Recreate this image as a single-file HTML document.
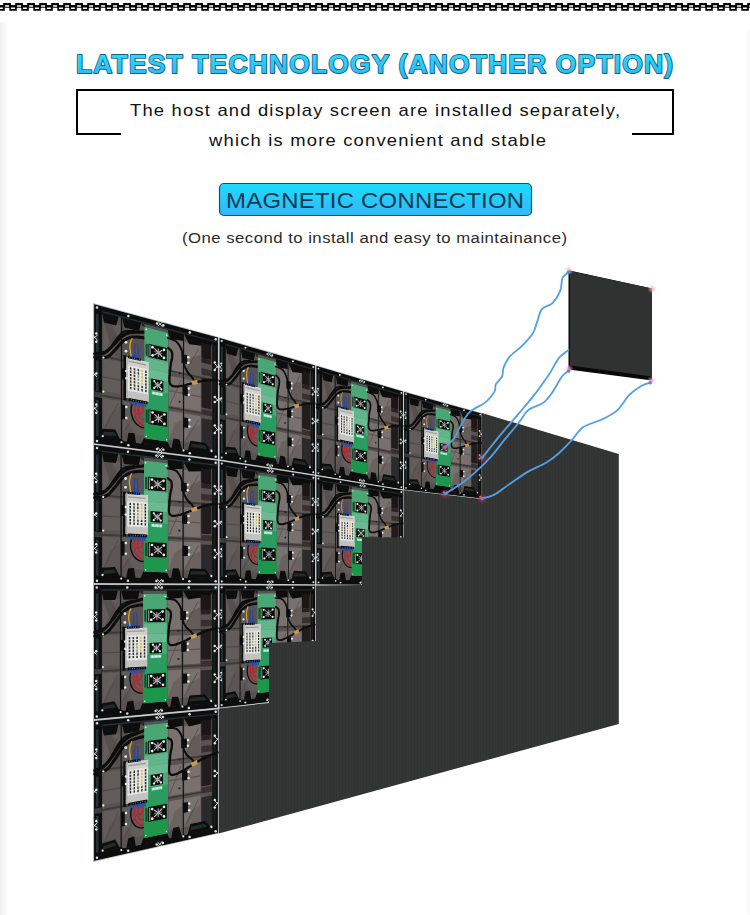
<!DOCTYPE html>
<html><head><meta charset="utf-8">
<style>
html,body{margin:0;padding:0;background:#fff;}
body{width:750px;height:915px;position:relative;overflow:hidden;font-family:"Liberation Sans",sans-serif;}
svg{position:absolute;left:0;top:0;}
text{font-family:"Liberation Sans",sans-serif;}
</style></head><body>
<svg width="750" height="915" viewBox="0 0 750 915">
<defs>
<linearGradient id="tg" x1="0" y1="0" x2="0" y2="1"><stop offset="0" stop-color="#2ce2ff"/><stop offset="1" stop-color="#2fb2f3"/></linearGradient>
<linearGradient id="bg" x1="0" y1="0" x2="0" y2="1"><stop offset="0" stop-color="#1fdcff"/><stop offset="1" stop-color="#30b8f7"/></linearGradient>
<linearGradient id="le" x1="0" y1="0" x2="1" y2="0"><stop offset="0" stop-color="#e9e9e9"/><stop offset="1" stop-color="#ffffff"/></linearGradient>
<filter id="soft" x="-2%" y="-2%" width="104%" height="104%"><feGaussianBlur stdDeviation="0.45"/></filter>
<linearGradient id="edgeL" x1="0" y1="0" x2="1" y2="0"><stop offset="0" stop-color="#f0f0f0"/><stop offset="1" stop-color="#ffffff"/></linearGradient>
<linearGradient id="edgeR" x1="0" y1="0" x2="1" y2="0"><stop offset="0" stop-color="#ffffff"/><stop offset="1" stop-color="#f8f8f8"/></linearGradient>
</defs>
<rect x="0" y="22" width="8" height="893" fill="url(#edgeL)"/>
<rect x="745" y="30" width="5" height="885" fill="url(#edgeR)"/>
<path d="M-8.8 3h7.700v4.700h-7.700zM-2.7 5h7.500v5.700h-7.500zM3.2 3h7.700v4.700h-7.700zM9.3 5h7.500v5.700h-7.500zM15.2 3h7.700v4.700h-7.700zM21.3 5h7.500v5.700h-7.500zM27.2 3h7.700v4.700h-7.700zM33.3 5h7.500v5.700h-7.500zM39.2 3h7.700v4.700h-7.700zM45.3 5h7.500v5.700h-7.500zM51.2 3h7.700v4.700h-7.700zM57.3 5h7.500v5.700h-7.500zM63.2 3h7.700v4.700h-7.700zM69.3 5h7.500v5.700h-7.500zM75.2 3h7.700v4.700h-7.700zM81.3 5h7.500v5.700h-7.500zM87.2 3h7.700v4.700h-7.700zM93.3 5h7.500v5.700h-7.500zM99.2 3h7.700v4.700h-7.700zM105.3 5h7.500v5.700h-7.500zM111.2 3h7.700v4.700h-7.700zM117.3 5h7.500v5.700h-7.500zM123.2 3h7.700v4.700h-7.700zM129.3 5h7.500v5.700h-7.500zM135.2 3h7.700v4.700h-7.700zM141.3 5h7.500v5.700h-7.500zM147.2 3h7.700v4.700h-7.700zM153.3 5h7.500v5.700h-7.500zM159.2 3h7.700v4.700h-7.700zM165.3 5h7.500v5.700h-7.500zM171.2 3h7.700v4.700h-7.700zM177.3 5h7.500v5.700h-7.500zM183.2 3h7.700v4.700h-7.700zM189.3 5h7.500v5.700h-7.500zM195.2 3h7.700v4.700h-7.700zM201.3 5h7.500v5.700h-7.500zM207.2 3h7.700v4.700h-7.700zM213.3 5h7.500v5.700h-7.500zM219.2 3h7.700v4.700h-7.700zM225.3 5h7.500v5.700h-7.500zM231.2 3h7.700v4.700h-7.700zM237.3 5h7.500v5.700h-7.500zM243.2 3h7.700v4.700h-7.700zM249.3 5h7.500v5.700h-7.500zM255.2 3h7.700v4.700h-7.700zM261.3 5h7.500v5.700h-7.500zM267.2 3h7.700v4.700h-7.700zM273.3 5h7.500v5.700h-7.500zM279.2 3h7.700v4.700h-7.700zM285.3 5h7.500v5.700h-7.500zM291.2 3h7.700v4.700h-7.700zM297.3 5h7.500v5.700h-7.500zM303.2 3h7.700v4.700h-7.700zM309.3 5h7.500v5.700h-7.500zM315.2 3h7.700v4.700h-7.700zM321.3 5h7.500v5.700h-7.500zM327.2 3h7.700v4.700h-7.700zM333.3 5h7.500v5.700h-7.500zM339.2 3h7.700v4.700h-7.700zM345.3 5h7.500v5.700h-7.500zM351.2 3h7.700v4.700h-7.700zM357.3 5h7.500v5.700h-7.500zM363.2 3h7.700v4.700h-7.700zM369.3 5h7.500v5.700h-7.500zM375.2 3h7.700v4.700h-7.700zM381.3 5h7.500v5.700h-7.500zM387.2 3h7.700v4.700h-7.700zM393.3 5h7.500v5.700h-7.500zM399.2 3h7.700v4.700h-7.700zM405.3 5h7.500v5.700h-7.500zM411.2 3h7.700v4.700h-7.700zM417.3 5h7.500v5.700h-7.500zM423.2 3h7.700v4.700h-7.700zM429.3 5h7.500v5.700h-7.500zM435.2 3h7.700v4.700h-7.700zM441.3 5h7.500v5.700h-7.500zM447.2 3h7.700v4.700h-7.700zM453.3 5h7.500v5.700h-7.500zM459.2 3h7.700v4.700h-7.700zM465.3 5h7.500v5.700h-7.500zM471.2 3h7.700v4.700h-7.700zM477.3 5h7.500v5.700h-7.500zM483.2 3h7.700v4.700h-7.700zM489.3 5h7.500v5.700h-7.500zM495.2 3h7.700v4.700h-7.700zM501.3 5h7.500v5.700h-7.500zM507.2 3h7.700v4.700h-7.700zM513.3 5h7.500v5.700h-7.500zM519.2 3h7.700v4.700h-7.700zM525.3 5h7.500v5.700h-7.500zM531.2 3h7.700v4.700h-7.700zM537.3 5h7.500v5.700h-7.500zM543.2 3h7.700v4.700h-7.700zM549.3 5h7.500v5.700h-7.500zM555.2 3h7.700v4.700h-7.700zM561.3 5h7.500v5.700h-7.500zM567.2 3h7.700v4.700h-7.700zM573.3 5h7.500v5.700h-7.500zM579.2 3h7.700v4.700h-7.700zM585.3 5h7.500v5.700h-7.500zM591.2 3h7.700v4.700h-7.700zM597.3 5h7.500v5.700h-7.500zM603.2 3h7.700v4.700h-7.700zM609.3 5h7.500v5.700h-7.500zM615.2 3h7.700v4.700h-7.700zM621.3 5h7.500v5.700h-7.500zM627.2 3h7.700v4.700h-7.700zM633.3 5h7.500v5.700h-7.500zM639.2 3h7.700v4.700h-7.700zM645.3 5h7.500v5.700h-7.500zM651.2 3h7.700v4.700h-7.700zM657.3 5h7.500v5.700h-7.500zM663.2 3h7.700v4.700h-7.700zM669.3 5h7.500v5.700h-7.500zM675.2 3h7.700v4.700h-7.700zM681.3 5h7.500v5.700h-7.500zM687.2 3h7.700v4.700h-7.700zM693.3 5h7.500v5.700h-7.500zM699.2 3h7.700v4.700h-7.700zM705.3 5h7.500v5.700h-7.500zM711.2 3h7.700v4.700h-7.700zM717.3 5h7.500v5.700h-7.500zM723.2 3h7.700v4.700h-7.700zM729.3 5h7.500v5.700h-7.500zM735.2 3h7.700v4.700h-7.700zM741.3 5h7.500v5.700h-7.500zM747.2 3h7.700v4.700h-7.700zM753.3 5h7.500v5.700h-7.500zM759.2 3h7.700v4.700h-7.700zM765.3 5h7.500v5.700h-7.500z" fill="#000"/>
<path d="M-6.9 5.200h3.900v1.500h-3.900zM-1 7.400h3.900v1.500h-3.900zM5.1 5.200h3.900v1.500h-3.900zM11 7.400h3.900v1.500h-3.900zM17.1 5.200h3.900v1.500h-3.900zM23 7.400h3.900v1.500h-3.900zM29.1 5.200h3.900v1.500h-3.900zM35 7.400h3.900v1.500h-3.900zM41.1 5.200h3.900v1.500h-3.900zM47 7.400h3.900v1.500h-3.900zM53.1 5.200h3.900v1.500h-3.900zM59 7.400h3.900v1.500h-3.900zM65.1 5.200h3.900v1.500h-3.900zM71 7.400h3.900v1.500h-3.900zM77.1 5.200h3.900v1.500h-3.900zM83 7.400h3.900v1.500h-3.900zM89.1 5.200h3.900v1.500h-3.900zM95 7.400h3.900v1.500h-3.900zM101.1 5.200h3.900v1.500h-3.900zM107 7.400h3.900v1.500h-3.900zM113.1 5.200h3.900v1.500h-3.900zM119 7.400h3.900v1.500h-3.900zM125.1 5.200h3.900v1.500h-3.900zM131 7.400h3.900v1.500h-3.900zM137.1 5.200h3.900v1.500h-3.900zM143 7.400h3.900v1.500h-3.900zM149.1 5.200h3.900v1.500h-3.900zM155 7.400h3.900v1.500h-3.900zM161.1 5.200h3.900v1.500h-3.900zM167 7.400h3.900v1.500h-3.900zM173.1 5.200h3.900v1.500h-3.900zM179 7.400h3.900v1.500h-3.900zM185.1 5.200h3.900v1.500h-3.900zM191 7.400h3.900v1.500h-3.900zM197.1 5.200h3.900v1.500h-3.900zM203 7.400h3.900v1.500h-3.900zM209.1 5.200h3.900v1.500h-3.900zM215 7.400h3.900v1.500h-3.900zM221.1 5.200h3.900v1.500h-3.900zM227 7.400h3.900v1.500h-3.900zM233.1 5.200h3.900v1.500h-3.900zM239 7.400h3.900v1.500h-3.900zM245.1 5.200h3.900v1.500h-3.900zM251 7.400h3.900v1.500h-3.900zM257.1 5.200h3.900v1.500h-3.900zM263 7.400h3.900v1.500h-3.900zM269.1 5.200h3.900v1.500h-3.900zM275 7.400h3.900v1.500h-3.900zM281.1 5.200h3.900v1.500h-3.900zM287 7.400h3.900v1.500h-3.900zM293.1 5.200h3.900v1.500h-3.900zM299 7.400h3.900v1.500h-3.900zM305.1 5.200h3.900v1.500h-3.900zM311 7.400h3.900v1.500h-3.900zM317.1 5.200h3.900v1.500h-3.900zM323 7.400h3.900v1.500h-3.900zM329.1 5.200h3.900v1.500h-3.900zM335 7.400h3.900v1.500h-3.900zM341.1 5.200h3.900v1.500h-3.900zM347 7.400h3.900v1.500h-3.900zM353.1 5.200h3.900v1.500h-3.900zM359 7.400h3.900v1.500h-3.900zM365.1 5.200h3.900v1.500h-3.900zM371 7.400h3.900v1.500h-3.900zM377.1 5.200h3.900v1.500h-3.900zM383 7.400h3.900v1.500h-3.900zM389.1 5.200h3.900v1.500h-3.900zM395 7.400h3.900v1.500h-3.900zM401.1 5.200h3.900v1.500h-3.900zM407 7.400h3.900v1.500h-3.900zM413.1 5.200h3.900v1.500h-3.900zM419 7.400h3.900v1.500h-3.900zM425.1 5.200h3.900v1.500h-3.900zM431 7.400h3.900v1.500h-3.900zM437.1 5.200h3.900v1.500h-3.900zM443 7.400h3.900v1.500h-3.900zM449.1 5.200h3.900v1.500h-3.900zM455 7.400h3.900v1.500h-3.900zM461.1 5.200h3.900v1.500h-3.900zM467 7.400h3.900v1.500h-3.900zM473.1 5.200h3.900v1.500h-3.900zM479 7.400h3.900v1.500h-3.900zM485.1 5.200h3.900v1.500h-3.900zM491 7.400h3.900v1.500h-3.900zM497.1 5.200h3.900v1.500h-3.900zM503 7.400h3.900v1.500h-3.900zM509.1 5.200h3.900v1.500h-3.900zM515 7.400h3.900v1.500h-3.900zM521.1 5.200h3.900v1.500h-3.900zM527 7.400h3.900v1.500h-3.900zM533.1 5.200h3.900v1.500h-3.900zM539 7.400h3.900v1.500h-3.900zM545.1 5.200h3.900v1.500h-3.900zM551 7.400h3.900v1.500h-3.900zM557.1 5.200h3.900v1.500h-3.900zM563 7.400h3.900v1.500h-3.900zM569.1 5.200h3.900v1.500h-3.900zM575 7.400h3.900v1.500h-3.900zM581.1 5.200h3.900v1.500h-3.900zM587 7.400h3.900v1.500h-3.900zM593.1 5.200h3.900v1.500h-3.900zM599 7.400h3.900v1.500h-3.900zM605.1 5.200h3.900v1.500h-3.900zM611 7.400h3.900v1.500h-3.900zM617.1 5.200h3.900v1.500h-3.900zM623 7.400h3.900v1.500h-3.900zM629.1 5.200h3.900v1.500h-3.900zM635 7.400h3.900v1.500h-3.900zM641.1 5.200h3.900v1.500h-3.900zM647 7.400h3.900v1.500h-3.900zM653.1 5.200h3.900v1.500h-3.900zM659 7.400h3.900v1.500h-3.900zM665.1 5.200h3.900v1.500h-3.900zM671 7.400h3.900v1.500h-3.900zM677.1 5.200h3.900v1.500h-3.900zM683 7.400h3.900v1.500h-3.900zM689.1 5.200h3.900v1.500h-3.900zM695 7.400h3.900v1.500h-3.900zM701.1 5.200h3.900v1.500h-3.900zM707 7.400h3.900v1.500h-3.900zM713.1 5.200h3.900v1.500h-3.900zM719 7.400h3.900v1.500h-3.900zM725.1 5.200h3.900v1.500h-3.900zM731 7.400h3.900v1.500h-3.900zM737.1 5.200h3.900v1.500h-3.900zM743 7.400h3.900v1.500h-3.900zM749.1 5.200h3.900v1.500h-3.900zM755 7.400h3.900v1.500h-3.900zM761.1 5.200h3.900v1.500h-3.900zM767 7.400h3.900v1.500h-3.900z" fill="#fff"/>
<text x="374.5" y="72.5" text-anchor="middle" font-size="26.5" font-weight="bold" fill="url(#tg)" stroke="#15617f" stroke-width="1.800" paint-order="stroke" stroke-linejoin="round" textLength="597" lengthAdjust="spacing">LATEST TECHNOLOGY (ANOTHER OPTION)</text>
<path d="M121 134H77V90H673V134H632" fill="none" stroke="#000" stroke-width="2"/>
<text transform="translate(375 115.8) scale(1.15 1)" x="0" y="0" text-anchor="middle" font-size="16" fill="#111" textLength="426.1" lengthAdjust="spacing">The host and display screen are installed separately,</text>
<text transform="translate(377.5 145.7) scale(1.15 1)" x="0" y="0" text-anchor="middle" font-size="16" fill="#111" textLength="293.0" lengthAdjust="spacing">which is more convenient and stable</text>
<rect x="219.500" y="183.500" width="312" height="32" rx="4.500" fill="url(#bg)" stroke="#17506e" stroke-width="1.200"/>
<text transform="translate(375 207.6) scale(1.1 1)" x="0" y="0" text-anchor="middle" font-size="21.7" fill="#123a52" textLength="270.9" lengthAdjust="spacing">MAGNETIC CONNECTION</text>
<text transform="translate(374.5 243.2) scale(1.08 1)" x="0" y="0" text-anchor="middle" font-size="15.5" fill="#2a2a2a" textLength="356.5" lengthAdjust="spacing">(One second to install and easy to maintainance)</text>

<g id="wall" filter="url(#soft)">
<polygon points="93.0,303.0 218.7,337.0 218.7,460.0 93.0,444.0" fill="#b9bcbc"/>
<polygon points="94.2,304.3 217.8,337.6 217.8,459.0 94.2,443.2" fill="#0b0d0d"/>
<polygon points="102.0,312.4 212.6,341.6 212.6,453.7 102.0,438.9" fill="#595352"/>
<polygon points="103.3,321.1 120.5,325.5 120.5,357.7 103.3,353.9" fill="#625c5a"/>
<polygon points="103.3,358.8 120.5,362.5 120.5,394.0 103.3,390.9" fill="#625c5a"/>
<polygon points="103.3,397.9 120.5,400.9 120.5,432.4 103.3,430.0" fill="#625c5a"/>
<polygon points="122.8,326.1 144.2,331.6 144.2,361.0 122.8,356.2" fill="#595352"/>
<polygon points="122.8,401.3 144.2,405.1 144.2,435.8 122.8,432.7" fill="#625c5a"/>
<polygon points="168.8,337.8 182.7,341.4 182.7,374.7 168.8,371.7" fill="#78716e"/>
<polygon points="168.8,375.6 182.7,378.5 182.7,408.0 168.8,405.5" fill="#78716e"/>
<polygon points="168.8,410.7 182.7,413.1 182.7,441.3 168.8,439.3" fill="#78716e"/>
<polygon points="184.5,341.8 200.8,346.0 200.8,377.4 184.5,373.8" fill="#78716e"/>
<polygon points="184.5,378.9 200.8,382.4 200.8,411.3 184.5,408.3" fill="#78716e"/>
<polygon points="184.5,413.4 200.8,416.3 200.8,443.9 184.5,441.6" fill="#78716e"/>
<polygon points="103.3,321.1 111.4,323.2 120.5,343.3 120.5,357.7 114.1,356.3" fill="#57504e"/>
<polygon points="103.3,430.0 110.0,412.9 120.5,406.4 120.5,432.4" fill="#5b5452"/>
<polygon points="184.5,373.8 191.6,357.6 200.8,354.8 200.8,377.4" fill="#645c59"/>
<polygon points="168.8,439.3 174.9,423.4 182.7,419.5 182.7,441.3" fill="#6a625f"/>
<polygon points="184.5,441.6 190.4,428.4 200.8,425.1 200.8,443.9" fill="#6a625f"/>
<polygon points="122.8,432.7 127.8,421.2 134.4,434.4" fill="#5b5452"/>
<polyline points="104.4,428.7 118.3,403.3" fill="none" stroke="#4c4644" stroke-width="0.67" stroke-linecap="round" stroke-linejoin="round"/>
<polyline points="123.7,431.5 139.7,409.6" fill="none" stroke="#4c4644" stroke-width="0.67" stroke-linecap="round" stroke-linejoin="round"/>
<polyline points="170.0,404.4 180.9,380.7" fill="none" stroke="#4c4644" stroke-width="0.67" stroke-linecap="round" stroke-linejoin="round"/>
<polyline points="185.7,440.5 198.5,419.7" fill="none" stroke="#4c4644" stroke-width="0.67" stroke-linecap="round" stroke-linejoin="round"/>
<polyline points="185.7,371.5 198.5,349.2" fill="none" stroke="#4c4644" stroke-width="0.67" stroke-linecap="round" stroke-linejoin="round"/>
<polyline points="104.4,352.1 118.3,329.1" fill="none" stroke="#4c4644" stroke-width="0.67" stroke-linecap="round" stroke-linejoin="round"/>
<polygon points="102.0,355.0 212.6,379.3 212.6,381.1 102.0,357.0" fill="#3f3938"/>
<polygon points="102.0,394.6 212.6,414.4 212.6,416.1 102.0,396.5" fill="#3f3938"/>
<polygon points="102.0,376.0 121.0,379.8 121.0,381.1 102.0,377.4" fill="#514a48"/>
<polygon points="168.8,389.9 200.8,396.2 200.8,397.4 168.8,391.2" fill="#5d5553"/>
<polygon points="95.2,309.1 217.1,341.4 217.1,342.8 95.2,310.8" fill="#203234"/>
<polygon points="102.0,312.4 118.7,316.8 116.2,325.5 104.0,322.4" fill="#0b0d0d"/>
<polygon points="122.1,317.7 141.2,322.8 139.1,330.9 124.5,327.6" fill="#0b0d0d"/>
<polygon points="141.2,322.8 144.6,323.6 144.6,327.6 142.0,325.6" fill="#2a2626"/>
<polygon points="168.2,329.9 183.1,333.8 183.1,340.8 171.3,339.1 168.2,335.1" fill="#0b0d0d"/>
<polygon points="184.0,334.0 212.6,341.6 211.0,346.7 189.2,344.3" fill="#0b0d0d"/>
<polygon points="120.9,317.4 122.1,317.7 122.1,441.5 120.9,441.4" fill="#0b0d0d"/>
<polygon points="183.1,333.8 184.0,334.0 184.0,449.8 183.1,449.7" fill="#0b0d0d"/>
<polygon points="94.7,309.1 102.0,311.0 102.0,439.6 94.7,438.6" fill="#0b0d0d"/>
<polygon points="96.0,313.7 98.6,314.3 98.6,352.2 96.0,351.6" fill="#203234"/>
<polygon points="96.0,360.0 98.6,360.6 98.6,391.4 96.0,391.0" fill="#203234"/>
<polygon points="96.0,399.4 98.6,399.8 98.6,436.3 96.0,435.9" fill="#203234"/>
<polygon points="94.7,352.7 102.0,354.3 102.0,359.9 94.7,358.4" fill="#2f3030"/>
<polygon points="94.7,391.4 102.0,392.8 102.0,398.3 94.7,397.1" fill="#3c3a3a"/>
<polygon points="201.5,342.8 211.2,345.3 211.2,360.3 201.5,357.9" fill="#1a1817"/>
<polygon points="201.5,357.9 211.2,360.3 211.2,364.7 201.5,362.5" fill="#2b2423"/>
<polygon points="201.5,368.1 213.7,370.9 213.7,377.1 201.5,374.4" fill="#3b2f2d"/>
<polygon points="201.5,377.5 211.5,379.7 211.5,409.5 201.5,407.6" fill="#201e1e"/>
<polygon points="201.5,408.9 214.0,411.2 214.0,416.7 201.5,414.5" fill="#3b2f2d"/>
<polygon points="201.5,418.3 212.4,420.2 212.4,449.3 201.5,447.8" fill="#2b2929"/>
<polygon points="212.4,341.5 217.5,342.8 217.5,454.9 212.4,454.2" fill="#0d1010"/>
<polygon points="213.7,345.6 215.4,346.0 215.4,452.2 213.7,451.9" fill="#1c2424"/>
<polygon points="94.7,437.6 217.5,454.1 217.5,458.6 94.7,442.8" fill="#0b0d0d"/>
<polygon points="98.2,439.0 102.3,428.8 115.3,429.6 119.6,438.5 126.0,442.2" fill="#0b0d0d"/>
<polygon points="126.7,442.2 128.4,433.0 134.4,433.1 136.1,443.4" fill="#0b0d0d"/>
<polygon points="141.2,444.1 144.0,437.8 167.5,441.7 170.2,448.0" fill="#0b0d0d"/>
<polygon points="171.6,448.2 173.5,438.4 179.4,439.4 182.0,449.6" fill="#0b0d0d"/>
<polygon points="187.8,450.3 190.6,440.7 205.6,443.1 212.6,453.7" fill="#0b0d0d"/>
<polygon points="103.7,431.8 114.4,432.1 116.9,436.0 102.3,435.4" fill="#222a2a"/>
<polygon points="191.6,443.3 204.4,445.3 207.6,449.2 190.4,446.9" fill="#222a2a"/>
<polyline points="94.7,353.7 95.7,353.7 97.1,353.8 98.8,353.9 100.5,353.9 102.3,353.6 104.0,353.1 105.5,352.2 107.1,351.0 108.7,349.6 110.3,348.1 111.8,346.5 113.3,345.1 114.8,343.7 116.2,342.1 117.6,340.6 118.9,339.1 120.3,337.8 121.7,336.6 123.0,335.7 124.3,334.9 125.5,334.2 126.9,333.6 128.4,333.1 130.2,332.7 132.4,332.4 135.1,332.2 138.0,332.1 140.7,332.1 143.0,332.1 144.6,332.1" fill="none" stroke="#0b0d0d" stroke-width="3.07" stroke-linecap="round" stroke-linejoin="round"/>
<polyline points="94.7,357.2 96.1,357.3 98.0,357.5 100.3,357.6 102.6,357.7 104.8,357.5 106.8,357.1 108.4,356.2 109.9,355.2 111.3,353.9 112.6,352.5 113.9,351.0 115.3,349.7 116.5,348.3 117.8,346.9 119.0,345.4 120.2,344.0 121.4,342.6 122.6,341.5 123.9,340.6 125.1,339.7 126.3,339.0 127.6,338.4 128.9,337.9 130.2,337.5 131.5,337.2 133.0,337.0 134.4,337.0 135.9,337.0 137.2,337.0 138.5,337.1 139.7,337.2 140.9,337.4 142.1,337.6 143.1,337.8 144.0,337.9 144.6,338.1" fill="none" stroke="#0b0d0d" stroke-width="3.07" stroke-linecap="round" stroke-linejoin="round"/>
<polyline points="101.6,352.1 102.3,352.0 103.4,352.0 104.7,351.8 106.0,351.6 107.4,351.1 108.6,350.2 109.7,349.0 110.9,347.4 112.0,345.6 113.1,343.6 114.3,341.8 115.5,340.1 116.8,338.5 118.1,336.9 119.4,335.4 120.7,333.9 122.2,332.7 123.7,331.8 125.5,331.2 127.5,331.0 129.6,330.9 131.6,331.0 133.2,331.1 134.4,331.1" fill="none" stroke="#0b0d0d" stroke-width="2.00" stroke-linecap="round" stroke-linejoin="round"/>
<polygon points="144.6,327.1 168.2,333.2 168.2,441.6 144.6,438.3" fill="#2d9c5f"/>
<polygon points="144.6,327.1 168.2,333.2 168.2,348.1 144.6,342.3" fill="#4ba675"/>
<polygon points="144.6,342.3 168.2,348.1 168.2,362.4 144.6,357.0" fill="#47a672"/>
<polygon points="144.6,357.0 168.2,362.4 168.2,372.8 144.6,367.7" fill="#62b48a"/>
<polygon points="144.6,367.7 168.2,372.8 168.2,381.9 144.6,377.1" fill="#6ab990"/>
<polygon points="144.6,377.1 168.2,381.9 168.2,393.7 144.6,389.1" fill="#48a876"/>
<polygon points="144.6,389.1 168.2,393.7 168.2,411.9 144.6,407.8" fill="#2a9c60"/>
<polygon points="144.6,407.8 168.2,411.9 168.2,427.5 144.6,423.8" fill="#239a52"/>
<polygon points="144.6,423.8 168.2,427.5 168.2,441.6 144.6,438.3" fill="#1a964c"/>
<polygon points="148.5,343.7 166.7,348.1 166.7,361.0 148.5,356.9" fill="#0a0a0a"/>
<circle cx="152.6" cy="347.2" r="1.33" fill="#f4f4f4"/>
<circle cx="164.0" cy="349.9" r="1.33" fill="#f4f4f4"/>
<circle cx="152.6" cy="355.3" r="1.33" fill="#f4f4f4"/>
<circle cx="164.0" cy="357.9" r="1.33" fill="#f4f4f4"/>
<polyline points="154.7,348.7 161.9,356.5" fill="none" stroke="#c4c4c4" stroke-width="1.20" stroke-linecap="round" stroke-linejoin="round"/>
<polyline points="161.9,350.4 154.7,354.8" fill="none" stroke="#c4c4c4" stroke-width="1.20" stroke-linecap="round" stroke-linejoin="round"/>
<polyline points="158.3,348.8 158.3,356.4" fill="none" stroke="#b0b0b0" stroke-width="1.07" stroke-linecap="round" stroke-linejoin="round"/>
<polyline points="154.7,351.7 161.9,353.4" fill="none" stroke="#9a9a9a" stroke-width="0.80" stroke-linecap="round" stroke-linejoin="round"/>
<polygon points="151.0,378.4 163.3,380.9 163.3,391.7 151.0,389.3" fill="#0a0a0a"/>
<circle cx="154.3" cy="381.1" r="1.13" fill="#f4f4f4"/>
<circle cx="161.3" cy="382.5" r="1.13" fill="#f4f4f4"/>
<circle cx="154.3" cy="387.9" r="1.13" fill="#f4f4f4"/>
<circle cx="161.3" cy="389.3" r="1.13" fill="#f4f4f4"/>
<polyline points="155.0,382.3 160.6,388.1" fill="none" stroke="#c4c4c4" stroke-width="1.20" stroke-linecap="round" stroke-linejoin="round"/>
<polyline points="160.6,383.4 155.0,387.0" fill="none" stroke="#c4c4c4" stroke-width="1.20" stroke-linecap="round" stroke-linejoin="round"/>
<polyline points="157.8,382.3 157.8,388.1" fill="none" stroke="#b0b0b0" stroke-width="1.07" stroke-linecap="round" stroke-linejoin="round"/>
<polyline points="155.0,384.6 160.6,385.8" fill="none" stroke="#9a9a9a" stroke-width="0.80" stroke-linecap="round" stroke-linejoin="round"/>
<polygon points="148.5,409.3 167.1,412.5 167.1,426.8 148.5,423.9" fill="#0a0a0a"/>
<circle cx="152.6" cy="412.5" r="1.33" fill="#f4f4f4"/>
<circle cx="164.4" cy="414.5" r="1.33" fill="#f4f4f4"/>
<circle cx="152.6" cy="422.0" r="1.33" fill="#f4f4f4"/>
<circle cx="164.4" cy="423.9" r="1.33" fill="#f4f4f4"/>
<polyline points="154.9,414.6 162.1,421.9" fill="none" stroke="#c4c4c4" stroke-width="1.20" stroke-linecap="round" stroke-linejoin="round"/>
<polyline points="162.1,415.8 154.9,420.7" fill="none" stroke="#c4c4c4" stroke-width="1.20" stroke-linecap="round" stroke-linejoin="round"/>
<polyline points="158.5,414.4 158.5,422.1" fill="none" stroke="#b0b0b0" stroke-width="1.07" stroke-linecap="round" stroke-linejoin="round"/>
<polyline points="154.9,417.6 162.1,418.8" fill="none" stroke="#9a9a9a" stroke-width="0.80" stroke-linecap="round" stroke-linejoin="round"/>
<polygon points="145.6,343.7 147.7,344.2 147.7,356.0 145.6,355.5" fill="#174c30"/>
<polygon points="145.6,409.3 147.7,409.7 147.7,423.0 145.6,422.7" fill="#174c30"/>
<polygon points="149.4,344.8 150.7,345.1 150.7,356.4 149.4,356.1" fill="#8a8f8c"/>
<polygon points="149.4,410.4 150.7,410.6 150.7,423.5 149.4,423.3" fill="#8a8f8c"/>
<polygon points="151.9,391.2 162.6,393.2 162.6,396.3 151.9,394.2" fill="#a8dcc0"/>
<circle cx="153.8" cy="393.0" r="0.93" fill="#eef"/>
<circle cx="157.6" cy="393.7" r="0.93" fill="#eef"/>
<circle cx="161.4" cy="394.4" r="0.93" fill="#eef"/>
<polygon points="123.4,355.0 126.4,355.6 126.4,400.6 123.4,400.1" fill="#0d0d0d"/>
<polygon points="126.1,357.3 148.5,362.3 148.5,401.8 126.1,397.8" fill="#e6e6e3"/>
<polygon points="126.1,357.3 148.5,362.3 148.5,369.6 126.1,364.8" fill="#cfcfcc"/>
<polygon points="128.4,360.4 146.2,364.3 146.2,365.7 128.4,361.8" fill="#9a9a98"/>
<polygon points="126.1,390.3 148.5,394.5 148.5,401.8 126.1,397.8" fill="#c2c2c0"/>
<polygon points="126.1,357.3 127.6,357.7 127.6,398.1 126.1,397.8" fill="#a9a9a7"/>
<polygon points="129.9,367.2 131.5,367.5 131.5,369.8 129.9,369.5" fill="#333333"/>
<polygon points="129.9,370.5 131.5,370.8 131.5,373.1 129.9,372.8" fill="#333333"/>
<polygon points="129.9,373.7 131.5,374.0 131.5,376.3 129.9,376.0" fill="#333333"/>
<polygon points="129.9,377.0 131.5,377.3 131.5,379.6 129.9,379.3" fill="#333333"/>
<polygon points="129.9,380.2 131.5,380.5 131.5,382.8 129.9,382.5" fill="#333333"/>
<polygon points="129.9,383.5 131.5,383.8 131.5,386.1 129.9,385.8" fill="#333333"/>
<polygon points="129.9,386.7 131.5,387.0 131.5,389.4 129.9,389.0" fill="#333333"/>
<polygon points="133.7,368.0 135.3,368.4 135.3,370.7 133.7,370.3" fill="#333333"/>
<polygon points="133.7,371.3 135.3,371.6 135.3,373.9 133.7,373.6" fill="#333333"/>
<polygon points="133.7,374.5 135.3,374.8 135.3,377.1 133.7,376.8" fill="#333333"/>
<polygon points="133.7,377.8 135.3,378.1 135.3,380.4 133.7,380.1" fill="#333333"/>
<polygon points="133.7,381.0 135.3,381.3 135.3,383.6 133.7,383.3" fill="#333333"/>
<polygon points="133.7,384.2 135.3,384.6 135.3,386.8 133.7,386.5" fill="#333333"/>
<polygon points="133.7,387.5 135.3,387.8 135.3,390.1 133.7,389.8" fill="#333333"/>
<polygon points="137.6,368.8 139.1,369.2 139.1,371.5 137.6,371.1" fill="#333333"/>
<polygon points="137.6,372.1 139.1,372.4 139.1,374.7 137.6,374.4" fill="#333333"/>
<polygon points="137.6,375.3 139.1,375.6 139.1,377.9 137.6,377.6" fill="#8a8f60"/>
<polygon points="137.6,378.5 139.1,378.8 139.1,381.1 137.6,380.8" fill="#8a8f60"/>
<polygon points="137.6,381.8 139.1,382.1 139.1,384.4 137.6,384.0" fill="#8a8f60"/>
<polygon points="137.6,385.0 139.1,385.3 139.1,387.6 137.6,387.3" fill="#333333"/>
<polygon points="137.6,388.2 139.1,388.5 139.1,390.8 137.6,390.5" fill="#333333"/>
<polygon points="141.4,369.6 142.9,370.0 142.9,372.3 141.4,371.9" fill="#cdb85e"/>
<polygon points="141.4,372.9 142.9,373.2 142.9,375.5 141.4,375.1" fill="#cdb85e"/>
<polygon points="141.4,376.1 142.9,376.4 142.9,378.7 141.4,378.4" fill="#cdb85e"/>
<polygon points="141.4,379.3 142.9,379.6 142.9,381.9 141.4,381.6" fill="#cdb85e"/>
<polygon points="141.4,382.5 142.9,382.8 142.9,385.1 141.4,384.8" fill="#cdb85e"/>
<polygon points="141.4,385.7 142.9,386.0 142.9,388.3 141.4,388.0" fill="#333333"/>
<polygon points="141.4,389.0 142.9,389.3 142.9,391.5 141.4,391.2" fill="#333333"/>
<polygon points="145.1,370.4 146.7,370.8 146.7,373.0 145.1,372.7" fill="#333333"/>
<polygon points="145.1,373.7 146.7,374.0 146.7,376.2 145.1,375.9" fill="#333333"/>
<polygon points="145.1,376.9 146.7,377.2 146.7,379.4 145.1,379.1" fill="#333333"/>
<polygon points="145.1,380.1 146.7,380.4 146.7,382.6 145.1,382.3" fill="#333333"/>
<polygon points="145.1,383.3 146.7,383.6 146.7,385.8 145.1,385.5" fill="#333333"/>
<polygon points="145.1,386.5 146.7,386.8 146.7,389.0 145.1,388.7" fill="#333333"/>
<polygon points="145.1,389.7 146.7,390.0 146.7,392.2 145.1,391.9" fill="#333333"/>
<polygon points="128.0,355.6 140.7,358.4 140.7,361.0 128.0,358.2" fill="#0c0c0c"/>
<polygon points="129.0,353.2 130.6,353.6 130.6,356.8 129.0,356.5" fill="#1b4fb4"/>
<circle cx="129.8" cy="357.6" r="0.47" fill="#cfcfcf"/>
<polygon points="131.4,353.8 133.0,354.1 133.0,357.4 131.4,357.0" fill="#1b4fb4"/>
<circle cx="132.2" cy="358.1" r="0.47" fill="#cfcfcf"/>
<polygon points="133.7,354.3 135.3,354.7 135.3,357.9 133.7,357.5" fill="#1b4fb4"/>
<circle cx="134.5" cy="358.7" r="0.47" fill="#cfcfcf"/>
<polygon points="136.1,354.8 137.7,355.2 137.7,358.4 136.1,358.1" fill="#1b4fb4"/>
<circle cx="136.9" cy="359.2" r="0.47" fill="#cfcfcf"/>
<polygon points="138.5,355.4 140.1,355.7 140.1,359.0 138.5,358.6" fill="#1b4fb4"/>
<circle cx="139.3" cy="359.7" r="0.47" fill="#cfcfcf"/>
<polygon points="128.7,398.0 147.5,401.4 147.5,404.3 128.7,401.0" fill="#0c0c0c"/>
<polygon points="130.4,400.7 132.0,401.0 132.0,405.1 130.4,404.8" fill="#1b4fb4"/>
<circle cx="131.2" cy="399.8" r="0.47" fill="#cfcfcf"/>
<polygon points="132.8,401.2 134.4,401.5 134.4,405.5 132.8,405.2" fill="#1b4fb4"/>
<circle cx="133.6" cy="400.2" r="0.47" fill="#cfcfcf"/>
<polygon points="135.2,401.6 136.8,401.9 136.8,405.9 135.2,405.6" fill="#1b4fb4"/>
<circle cx="136.0" cy="400.7" r="0.47" fill="#cfcfcf"/>
<polygon points="137.6,402.0 139.1,402.3 139.1,406.3 137.6,406.1" fill="#1b4fb4"/>
<circle cx="138.4" cy="401.1" r="0.47" fill="#cfcfcf"/>
<polygon points="139.9,402.4 141.5,402.7 141.5,406.7 139.9,406.5" fill="#1b4fb4"/>
<circle cx="140.7" cy="401.5" r="0.47" fill="#cfcfcf"/>
<polygon points="142.3,402.9 143.8,403.1 143.8,407.1 142.3,406.9" fill="#1b4fb4"/>
<circle cx="143.1" cy="401.9" r="0.47" fill="#cfcfcf"/>
<polygon points="144.6,403.3 146.2,403.5 146.2,407.5 144.6,407.3" fill="#1b4fb4"/>
<circle cx="145.4" cy="402.3" r="0.47" fill="#cfcfcf"/>
<polyline points="131.1,356.0 130.9,355.0 130.7,353.5 130.4,351.8 130.2,350.0 130.0,348.3 129.9,346.9 129.9,345.8 130.0,344.8 130.1,343.9 130.3,343.1 130.5,342.4 130.7,341.7 130.9,341.0 131.1,340.4 131.4,339.8 131.7,339.3 131.9,338.9 132.0,338.6" fill="none" stroke="#dba21c" stroke-width="1.33" stroke-linecap="round" stroke-linejoin="round"/>
<polyline points="135.1,356.9 135.0,356.1 134.9,354.9 134.8,353.5 134.7,352.0 134.7,350.6 134.7,349.4 134.7,348.2 134.9,347.1 135.0,346.0 135.2,345.0 135.4,344.1 135.5,343.5" fill="none" stroke="#2c3f9e" stroke-width="1.20" stroke-linecap="round" stroke-linejoin="round"/>
<polyline points="138.1,357.6 138.1,356.8 138.2,355.6 138.3,354.3 138.3,352.8 138.4,351.4 138.4,350.2 138.3,349.1 138.2,348.1 138.0,347.0 137.9,346.1 137.8,345.3 137.7,344.7" fill="none" stroke="#2c3f9e" stroke-width="1.20" stroke-linecap="round" stroke-linejoin="round"/>
<polyline points="135.7,405.6 135.2,407.1 134.9,408.7 134.8,410.4 134.7,412.1 134.9,413.7 135.2,415.4 135.6,417.0 136.3,418.5 137.0,419.9 137.9,421.3 139.0,422.4 140.1,423.5 141.5,424.3 142.9,424.9" fill="none" stroke="#c81e2b" stroke-width="1.60" stroke-linecap="round" stroke-linejoin="round"/>
<polyline points="139.0,406.2 138.5,407.4 138.2,408.7 138.0,410.0 138.0,411.3 138.1,412.6 138.3,413.8 138.6,415.0 139.0,416.1 139.6,417.1 140.2,418.0 141.0,418.7 141.8,419.2 142.6,419.5 143.6,419.7" fill="none" stroke="#c81e2b" stroke-width="1.60" stroke-linecap="round" stroke-linejoin="round"/>
<polyline points="142.3,406.7 142.6,407.8 142.8,408.8 142.9,409.8 142.8,410.7 142.6,411.5 142.3,412.1 142.0,412.7 141.5,413.1 141.0,413.4 140.4,413.5 139.8,413.5 139.1,413.2 138.4,412.7 137.7,412.0" fill="none" stroke="#c81e2b" stroke-width="1.47" stroke-linecap="round" stroke-linejoin="round"/>
<polyline points="131.8,404.9 131.3,407.0 131.1,409.2 131.1,411.3 131.3,413.4 131.8,415.5 132.4,417.5 133.3,419.5 134.3,421.2 135.4,422.9 136.8,424.3 138.3,425.5 139.9,426.5 141.7,427.3 143.6,427.7" fill="none" stroke="#0b0d0d" stroke-width="1.47" stroke-linecap="round" stroke-linejoin="round"/>
<polyline points="168.0,338.0 168.6,338.2 169.5,338.5 170.6,338.8 171.7,339.2 172.8,339.7 173.7,340.1 174.5,340.5 175.3,340.9 176.0,341.4 176.7,341.9 177.4,342.6 178.0,343.4 178.8,344.4 179.5,345.6 180.2,346.9 180.9,348.2 181.5,349.7 182.0,351.1 182.3,352.5 182.6,354.0 182.7,355.6 182.8,357.2 183.0,358.7 183.2,360.1 183.4,361.3 183.7,362.6 184.0,363.7 184.3,364.9 184.6,365.9 185.0,367.0 185.4,368.0 185.9,369.0 186.4,370.0 186.9,370.9 187.5,371.8 188.0,372.7 188.7,373.5 189.4,374.4 190.1,375.2 190.8,375.9 191.5,376.7 192.0,377.3 192.5,378.0 192.9,378.6 193.2,379.1 193.5,379.6 193.7,380.0 193.9,380.3" fill="none" stroke="#0b0d0d" stroke-width="2.00" stroke-linecap="round" stroke-linejoin="round"/>
<polyline points="168.2,348.0 168.6,348.3 169.2,348.8 169.9,349.4 170.6,350.1 171.2,350.8 171.6,351.5 171.9,352.3 172.1,353.1 172.2,353.9 172.3,354.8 172.3,355.8 172.2,356.8 172.1,357.9 171.9,359.1 171.6,360.3 171.3,361.6 171.0,362.9 170.8,364.3 170.6,365.7 170.4,367.2 170.3,368.7 170.1,370.3 170.0,371.8 169.9,373.2 169.8,374.6 169.6,376.0 169.5,377.3 169.4,378.6 169.4,379.8 169.4,380.9 169.6,381.8 169.8,382.7 170.0,383.4 170.3,384.1 170.8,384.7 171.3,385.2 171.9,385.6 172.5,385.9 173.3,386.1 174.1,386.3 175.1,386.4 176.1,386.4 177.3,386.4 178.7,386.3 180.1,386.1 181.6,385.8 183.1,385.6 184.5,385.3 185.9,385.0 187.3,384.6 188.8,384.2 190.1,383.9 191.2,383.5 192.0,383.3" fill="none" stroke="#0b0d0d" stroke-width="2.27" stroke-linecap="round" stroke-linejoin="round"/>
<polyline points="197.3,382.0 198.1,381.9 199.2,381.6 200.4,381.4 201.8,381.1 203.0,380.8 204.2,380.6 205.2,380.5 206.1,380.3 207.0,380.2 207.9,380.1 208.9,380.0 209.9,380.0 211.2,380.0 212.7,380.0 214.1,380.0 215.6,380.0 216.8,380.0 217.6,380.1" fill="none" stroke="#0b0d0d" stroke-width="2.40" stroke-linecap="round" stroke-linejoin="round"/>
<polygon points="191.0,381.0 197.0,380.1 198.0,384.1 192.5,385.0" fill="#c9994f"/>
<polygon points="181.5,353.9 187.2,355.3 187.2,364.2 181.5,362.9" fill="#0b0d0d"/>
<circle cx="188.3" cy="357.2" r="1.27" fill="#e8e8e8"/>
<circle cx="188.3" cy="362.8" r="1.27" fill="#e8e8e8"/>
<polygon points="182.5,385.5 187.8,386.6 187.8,396.2 182.5,395.1" fill="#0b0d0d"/>
<circle cx="188.9" cy="388.5" r="1.27" fill="#e8e8e8"/>
<circle cx="188.9" cy="394.7" r="1.27" fill="#e8e8e8"/>
<polygon points="183.1,417.3 188.4,418.2 188.4,428.1 183.1,427.3" fill="#0b0d0d"/>
<circle cx="189.4" cy="420.0" r="1.27" fill="#e8e8e8"/>
<circle cx="189.4" cy="426.6" r="1.27" fill="#e8e8e8"/>
<polygon points="121.3,368.2 125.1,369.0 125.1,379.9 121.3,379.1" fill="#0b0d0d"/>
<circle cx="126.3" cy="371.0" r="1.27" fill="#e8e8e8"/>
<circle cx="126.3" cy="378.3" r="1.27" fill="#e8e8e8"/>
<polygon points="121.5,404.5 125.1,405.1 125.1,419.4 121.5,418.9" fill="#0b0d0d"/>
<circle cx="126.3" cy="407.1" r="1.27" fill="#e8e8e8"/>
<circle cx="126.3" cy="417.9" r="1.27" fill="#e8e8e8"/>
<circle cx="126.0" cy="342.3" r="1.40" fill="#e8e8e8"/>
<circle cx="126.0" cy="351.2" r="1.40" fill="#e8e8e8"/>
<circle cx="179.7" cy="401.7" r="1.07" fill="#222"/>
<circle cx="179.7" cy="373.4" r="1.07" fill="#222"/>
<circle cx="97.0" cy="307.6" r="1.27" fill="#e0e0e0"/>
<circle cx="128.4" cy="316.0" r="1.27" fill="#e0e0e0"/>
<circle cx="157.0" cy="323.6" r="1.27" fill="#e0e0e0"/>
<circle cx="163.3" cy="325.3" r="1.27" fill="#e0e0e0"/>
<circle cx="189.8" cy="332.4" r="1.27" fill="#e0e0e0"/>
<circle cx="215.7" cy="339.3" r="1.27" fill="#e0e0e0"/>
<circle cx="97.0" cy="441.1" r="1.27" fill="#e0e0e0"/>
<circle cx="128.4" cy="445.2" r="1.27" fill="#e0e0e0"/>
<circle cx="157.0" cy="449.0" r="1.27" fill="#e0e0e0"/>
<circle cx="163.3" cy="449.8" r="1.27" fill="#e0e0e0"/>
<circle cx="189.8" cy="453.3" r="1.27" fill="#e0e0e0"/>
<circle cx="215.7" cy="456.7" r="1.27" fill="#e0e0e0"/>
<circle cx="96.3" cy="333.4" r="1.27" fill="#e0e0e0"/>
<circle cx="96.3" cy="341.8" r="1.27" fill="#e0e0e0"/>
<circle cx="96.3" cy="373.5" r="1.27" fill="#e0e0e0"/>
<circle cx="96.3" cy="404.4" r="1.27" fill="#e0e0e0"/>
<circle cx="96.3" cy="412.8" r="1.27" fill="#e0e0e0"/>
<circle cx="214.8" cy="362.5" r="1.27" fill="#e0e0e0"/>
<circle cx="214.8" cy="369.9" r="1.27" fill="#e0e0e0"/>
<circle cx="214.8" cy="397.1" r="1.27" fill="#e0e0e0"/>
<circle cx="214.8" cy="402.1" r="1.27" fill="#e0e0e0"/>
<circle cx="214.8" cy="425.5" r="1.27" fill="#e0e0e0"/>
<circle cx="214.8" cy="432.9" r="1.27" fill="#e0e0e0"/>
<circle cx="103.4" cy="357.7" r="1.13" fill="#e8e8e8"/>
<circle cx="103.4" cy="391.6" r="1.13" fill="#e8e8e8"/>
<circle cx="102.7" cy="436.2" r="1.13" fill="#e8e8e8"/>
<circle cx="211.5" cy="451.0" r="1.13" fill="#e8e8e8"/>
<circle cx="121.5" cy="442.2" r="1.07" fill="#e8e8e8"/>
<circle cx="183.5" cy="450.4" r="1.07" fill="#e8e8e8"/>
<polyline points="158.0,321.2 162.3,326.8" fill="none" stroke="#dedede" stroke-width="0.93" stroke-linecap="round" stroke-linejoin="round"/>
<polyline points="162.3,322.4 158.0,325.7" fill="none" stroke="#dedede" stroke-width="0.93" stroke-linecap="round" stroke-linejoin="round"/>
<polyline points="158.0,447.4 162.3,452.4" fill="none" stroke="#dedede" stroke-width="0.93" stroke-linecap="round" stroke-linejoin="round"/>
<polyline points="162.3,448.0 158.0,451.9" fill="none" stroke="#dedede" stroke-width="0.93" stroke-linecap="round" stroke-linejoin="round"/>
<polyline points="92.3,334.3 97.2,340.2" fill="none" stroke="#dedede" stroke-width="0.93" stroke-linecap="round" stroke-linejoin="round"/>
<polyline points="97.2,335.4 92.3,339.1" fill="none" stroke="#dedede" stroke-width="0.93" stroke-linecap="round" stroke-linejoin="round"/>
<polyline points="92.9,372.3 96.6,376.7" fill="none" stroke="#dedede" stroke-width="0.93" stroke-linecap="round" stroke-linejoin="round"/>
<polyline points="96.6,373.1 92.9,376.0" fill="none" stroke="#dedede" stroke-width="0.93" stroke-linecap="round" stroke-linejoin="round"/>
<polyline points="92.3,405.5 97.2,411.1" fill="none" stroke="#dedede" stroke-width="0.93" stroke-linecap="round" stroke-linejoin="round"/>
<polyline points="97.2,406.3 92.3,410.3" fill="none" stroke="#dedede" stroke-width="0.93" stroke-linecap="round" stroke-linejoin="round"/>
<polyline points="215.5,364.3 219.2,369.4" fill="none" stroke="#dedede" stroke-width="0.93" stroke-linecap="round" stroke-linejoin="round"/>
<polyline points="219.2,365.2 215.5,368.5" fill="none" stroke="#dedede" stroke-width="0.93" stroke-linecap="round" stroke-linejoin="round"/>
<polyline points="215.9,398.2 218.8,402.0" fill="none" stroke="#dedede" stroke-width="0.93" stroke-linecap="round" stroke-linejoin="round"/>
<polyline points="218.8,398.8 215.9,401.4" fill="none" stroke="#dedede" stroke-width="0.93" stroke-linecap="round" stroke-linejoin="round"/>
<polyline points="215.5,427.2 219.2,432.0" fill="none" stroke="#dedede" stroke-width="0.93" stroke-linecap="round" stroke-linejoin="round"/>
<polyline points="219.2,427.9 215.5,431.4" fill="none" stroke="#dedede" stroke-width="0.93" stroke-linecap="round" stroke-linejoin="round"/>
<circle cx="146.2" cy="329.4" r="0.80" fill="#e6f5ec"/>
<circle cx="166.7" cy="335.3" r="0.80" fill="#e6f5ec"/>
<circle cx="146.2" cy="436.5" r="0.80" fill="#e6f5ec"/>
<circle cx="166.7" cy="439.7" r="0.80" fill="#e6f5ec"/>
<polygon points="93.0,444.0 218.7,460.0 218.7,584.3 93.0,584.0" fill="#b9bcbc"/>
<polygon points="94.1,445.1 217.8,460.8 217.8,583.4 94.1,583.0" fill="#0b0d0d"/>
<polygon points="101.8,452.1 212.5,465.5 212.5,578.7 101.8,577.8" fill="#595352"/>
<polygon points="103.1,460.5 120.1,462.5 120.1,494.6 103.1,493.2" fill="#625c5a"/>
<polygon points="103.1,498.0 120.1,499.4 120.1,530.8 103.1,529.9" fill="#625c5a"/>
<polygon points="103.1,536.9 120.1,537.6 120.1,569.0 103.1,568.8" fill="#625c5a"/>
<polygon points="122.4,462.7 143.7,465.2 143.7,494.6 122.4,492.7" fill="#595352"/>
<polygon points="122.4,537.7 143.7,538.7 143.7,569.4 122.4,569.1" fill="#625c5a"/>
<polygon points="168.3,467.9 182.3,469.5 182.3,503.0 168.3,501.9" fill="#78716e"/>
<polygon points="168.3,505.8 182.3,506.9 182.3,536.5 168.3,535.9" fill="#78716e"/>
<polygon points="168.3,541.1 182.3,541.7 182.3,570.0 168.3,569.8" fill="#78716e"/>
<polygon points="184.1,469.7 200.5,471.6 200.5,503.3 184.1,501.9" fill="#78716e"/>
<polygon points="184.1,507.0 200.5,508.3 200.5,537.4 184.1,536.6" fill="#78716e"/>
<polygon points="184.1,541.8 200.5,542.5 200.5,570.3 184.1,570.1" fill="#78716e"/>
<polygon points="103.1,460.5 111.1,461.5 120.1,480.2 120.1,494.6 113.8,494.1" fill="#57504e"/>
<polygon points="103.1,568.8 109.7,550.9 120.1,543.1 120.1,569.0" fill="#5b5452"/>
<polygon points="184.1,501.9 191.2,484.6 200.5,480.5 200.5,503.3" fill="#645c59"/>
<polygon points="168.3,569.8 174.4,553.0 182.3,548.1 182.3,570.0" fill="#6a625f"/>
<polygon points="184.1,570.1 190.0,556.1 200.5,551.3 200.5,570.3" fill="#6a625f"/>
<polygon points="122.4,569.1 127.3,556.9 133.9,569.3" fill="#5b5452"/>
<polyline points="104.2,567.4 117.9,540.3" fill="none" stroke="#4c4644" stroke-width="0.66" stroke-linecap="round" stroke-linejoin="round"/>
<polyline points="123.3,567.7 139.2,543.8" fill="none" stroke="#4c4644" stroke-width="0.66" stroke-linecap="round" stroke-linejoin="round"/>
<polyline points="169.5,534.6 180.5,509.3" fill="none" stroke="#4c4644" stroke-width="0.66" stroke-linecap="round" stroke-linejoin="round"/>
<polyline points="185.2,568.8 198.2,546.2" fill="none" stroke="#4c4644" stroke-width="0.66" stroke-linecap="round" stroke-linejoin="round"/>
<polyline points="185.2,499.4 198.2,475.2" fill="none" stroke="#4c4644" stroke-width="0.66" stroke-linecap="round" stroke-linejoin="round"/>
<polyline points="104.2,491.2 117.9,466.3" fill="none" stroke="#4c4644" stroke-width="0.66" stroke-linecap="round" stroke-linejoin="round"/>
<polygon points="101.8,494.4 212.5,503.6 212.5,505.4 101.8,496.4" fill="#3f3938"/>
<polygon points="101.8,533.7 212.5,539.0 212.5,540.8 101.8,535.7" fill="#3f3938"/>
<polygon points="101.8,515.3 120.6,516.5 120.6,517.8 101.8,516.7" fill="#514a48"/>
<polygon points="168.3,520.2 200.5,522.2 200.5,523.5 168.3,521.5" fill="#5d5553"/>
<polygon points="95.1,449.7 217.0,464.6 217.0,466.1 95.1,451.4" fill="#203234"/>
<polygon points="101.8,452.1 118.3,454.1 115.9,463.1 103.8,461.7" fill="#0b0d0d"/>
<polygon points="121.7,454.5 140.7,456.8 138.6,465.3 124.1,464.0" fill="#0b0d0d"/>
<polygon points="140.7,456.8 144.1,457.2 144.1,461.2 141.5,459.5" fill="#2a2626"/>
<polygon points="167.7,460.0 182.6,461.8 182.6,468.9 170.7,468.9 167.7,465.3" fill="#0b0d0d"/>
<polygon points="183.6,462.0 212.5,465.5 210.8,470.9 188.8,471.6" fill="#0b0d0d"/>
<polygon points="120.5,454.3 121.7,454.5 121.7,577.9 120.5,577.9" fill="#0b0d0d"/>
<polygon points="182.6,461.8 183.6,462.0 183.6,578.4 182.6,578.4" fill="#0b0d0d"/>
<polygon points="94.7,449.8 101.8,450.7 101.8,578.5 94.7,578.4" fill="#0b0d0d"/>
<polygon points="96.0,454.2 98.5,454.5 98.5,492.1 96.0,491.9" fill="#203234"/>
<polygon points="96.0,500.2 98.5,500.4 98.5,531.1 96.0,530.9" fill="#203234"/>
<polygon points="96.0,539.3 98.5,539.4 98.5,575.7 96.0,575.6" fill="#203234"/>
<polygon points="94.7,493.1 101.8,493.7 101.8,499.3 94.7,498.7" fill="#2f3030"/>
<polygon points="94.7,531.6 101.8,531.9 101.8,537.5 94.7,537.2" fill="#3c3a3a"/>
<polygon points="201.2,468.3 211.1,469.4 211.1,484.6 201.2,483.6" fill="#1a1817"/>
<polygon points="201.2,483.6 211.1,484.6 211.1,489.1 201.2,488.1" fill="#2b2423"/>
<polygon points="201.2,493.8 213.7,495.0 213.7,501.2 201.2,500.1" fill="#3b2f2d"/>
<polygon points="201.2,503.3 211.4,504.1 211.4,534.2 201.2,533.7" fill="#201e1e"/>
<polygon points="201.2,534.9 213.9,535.6 213.9,541.2 201.2,540.6" fill="#3b2f2d"/>
<polygon points="201.2,544.4 212.3,544.9 212.3,574.3 201.2,574.1" fill="#2b2929"/>
<polygon points="212.3,465.4 217.5,466.1 217.5,579.3 212.3,579.3" fill="#0d1010"/>
<polygon points="213.7,469.4 215.3,469.5 215.3,576.8 213.7,576.8" fill="#1c2424"/>
<polygon points="94.7,577.4 217.5,578.4 217.5,583.1 94.7,582.6" fill="#0b0d0d"/>
<polygon points="98.1,578.4 102.1,567.8 114.9,566.9 119.3,575.2 125.6,578.1" fill="#0b0d0d"/>
<polygon points="126.2,578.0 128.0,568.6 133.9,567.9 135.6,578.0" fill="#0b0d0d"/>
<polygon points="140.7,578.1 143.4,571.4 166.9,572.4 169.6,578.3" fill="#0b0d0d"/>
<polygon points="171.1,578.3 172.9,568.3 178.9,568.6 181.5,578.4" fill="#0b0d0d"/>
<polygon points="187.4,578.5 190.2,568.4 205.4,568.9 212.5,578.7" fill="#0b0d0d"/>
<polygon points="103.5,570.6 114.1,569.5 116.6,573.1 102.1,574.3" fill="#222a2a"/>
<polygon points="191.2,570.9 204.2,571.3 207.4,574.8 190.0,574.6" fill="#222a2a"/>
<polyline points="94.7,494.1 95.7,494.0 97.1,493.9 98.7,493.8 100.4,493.5 102.2,493.0 103.8,492.2 105.3,491.1 106.9,489.7 108.5,488.1 110.0,486.4 111.5,484.6 113.0,483.0 114.5,481.4 115.8,479.6 117.2,477.9 118.6,476.3 119.9,474.7 121.3,473.4 122.6,472.3 123.9,471.3 125.1,470.4 126.4,469.7 127.9,469.0 129.7,468.3 131.9,467.7 134.6,467.1 137.5,466.6 140.2,466.2 142.5,465.9 144.1,465.6" fill="none" stroke="#0b0d0d" stroke-width="3.06" stroke-linecap="round" stroke-linejoin="round"/>
<polyline points="94.7,497.6 96.0,497.5 97.9,497.4 100.1,497.2 102.4,497.0 104.7,496.5 106.6,495.8 108.2,494.8 109.6,493.5 111.0,492.0 112.3,490.4 113.6,488.8 114.9,487.3 116.2,485.7 117.4,484.1 118.6,482.5 119.8,480.9 121.0,479.4 122.2,478.1 123.5,477.0 124.7,476.0 125.9,475.1 127.1,474.3 128.4,473.6 129.7,473.0 131.1,472.6 132.5,472.2 133.9,471.9 135.4,471.8 136.7,471.6 138.0,471.5 139.2,471.4 140.4,471.4 141.5,471.5 142.6,471.5 143.4,471.6 144.1,471.6" fill="none" stroke="#0b0d0d" stroke-width="3.06" stroke-linecap="round" stroke-linejoin="round"/>
<polyline points="101.4,491.6 102.2,491.4 103.2,491.2 104.5,490.9 105.8,490.4 107.1,489.7 108.4,488.8 109.5,487.4 110.6,485.6 111.7,483.6 112.8,481.6 114.0,479.5 115.2,477.7 116.5,476.0 117.7,474.2 119.0,472.4 120.4,470.8 121.8,469.4 123.3,468.3 125.1,467.5 127.1,466.9 129.1,466.6 131.1,466.4 132.7,466.2 133.9,466.1" fill="none" stroke="#0b0d0d" stroke-width="1.99" stroke-linecap="round" stroke-linejoin="round"/>
<polygon points="144.1,460.7 167.7,463.4 167.7,572.2 144.1,571.8" fill="#2d9c5f"/>
<polygon points="144.1,460.7 167.7,463.4 167.7,478.3 144.1,475.9" fill="#4ba675"/>
<polygon points="144.1,475.9 167.7,478.3 167.7,492.7 144.1,490.6" fill="#47a672"/>
<polygon points="144.1,490.6 167.7,492.7 167.7,503.2 144.1,501.3" fill="#62b48a"/>
<polygon points="144.1,501.3 167.7,503.2 167.7,512.3 144.1,510.6" fill="#6ab990"/>
<polygon points="144.1,510.6 167.7,512.3 167.7,524.1 144.1,522.7" fill="#48a876"/>
<polygon points="144.1,522.7 167.7,524.1 167.7,542.4 144.1,541.4" fill="#2a9c60"/>
<polygon points="144.1,541.4 167.7,542.4 167.7,558.0 144.1,557.4" fill="#239a52"/>
<polygon points="144.1,557.4 167.7,558.0 167.7,572.2 144.1,571.8" fill="#1a964c"/>
<polygon points="147.9,476.7 166.2,478.6 166.2,491.5 147.9,489.9" fill="#0a0a0a"/>
<circle cx="152.0" cy="479.6" r="1.33" fill="#f4f4f4"/>
<circle cx="163.5" cy="480.8" r="1.33" fill="#f4f4f4"/>
<circle cx="152.0" cy="487.7" r="1.33" fill="#f4f4f4"/>
<circle cx="163.5" cy="488.8" r="1.33" fill="#f4f4f4"/>
<polyline points="154.1,480.8 161.4,487.6" fill="none" stroke="#c4c4c4" stroke-width="1.20" stroke-linecap="round" stroke-linejoin="round"/>
<polyline points="161.4,481.5 154.1,486.9" fill="none" stroke="#c4c4c4" stroke-width="1.20" stroke-linecap="round" stroke-linejoin="round"/>
<polyline points="157.8,480.4 157.8,488.1" fill="none" stroke="#b0b0b0" stroke-width="1.06" stroke-linecap="round" stroke-linejoin="round"/>
<polyline points="154.1,483.9 161.4,484.6" fill="none" stroke="#9a9a9a" stroke-width="0.80" stroke-linecap="round" stroke-linejoin="round"/>
<polygon points="150.5,511.1 162.7,512.0 162.7,522.7 150.5,522.0" fill="#0a0a0a"/>
<circle cx="153.8" cy="513.3" r="1.13" fill="#f4f4f4"/>
<circle cx="160.7" cy="513.8" r="1.13" fill="#f4f4f4"/>
<circle cx="153.8" cy="520.2" r="1.13" fill="#f4f4f4"/>
<circle cx="160.7" cy="520.6" r="1.13" fill="#f4f4f4"/>
<polyline points="154.5,514.5 160.0,519.5" fill="none" stroke="#c4c4c4" stroke-width="1.20" stroke-linecap="round" stroke-linejoin="round"/>
<polyline points="160.0,514.8 154.5,519.1" fill="none" stroke="#c4c4c4" stroke-width="1.20" stroke-linecap="round" stroke-linejoin="round"/>
<polyline points="157.3,514.1 157.3,519.9" fill="none" stroke="#b0b0b0" stroke-width="1.06" stroke-linecap="round" stroke-linejoin="round"/>
<polyline points="154.5,516.8 160.0,517.2" fill="none" stroke="#9a9a9a" stroke-width="0.80" stroke-linecap="round" stroke-linejoin="round"/>
<polygon points="147.9,542.3 166.6,543.1 166.6,557.5 147.9,557.0" fill="#0a0a0a"/>
<circle cx="152.0" cy="545.0" r="1.33" fill="#f4f4f4"/>
<circle cx="163.8" cy="545.5" r="1.33" fill="#f4f4f4"/>
<circle cx="152.0" cy="554.6" r="1.33" fill="#f4f4f4"/>
<circle cx="163.8" cy="554.9" r="1.33" fill="#f4f4f4"/>
<polyline points="154.3,546.8 161.6,553.2" fill="none" stroke="#c4c4c4" stroke-width="1.20" stroke-linecap="round" stroke-linejoin="round"/>
<polyline points="161.6,547.1 154.3,552.9" fill="none" stroke="#c4c4c4" stroke-width="1.20" stroke-linecap="round" stroke-linejoin="round"/>
<polyline points="158.0,546.2 158.0,553.8" fill="none" stroke="#b0b0b0" stroke-width="1.06" stroke-linecap="round" stroke-linejoin="round"/>
<polyline points="154.3,549.9 161.6,550.1" fill="none" stroke="#9a9a9a" stroke-width="0.80" stroke-linecap="round" stroke-linejoin="round"/>
<polygon points="145.1,477.1 147.2,477.3 147.2,489.1 145.1,488.9" fill="#174c30"/>
<polygon points="145.1,542.7 147.2,542.8 147.2,556.1 145.1,556.1" fill="#174c30"/>
<polygon points="148.8,477.7 150.1,477.8 150.1,489.1 148.8,489.0" fill="#8a8f8c"/>
<polygon points="148.8,543.3 150.1,543.3 150.1,556.2 148.8,556.2" fill="#8a8f8c"/>
<polygon points="151.4,523.8 162.1,524.4 162.1,527.4 151.4,526.8" fill="#a8dcc0"/>
<circle cx="153.3" cy="525.3" r="0.93" fill="#eef"/>
<circle cx="157.1" cy="525.5" r="0.93" fill="#eef"/>
<circle cx="160.8" cy="525.8" r="0.93" fill="#eef"/>
<polygon points="123.0,491.4 126.0,491.7 126.0,536.5 123.0,536.4" fill="#0d0d0d"/>
<polygon points="125.7,493.4 147.9,495.3 147.9,534.9 125.7,533.8" fill="#e6e6e3"/>
<polygon points="125.7,493.4 147.9,495.3 147.9,502.7 125.7,500.9" fill="#cfcfcc"/>
<polygon points="128.0,496.2 145.6,497.7 145.6,499.0 128.0,497.6" fill="#9a9a98"/>
<polygon points="125.7,526.3 147.9,527.5 147.9,534.9 125.7,533.8" fill="#c2c2c0"/>
<polygon points="125.7,493.4 127.2,493.5 127.2,533.9 125.7,533.8" fill="#a9a9a7"/>
<polygon points="129.4,502.7 131.0,502.9 131.0,505.2 129.4,505.1" fill="#333333"/>
<polygon points="129.4,506.0 131.0,506.1 131.0,508.4 129.4,508.3" fill="#333333"/>
<polygon points="129.4,509.3 131.0,509.4 131.0,511.7 129.4,511.6" fill="#333333"/>
<polygon points="129.4,512.5 131.0,512.6 131.0,514.9 129.4,514.8" fill="#333333"/>
<polygon points="129.4,515.8 131.0,515.9 131.0,518.2 129.4,518.1" fill="#333333"/>
<polygon points="129.4,519.0 131.0,519.1 131.0,521.4 129.4,521.3" fill="#333333"/>
<polygon points="129.4,522.3 131.0,522.3 131.0,524.6 129.4,524.6" fill="#333333"/>
<polygon points="133.3,503.0 134.8,503.2 134.8,505.5 133.3,505.3" fill="#333333"/>
<polygon points="133.3,506.3 134.8,506.4 134.8,508.7 133.3,508.6" fill="#333333"/>
<polygon points="133.3,509.5 134.8,509.6 134.8,511.9 133.3,511.8" fill="#333333"/>
<polygon points="133.3,512.8 134.8,512.9 134.8,515.2 133.3,515.1" fill="#333333"/>
<polygon points="133.3,516.0 134.8,516.1 134.8,518.4 133.3,518.3" fill="#333333"/>
<polygon points="133.3,519.2 134.8,519.3 134.8,521.6 133.3,521.5" fill="#333333"/>
<polygon points="133.3,522.5 134.8,522.6 134.8,524.9 133.3,524.8" fill="#333333"/>
<polygon points="137.1,503.3 138.6,503.5 138.6,505.7 137.1,505.6" fill="#333333"/>
<polygon points="137.1,506.6 138.6,506.7 138.6,509.0 137.1,508.9" fill="#333333"/>
<polygon points="137.1,509.8 138.6,509.9 138.6,512.2 137.1,512.1" fill="#8a8f60"/>
<polygon points="137.1,513.0 138.6,513.1 138.6,515.4 137.1,515.3" fill="#8a8f60"/>
<polygon points="137.1,516.3 138.6,516.4 138.6,518.6 137.1,518.5" fill="#8a8f60"/>
<polygon points="137.1,519.5 138.6,519.6 138.6,521.9 137.1,521.8" fill="#333333"/>
<polygon points="137.1,522.7 138.6,522.8 138.6,525.1 137.1,525.0" fill="#333333"/>
<polygon points="140.8,503.6 142.4,503.8 142.4,506.0 140.8,505.9" fill="#cdb85e"/>
<polygon points="140.8,506.8 142.4,507.0 142.4,509.2 140.8,509.1" fill="#cdb85e"/>
<polygon points="140.8,510.1 142.4,510.2 142.4,512.5 140.8,512.3" fill="#cdb85e"/>
<polygon points="140.8,513.3 142.4,513.4 142.4,515.7 140.8,515.6" fill="#cdb85e"/>
<polygon points="140.8,516.5 142.4,516.6 142.4,518.9 140.8,518.8" fill="#cdb85e"/>
<polygon points="140.8,519.7 142.4,519.8 142.4,522.1 140.8,522.0" fill="#333333"/>
<polygon points="140.8,522.9 142.4,523.0 142.4,525.3 140.8,525.2" fill="#333333"/>
<polygon points="144.6,503.9 146.1,504.0 146.1,506.3 144.6,506.2" fill="#333333"/>
<polygon points="144.6,507.1 146.1,507.2 146.1,509.5 144.6,509.4" fill="#333333"/>
<polygon points="144.6,510.3 146.1,510.4 146.1,512.7 144.6,512.6" fill="#333333"/>
<polygon points="144.6,513.5 146.1,513.6 146.1,515.9 144.6,515.8" fill="#333333"/>
<polygon points="144.6,516.7 146.1,516.8 146.1,519.1 144.6,519.0" fill="#333333"/>
<polygon points="144.6,519.9 146.1,520.0 146.1,522.3 144.6,522.2" fill="#333333"/>
<polygon points="144.6,523.2 146.1,523.2 146.1,525.5 144.6,525.4" fill="#333333"/>
<polygon points="127.6,491.4 140.2,492.5 140.2,495.1 127.6,494.0" fill="#0c0c0c"/>
<polygon points="128.5,488.9 130.1,489.1 130.1,492.3 128.5,492.2" fill="#1b4fb4"/>
<circle cx="129.3" cy="493.2" r="0.46" fill="#cfcfcf"/>
<polygon points="130.9,489.1 132.5,489.3 132.5,492.5 130.9,492.4" fill="#1b4fb4"/>
<circle cx="131.7" cy="493.4" r="0.46" fill="#cfcfcf"/>
<polygon points="133.3,489.3 134.8,489.5 134.8,492.7 133.3,492.6" fill="#1b4fb4"/>
<circle cx="134.1" cy="493.6" r="0.46" fill="#cfcfcf"/>
<polygon points="135.6,489.6 137.2,489.7 137.2,492.9 135.6,492.8" fill="#1b4fb4"/>
<circle cx="136.4" cy="493.8" r="0.46" fill="#cfcfcf"/>
<polygon points="138.0,489.8 139.5,489.9 139.5,493.1 138.0,493.0" fill="#1b4fb4"/>
<circle cx="138.8" cy="494.0" r="0.46" fill="#cfcfcf"/>
<polygon points="128.2,533.6 146.9,534.6 146.9,537.5 128.2,536.6" fill="#0c0c0c"/>
<polygon points="130.0,536.2 131.6,536.2 131.6,540.3 130.0,540.2" fill="#1b4fb4"/>
<circle cx="130.8" cy="535.1" r="0.46" fill="#cfcfcf"/>
<polygon points="132.3,536.3 133.9,536.3 133.9,540.4 132.3,540.3" fill="#1b4fb4"/>
<circle cx="133.1" cy="535.2" r="0.46" fill="#cfcfcf"/>
<polygon points="134.7,536.4 136.3,536.5 136.3,540.5 134.7,540.4" fill="#1b4fb4"/>
<circle cx="135.5" cy="535.3" r="0.46" fill="#cfcfcf"/>
<polygon points="137.1,536.5 138.6,536.6 138.6,540.6 137.1,540.5" fill="#1b4fb4"/>
<circle cx="137.9" cy="535.5" r="0.46" fill="#cfcfcf"/>
<polygon points="139.4,536.6 141.0,536.7 141.0,540.7 139.4,540.6" fill="#1b4fb4"/>
<circle cx="140.2" cy="535.6" r="0.46" fill="#cfcfcf"/>
<polygon points="141.8,536.7 143.3,536.8 143.3,540.8 141.8,540.7" fill="#1b4fb4"/>
<circle cx="142.5" cy="535.7" r="0.46" fill="#cfcfcf"/>
<polygon points="144.1,536.8 145.6,536.9 145.6,540.9 144.1,540.8" fill="#1b4fb4"/>
<circle cx="144.9" cy="535.8" r="0.46" fill="#cfcfcf"/>
<polyline points="130.6,491.4 130.5,490.4 130.2,489.0 130.0,487.3 129.7,485.5 129.5,483.9 129.4,482.5 129.4,481.4 129.5,480.4 129.7,479.5 129.9,478.7 130.0,477.9 130.2,477.2 130.4,476.5 130.7,475.8 130.9,475.2 131.2,474.7 131.4,474.2 131.6,473.9" fill="none" stroke="#dba21c" stroke-width="1.33" stroke-linecap="round" stroke-linejoin="round"/>
<polyline points="134.6,491.8 134.5,490.9 134.4,489.8 134.3,488.4 134.2,487.0 134.2,485.5 134.2,484.3 134.3,483.2 134.4,482.0 134.6,480.8 134.7,479.8 134.9,478.9 135.0,478.3" fill="none" stroke="#2c3f9e" stroke-width="1.20" stroke-linecap="round" stroke-linejoin="round"/>
<polyline points="137.6,492.0 137.6,491.2 137.7,490.0 137.8,488.7 137.8,487.2 137.9,485.9 137.9,484.7 137.8,483.6 137.7,482.5 137.5,481.5 137.4,480.6 137.3,479.8 137.2,479.2" fill="none" stroke="#2c3f9e" stroke-width="1.20" stroke-linecap="round" stroke-linejoin="round"/>
<polyline points="135.2,540.3 134.8,541.9 134.4,543.6 134.3,545.2 134.3,546.9 134.4,548.5 134.7,550.1 135.2,551.7 135.8,553.1 136.5,554.5 137.4,555.7 138.4,556.7 139.6,557.6 140.9,558.2 142.4,558.7" fill="none" stroke="#c81e2b" stroke-width="1.59" stroke-linecap="round" stroke-linejoin="round"/>
<polyline points="138.5,540.5 138.0,541.7 137.7,543.1 137.5,544.4 137.5,545.7 137.6,547.0 137.8,548.2 138.1,549.3 138.5,550.4 139.1,551.3 139.7,552.1 140.4,552.7 141.2,553.1 142.1,553.4 143.0,553.4" fill="none" stroke="#c81e2b" stroke-width="1.59" stroke-linecap="round" stroke-linejoin="round"/>
<polyline points="141.8,540.6 142.1,541.6 142.3,542.6 142.3,543.6 142.3,544.4 142.1,545.3 141.8,546.0 141.4,546.6 141.0,547.1 140.4,547.5 139.9,547.6 139.2,547.7 138.6,547.5 137.9,547.1 137.2,546.5" fill="none" stroke="#c81e2b" stroke-width="1.46" stroke-linecap="round" stroke-linejoin="round"/>
<polyline points="131.3,540.1 130.8,542.3 130.6,544.5 130.6,546.6 130.9,548.7 131.3,550.7 131.9,552.7 132.8,554.5 133.8,556.1 135.0,557.6 136.3,558.9 137.8,559.9 139.4,560.7 141.2,561.2 143.0,561.4" fill="none" stroke="#0b0d0d" stroke-width="1.46" stroke-linecap="round" stroke-linejoin="round"/>
<polyline points="167.4,468.2 168.1,468.4 169.0,468.5 170.0,468.7 171.2,469.0 172.2,469.2 173.2,469.5 174.0,469.9 174.8,470.2 175.5,470.5 176.2,471.0 176.9,471.5 177.6,472.2 178.3,473.2 179.0,474.2 179.7,475.4 180.4,476.7 181.0,478.0 181.5,479.4 181.9,480.8 182.1,482.3 182.3,483.8 182.4,485.4 182.5,486.9 182.7,488.3 183.0,489.5 183.2,490.7 183.5,491.9 183.8,492.9 184.1,494.0 184.5,495.0 185.0,496.0 185.4,496.9 185.9,497.8 186.5,498.6 187.0,499.5 187.6,500.3 188.3,501.0 189.0,501.8 189.7,502.5 190.4,503.2 191.1,503.8 191.6,504.4 192.1,505.0 192.5,505.5 192.8,506.0 193.1,506.5 193.3,506.9 193.5,507.1" fill="none" stroke="#0b0d0d" stroke-width="1.99" stroke-linecap="round" stroke-linejoin="round"/>
<polyline points="167.7,478.2 168.1,478.5 168.7,478.9 169.3,479.4 170.0,480.0 170.7,480.6 171.1,481.3 171.4,482.0 171.6,482.8 171.7,483.6 171.8,484.5 171.8,485.5 171.7,486.6 171.6,487.7 171.4,488.9 171.1,490.2 170.8,491.5 170.5,492.9 170.2,494.2 170.1,495.7 169.9,497.2 169.8,498.8 169.6,500.3 169.5,501.8 169.4,503.3 169.3,504.7 169.1,506.1 169.0,507.5 168.9,508.8 168.8,510.0 168.9,511.1 169.0,512.0 169.2,512.8 169.5,513.6 169.8,514.2 170.2,514.7 170.7,515.1 171.3,515.5 172.0,515.7 172.8,515.8 173.6,515.9 174.6,515.8 175.6,515.7 176.8,515.5 178.2,515.2 179.7,514.8 181.2,514.4 182.7,513.9 184.1,513.5 185.5,513.0 186.9,512.4 188.4,511.8 189.7,511.2 190.8,510.8 191.6,510.4" fill="none" stroke="#0b0d0d" stroke-width="2.26" stroke-linecap="round" stroke-linejoin="round"/>
<polyline points="197.0,508.4 197.8,508.2 198.9,507.8 200.1,507.3 201.5,506.9 202.8,506.4 204.0,506.1 205.0,505.8 205.9,505.5 206.8,505.3 207.8,505.0 208.7,504.8 209.8,504.6 211.1,504.4 212.5,504.2 214.1,504.1 215.5,503.9 216.7,503.8 217.6,503.7" fill="none" stroke="#0b0d0d" stroke-width="2.39" stroke-linecap="round" stroke-linejoin="round"/>
<polygon points="190.6,508.3 196.7,506.5 197.7,510.4 192.1,512.1" fill="#c9994f"/>
<polygon points="181.1,482.3 186.8,482.9 186.8,491.9 181.1,491.3" fill="#0b0d0d"/>
<circle cx="187.9" cy="484.7" r="1.26" fill="#e8e8e8"/>
<circle cx="187.9" cy="490.3" r="1.26" fill="#e8e8e8"/>
<polygon points="182.0,514.0 187.4,514.4 187.4,524.0 182.0,523.6" fill="#0b0d0d"/>
<circle cx="188.5" cy="516.1" r="1.26" fill="#e8e8e8"/>
<circle cx="188.5" cy="522.4" r="1.26" fill="#e8e8e8"/>
<polygon points="182.6,545.8 188.0,546.0 188.0,556.0 182.6,555.9" fill="#0b0d0d"/>
<circle cx="189.0" cy="547.7" r="1.26" fill="#e8e8e8"/>
<circle cx="189.0" cy="554.4" r="1.26" fill="#e8e8e8"/>
<polygon points="120.9,504.9 124.6,505.2 124.6,516.1 120.9,515.8" fill="#0b0d0d"/>
<circle cx="125.8" cy="507.0" r="1.26" fill="#e8e8e8"/>
<circle cx="125.8" cy="514.4" r="1.26" fill="#e8e8e8"/>
<polygon points="121.2,541.1 124.6,541.2 124.6,555.5 121.2,555.4" fill="#0b0d0d"/>
<circle cx="125.8" cy="543.0" r="1.26" fill="#e8e8e8"/>
<circle cx="125.8" cy="553.8" r="1.26" fill="#e8e8e8"/>
<circle cx="125.6" cy="478.5" r="1.39" fill="#e8e8e8"/>
<circle cx="125.6" cy="487.3" r="1.39" fill="#e8e8e8"/>
<circle cx="179.3" cy="530.6" r="1.06" fill="#222"/>
<circle cx="179.3" cy="502.1" r="1.06" fill="#222"/>
<circle cx="97.0" cy="448.0" r="1.26" fill="#e0e0e0"/>
<circle cx="128.0" cy="451.8" r="1.26" fill="#e0e0e0"/>
<circle cx="156.4" cy="455.4" r="1.26" fill="#e0e0e0"/>
<circle cx="162.7" cy="456.2" r="1.26" fill="#e0e0e0"/>
<circle cx="189.4" cy="459.5" r="1.26" fill="#e0e0e0"/>
<circle cx="215.7" cy="462.7" r="1.26" fill="#e0e0e0"/>
<circle cx="97.0" cy="580.7" r="1.26" fill="#e0e0e0"/>
<circle cx="128.0" cy="580.8" r="1.26" fill="#e0e0e0"/>
<circle cx="156.4" cy="581.0" r="1.26" fill="#e0e0e0"/>
<circle cx="162.7" cy="581.0" r="1.26" fill="#e0e0e0"/>
<circle cx="189.4" cy="581.2" r="1.26" fill="#e0e0e0"/>
<circle cx="215.7" cy="581.3" r="1.26" fill="#e0e0e0"/>
<circle cx="96.2" cy="473.7" r="1.26" fill="#e0e0e0"/>
<circle cx="96.2" cy="482.1" r="1.26" fill="#e0e0e0"/>
<circle cx="96.2" cy="513.5" r="1.26" fill="#e0e0e0"/>
<circle cx="96.2" cy="544.2" r="1.26" fill="#e0e0e0"/>
<circle cx="96.2" cy="552.6" r="1.26" fill="#e0e0e0"/>
<circle cx="214.8" cy="486.3" r="1.26" fill="#e0e0e0"/>
<circle cx="214.8" cy="493.8" r="1.26" fill="#e0e0e0"/>
<circle cx="214.8" cy="521.3" r="1.26" fill="#e0e0e0"/>
<circle cx="214.8" cy="526.3" r="1.26" fill="#e0e0e0"/>
<circle cx="214.8" cy="550.0" r="1.26" fill="#e0e0e0"/>
<circle cx="214.8" cy="557.5" r="1.26" fill="#e0e0e0"/>
<circle cx="103.2" cy="496.9" r="1.13" fill="#e8e8e8"/>
<circle cx="103.2" cy="530.6" r="1.13" fill="#e8e8e8"/>
<circle cx="102.5" cy="575.0" r="1.13" fill="#e8e8e8"/>
<circle cx="211.4" cy="576.1" r="1.13" fill="#e8e8e8"/>
<circle cx="121.2" cy="578.6" r="1.06" fill="#e8e8e8"/>
<circle cx="183.1" cy="579.1" r="1.06" fill="#e8e8e8"/>
<polyline points="157.4,452.9 161.7,457.9" fill="none" stroke="#dedede" stroke-width="0.93" stroke-linecap="round" stroke-linejoin="round"/>
<polyline points="161.7,453.4 157.4,457.3" fill="none" stroke="#dedede" stroke-width="0.93" stroke-linecap="round" stroke-linejoin="round"/>
<polyline points="157.4,579.3 161.7,583.8" fill="none" stroke="#dedede" stroke-width="0.93" stroke-linecap="round" stroke-linejoin="round"/>
<polyline points="161.7,579.3 157.4,583.8" fill="none" stroke="#dedede" stroke-width="0.93" stroke-linecap="round" stroke-linejoin="round"/>
<polyline points="92.3,475.1 97.1,480.4" fill="none" stroke="#dedede" stroke-width="0.93" stroke-linecap="round" stroke-linejoin="round"/>
<polyline points="97.1,475.6 92.3,479.9" fill="none" stroke="#dedede" stroke-width="0.93" stroke-linecap="round" stroke-linejoin="round"/>
<polyline points="92.9,512.9 96.5,516.7" fill="none" stroke="#dedede" stroke-width="0.93" stroke-linecap="round" stroke-linejoin="round"/>
<polyline points="96.5,513.1 92.9,516.5" fill="none" stroke="#dedede" stroke-width="0.93" stroke-linecap="round" stroke-linejoin="round"/>
<polyline points="92.3,545.9 97.1,550.8" fill="none" stroke="#dedede" stroke-width="0.93" stroke-linecap="round" stroke-linejoin="round"/>
<polyline points="97.1,546.1 92.3,550.7" fill="none" stroke="#dedede" stroke-width="0.93" stroke-linecap="round" stroke-linejoin="round"/>
<polyline points="215.5,488.0 219.3,492.6" fill="none" stroke="#dedede" stroke-width="0.93" stroke-linecap="round" stroke-linejoin="round"/>
<polyline points="219.3,488.4 215.5,492.3" fill="none" stroke="#dedede" stroke-width="0.93" stroke-linecap="round" stroke-linejoin="round"/>
<polyline points="215.9,522.2 218.8,525.6" fill="none" stroke="#dedede" stroke-width="0.93" stroke-linecap="round" stroke-linejoin="round"/>
<polyline points="218.8,522.4 215.9,525.5" fill="none" stroke="#dedede" stroke-width="0.93" stroke-linecap="round" stroke-linejoin="round"/>
<polyline points="215.5,551.6 219.3,556.0" fill="none" stroke="#dedede" stroke-width="0.93" stroke-linecap="round" stroke-linejoin="round"/>
<polyline points="219.3,551.8 215.5,555.9" fill="none" stroke="#dedede" stroke-width="0.93" stroke-linecap="round" stroke-linejoin="round"/>
<circle cx="145.6" cy="462.7" r="0.80" fill="#e6f5ec"/>
<circle cx="166.2" cy="465.7" r="0.80" fill="#e6f5ec"/>
<circle cx="145.6" cy="569.8" r="0.80" fill="#e6f5ec"/>
<circle cx="166.2" cy="570.4" r="0.80" fill="#e6f5ec"/>
<polygon points="93.0,584.0 218.7,584.3 218.7,708.4 93.0,720.0" fill="#b9bcbc"/>
<polygon points="94.1,585.0 217.8,585.2 217.8,707.6 94.1,718.9" fill="#0b0d0d"/>
<polygon points="101.6,590.8 212.4,590.5 212.4,703.4 101.6,713.1" fill="#595352"/>
<polygon points="102.9,598.9 119.5,598.7 119.5,630.1 102.9,630.6" fill="#625c5a"/>
<polygon points="102.9,635.3 119.5,634.8 119.5,665.5 102.9,666.4" fill="#625c5a"/>
<polygon points="102.9,673.2 119.5,672.2 119.5,702.9 102.9,704.2" fill="#625c5a"/>
<polygon points="121.8,598.7 142.9,598.6 142.9,627.4 121.8,628.1" fill="#595352"/>
<polygon points="121.8,672.0 142.9,670.8 142.9,701.0 121.8,702.7" fill="#625c5a"/>
<polygon points="167.5,598.4 181.5,598.2 181.5,631.4 167.5,631.9" fill="#78716e"/>
<polygon points="167.5,635.8 181.5,635.3 181.5,664.6 167.5,665.4" fill="#78716e"/>
<polygon points="167.5,670.6 181.5,669.7 181.5,697.8 167.5,698.9" fill="#78716e"/>
<polygon points="183.4,598.2 200.1,598.1 200.1,629.6 183.4,630.1" fill="#78716e"/>
<polygon points="183.4,635.2 200.1,634.6 200.1,663.5 183.4,664.5" fill="#78716e"/>
<polygon points="183.4,669.6 200.1,668.6 200.1,696.3 183.4,697.6" fill="#78716e"/>
<polygon points="102.9,598.9 110.7,598.8 119.5,616.1 119.5,630.1 113.4,630.3" fill="#57504e"/>
<polygon points="102.9,704.2 109.3,686.2 119.5,677.5 119.5,702.9" fill="#5b5452"/>
<polygon points="183.4,630.1 190.6,612.1 200.1,606.9 200.1,629.6" fill="#645c59"/>
<polygon points="167.5,698.9 173.6,681.8 181.5,676.1 181.5,697.8" fill="#6a625f"/>
<polygon points="183.4,697.6 189.4,683.2 200.1,677.4 200.1,696.3" fill="#6a625f"/>
<polygon points="121.8,702.7 126.6,690.3 133.2,701.8" fill="#5b5452"/>
<polyline points="103.9,702.8 117.4,675.0" fill="none" stroke="#4c4644" stroke-width="0.65" stroke-linecap="round" stroke-linejoin="round"/>
<polyline points="122.7,701.3 138.4,676.3" fill="none" stroke="#4c4644" stroke-width="0.65" stroke-linecap="round" stroke-linejoin="round"/>
<polyline points="168.7,664.1 179.7,637.9" fill="none" stroke="#4c4644" stroke-width="0.65" stroke-linecap="round" stroke-linejoin="round"/>
<polyline points="184.6,696.3 197.7,672.5" fill="none" stroke="#4c4644" stroke-width="0.65" stroke-linecap="round" stroke-linejoin="round"/>
<polyline points="184.6,627.5 197.7,601.9" fill="none" stroke="#4c4644" stroke-width="0.65" stroke-linecap="round" stroke-linejoin="round"/>
<polyline points="103.9,628.6 117.4,602.8" fill="none" stroke="#4c4644" stroke-width="0.65" stroke-linecap="round" stroke-linejoin="round"/>
<polygon points="101.6,632.0 212.4,628.6 212.4,630.3 101.6,633.9" fill="#3f3938"/>
<polygon points="101.6,670.3 212.4,663.8 212.4,665.6 101.6,672.2" fill="#3f3938"/>
<polygon points="101.6,652.3 120.0,651.5 120.0,652.8 101.6,653.6" fill="#514a48"/>
<polygon points="167.5,649.9 200.1,648.4 200.1,649.7 167.5,651.2" fill="#5d5553"/>
<polygon points="95.1,589.3 217.0,589.1 217.0,590.6 95.1,590.9" fill="#203234"/>
<polygon points="101.6,590.8 117.8,590.7 115.4,599.9 103.5,600.0" fill="#0b0d0d"/>
<polygon points="121.1,590.7 139.9,590.7 137.8,599.3 123.5,599.8" fill="#0b0d0d"/>
<polygon points="139.9,590.7 143.2,590.7 143.2,594.6 140.7,593.3" fill="#2a2626"/>
<polygon points="166.8,590.6 181.9,590.6 181.9,597.6 169.9,599.0 166.8,595.8" fill="#0b0d0d"/>
<polygon points="182.9,590.6 212.4,590.5 210.6,596.1 188.2,599.5" fill="#0b0d0d"/>
<polygon points="119.9,590.7 121.1,590.7 121.1,711.4 119.9,711.5" fill="#0b0d0d"/>
<polygon points="181.9,590.6 182.9,590.6 182.9,706.0 181.9,706.1" fill="#0b0d0d"/>
<polygon points="94.7,589.4 101.6,589.4 101.6,713.8 94.7,714.4" fill="#0b0d0d"/>
<polygon points="95.9,593.5 98.4,593.5 98.4,630.1 95.9,630.2" fill="#203234"/>
<polygon points="95.9,638.3 98.4,638.2 98.4,668.0 95.9,668.2" fill="#203234"/>
<polygon points="95.9,676.3 98.4,676.1 98.4,711.4 95.9,711.6" fill="#203234"/>
<polygon points="94.7,631.5 101.6,631.3 101.6,636.7 94.7,637.0" fill="#2f3030"/>
<polygon points="94.7,668.9 101.6,668.5 101.6,673.9 94.7,674.3" fill="#3c3a3a"/>
<polygon points="200.8,594.7 210.9,594.6 210.9,609.7 200.8,609.9" fill="#1a1817"/>
<polygon points="200.8,609.9 210.9,609.7 210.9,614.2 200.8,614.4" fill="#2b2423"/>
<polygon points="200.8,620.1 213.5,619.8 213.5,626.0 200.8,626.4" fill="#3b2f2d"/>
<polygon points="200.8,629.5 211.2,629.2 211.2,659.2 200.8,659.7" fill="#201e1e"/>
<polygon points="200.8,661.0 213.7,660.3 213.7,665.9 200.8,666.7" fill="#3b2f2d"/>
<polygon points="200.8,670.4 212.1,669.7 212.1,699.0 200.8,700.0" fill="#2b2929"/>
<polygon points="212.1,590.5 217.4,590.5 217.4,703.5 212.1,704.0" fill="#0d1010"/>
<polygon points="213.5,594.3 215.2,594.2 215.2,701.3 213.5,701.4" fill="#1c2424"/>
<polygon points="94.7,713.5 217.4,702.7 217.4,707.3 94.7,718.5" fill="#0b0d0d"/>
<polygon points="97.9,714.1 101.9,703.4 114.4,701.3 118.7,708.9 124.9,711.2" fill="#0b0d0d"/>
<polygon points="125.6,711.0 127.3,701.7 133.2,700.4 134.9,710.2" fill="#0b0d0d"/>
<polygon points="139.9,709.8 142.6,702.9 166.1,701.6 168.8,707.2" fill="#0b0d0d"/>
<polygon points="170.3,707.1 172.1,697.0 178.1,696.7 180.8,706.2" fill="#0b0d0d"/>
<polygon points="186.7,705.6 189.6,695.4 205.0,694.4 212.4,703.4" fill="#0b0d0d"/>
<polygon points="103.3,706.0 113.6,703.9 116.0,707.2 101.9,709.7" fill="#222a2a"/>
<polygon points="190.6,697.8 203.9,696.8 207.1,700.1 189.4,701.6" fill="#222a2a"/>
<polyline points="94.7,632.5 95.6,632.3 97.0,632.0 98.5,631.7 100.2,631.2 101.9,630.6 103.5,629.7 105.0,628.4 106.6,626.8 108.1,625.1 109.6,623.2 111.1,621.4 112.6,619.6 114.0,617.8 115.3,616.0 116.7,614.2 118.0,612.4 119.3,610.7 120.7,609.3 122.0,608.0 123.2,606.9 124.5,605.9 125.8,605.0 127.3,604.2 129.0,603.3 131.2,602.4 133.9,601.6 136.7,600.8 139.4,600.0 141.6,599.4 143.2,599.0" fill="none" stroke="#0b0d0d" stroke-width="3.01" stroke-linecap="round" stroke-linejoin="round"/>
<polyline points="94.7,635.9 96.0,635.6 97.8,635.3 99.9,634.9 102.2,634.4 104.4,633.7 106.2,632.8 107.8,631.6 109.3,630.2 110.6,628.6 111.9,626.9 113.2,625.2 114.4,623.6 115.7,621.9 116.9,620.2 118.1,618.5 119.3,616.8 120.4,615.2 121.6,613.8 122.8,612.6 124.0,611.4 125.2,610.4 126.5,609.5 127.7,608.7 129.0,608.0 130.3,607.3 131.7,606.8 133.2,606.4 134.6,606.0 135.9,605.7 137.2,605.5 138.4,605.2 139.6,605.1 140.7,605.0 141.8,604.9 142.6,604.9 143.2,604.9" fill="none" stroke="#0b0d0d" stroke-width="3.01" stroke-linecap="round" stroke-linejoin="round"/>
<polyline points="101.2,629.3 102.0,629.0 103.0,628.7 104.2,628.3 105.5,627.7 106.8,626.9 108.0,625.8 109.1,624.3 110.2,622.4 111.3,620.4 112.4,618.2 113.5,616.1 114.7,614.2 115.9,612.3 117.2,610.5 118.5,608.6 119.8,606.9 121.2,605.3 122.7,604.0 124.4,603.1 126.4,602.3 128.4,601.7 130.4,601.3 132.0,600.9 133.2,600.6" fill="none" stroke="#0b0d0d" stroke-width="1.96" stroke-linecap="round" stroke-linejoin="round"/>
<polygon points="143.2,594.1 166.8,594.0 166.8,701.3 143.2,703.3" fill="#2d9c5f"/>
<polygon points="143.2,594.1 166.8,594.0 166.8,608.7 143.2,609.1" fill="#4ba675"/>
<polygon points="143.2,609.1 166.8,608.7 166.8,622.9 143.2,623.5" fill="#47a672"/>
<polygon points="143.2,623.5 166.8,622.9 166.8,633.2 143.2,634.0" fill="#62b48a"/>
<polygon points="143.2,634.0 166.8,633.2 166.8,642.2 143.2,643.2" fill="#6ab990"/>
<polygon points="143.2,643.2 166.8,642.2 166.8,653.8 143.2,655.0" fill="#48a876"/>
<polygon points="143.2,655.0 166.8,653.8 166.8,671.9 143.2,673.4" fill="#2a9c60"/>
<polygon points="143.2,673.4 166.8,671.9 166.8,687.4 143.2,689.1" fill="#239a52"/>
<polygon points="143.2,689.1 166.8,687.4 166.8,701.3 143.2,703.3" fill="#1a964c"/>
<polygon points="147.1,609.4 165.3,609.1 165.3,621.9 147.1,622.3" fill="#0a0a0a"/>
<circle cx="151.2" cy="611.8" r="1.31" fill="#f4f4f4"/>
<circle cx="162.6" cy="611.6" r="1.31" fill="#f4f4f4"/>
<circle cx="151.2" cy="619.8" r="1.31" fill="#f4f4f4"/>
<circle cx="162.6" cy="619.5" r="1.31" fill="#f4f4f4"/>
<polyline points="153.2,612.7 160.5,618.6" fill="none" stroke="#c4c4c4" stroke-width="1.18" stroke-linecap="round" stroke-linejoin="round"/>
<polyline points="160.5,612.6 153.2,618.8" fill="none" stroke="#c4c4c4" stroke-width="1.18" stroke-linecap="round" stroke-linejoin="round"/>
<polyline points="156.9,611.9 156.9,619.4" fill="none" stroke="#b0b0b0" stroke-width="1.05" stroke-linecap="round" stroke-linejoin="round"/>
<polyline points="153.2,615.7 160.5,615.6" fill="none" stroke="#9a9a9a" stroke-width="0.79" stroke-linecap="round" stroke-linejoin="round"/>
<polygon points="149.6,642.9 161.9,642.4 161.9,653.0 149.6,653.6" fill="#0a0a0a"/>
<circle cx="152.9" cy="644.7" r="1.11" fill="#f4f4f4"/>
<circle cx="159.9" cy="644.5" r="1.11" fill="#f4f4f4"/>
<circle cx="152.9" cy="651.5" r="1.11" fill="#f4f4f4"/>
<circle cx="159.9" cy="651.2" r="1.11" fill="#f4f4f4"/>
<polyline points="153.6,645.8 159.2,650.1" fill="none" stroke="#c4c4c4" stroke-width="1.18" stroke-linecap="round" stroke-linejoin="round"/>
<polyline points="159.2,645.6 153.6,650.4" fill="none" stroke="#c4c4c4" stroke-width="1.18" stroke-linecap="round" stroke-linejoin="round"/>
<polyline points="156.4,645.1 156.4,650.8" fill="none" stroke="#b0b0b0" stroke-width="1.05" stroke-linecap="round" stroke-linejoin="round"/>
<polyline points="153.6,648.1 159.2,647.9" fill="none" stroke="#9a9a9a" stroke-width="0.79" stroke-linecap="round" stroke-linejoin="round"/>
<polygon points="147.1,673.9 165.7,672.7 165.7,687.0 147.1,688.3" fill="#0a0a0a"/>
<circle cx="151.2" cy="676.1" r="1.31" fill="#f4f4f4"/>
<circle cx="163.0" cy="675.4" r="1.31" fill="#f4f4f4"/>
<circle cx="151.2" cy="685.5" r="1.31" fill="#f4f4f4"/>
<circle cx="163.0" cy="684.7" r="1.31" fill="#f4f4f4"/>
<polyline points="153.4,677.7 160.7,683.2" fill="none" stroke="#c4c4c4" stroke-width="1.18" stroke-linecap="round" stroke-linejoin="round"/>
<polyline points="160.7,677.2 153.4,683.7" fill="none" stroke="#c4c4c4" stroke-width="1.18" stroke-linecap="round" stroke-linejoin="round"/>
<polyline points="157.1,676.7 157.1,684.2" fill="none" stroke="#b0b0b0" stroke-width="1.05" stroke-linecap="round" stroke-linejoin="round"/>
<polyline points="153.4,680.7 160.7,680.2" fill="none" stroke="#9a9a9a" stroke-width="0.79" stroke-linecap="round" stroke-linejoin="round"/>
<polygon points="144.3,610.1 146.3,610.1 146.3,621.7 144.3,621.8" fill="#174c30"/>
<polygon points="144.3,674.6 146.3,674.5 146.3,687.6 144.3,687.7" fill="#174c30"/>
<polygon points="148.0,610.3 149.3,610.3 149.3,621.4 148.0,621.4" fill="#8a8f8c"/>
<polygon points="148.0,674.8 149.3,674.7 149.3,687.4 148.0,687.5" fill="#8a8f8c"/>
<polygon points="150.5,655.3 161.2,654.8 161.2,657.7 150.5,658.3" fill="#a8dcc0"/>
<circle cx="152.4" cy="656.6" r="0.92" fill="#eef"/>
<circle cx="156.2" cy="656.4" r="0.92" fill="#eef"/>
<circle cx="160.0" cy="656.3" r="0.92" fill="#eef"/>
<polygon points="122.4,626.7 125.3,626.6 125.3,670.5 122.4,670.7" fill="#0d0d0d"/>
<polygon points="125.1,628.4 147.1,627.7 147.1,666.6 125.1,667.8" fill="#e6e6e3"/>
<polygon points="125.1,628.4 147.1,627.7 147.1,634.9 125.1,635.7" fill="#cfcfcc"/>
<polygon points="127.3,630.8 144.8,630.3 144.8,631.6 127.3,632.1" fill="#9a9a98"/>
<polygon points="125.1,660.5 147.1,659.4 147.1,666.6 125.1,667.8" fill="#c2c2c0"/>
<polygon points="125.1,628.4 126.5,628.3 126.5,667.8 125.1,667.8" fill="#a9a9a7"/>
<polygon points="128.7,637.1 130.3,637.0 130.3,639.3 128.7,639.3" fill="#333333"/>
<polygon points="128.7,640.2 130.3,640.2 130.3,642.4 128.7,642.5" fill="#333333"/>
<polygon points="128.7,643.4 130.3,643.4 130.3,645.6 128.7,645.7" fill="#333333"/>
<polygon points="128.7,646.6 130.3,646.5 130.3,648.8 128.7,648.9" fill="#333333"/>
<polygon points="128.7,649.8 130.3,649.7 130.3,652.0 128.7,652.1" fill="#333333"/>
<polygon points="128.7,653.0 130.3,652.9 130.3,655.2 128.7,655.2" fill="#333333"/>
<polygon points="128.7,656.2 130.3,656.1 130.3,658.3 128.7,658.4" fill="#333333"/>
<polygon points="132.5,636.9 134.1,636.9 134.1,639.1 132.5,639.2" fill="#333333"/>
<polygon points="132.5,640.1 134.1,640.0 134.1,642.3 132.5,642.4" fill="#333333"/>
<polygon points="132.5,643.3 134.1,643.2 134.1,645.5 132.5,645.5" fill="#333333"/>
<polygon points="132.5,646.5 134.1,646.4 134.1,648.6 132.5,648.7" fill="#333333"/>
<polygon points="132.5,649.6 134.1,649.6 134.1,651.8 132.5,651.9" fill="#333333"/>
<polygon points="132.5,652.8 134.1,652.7 134.1,655.0 132.5,655.1" fill="#333333"/>
<polygon points="132.5,656.0 134.1,655.9 134.1,658.1 132.5,658.2" fill="#333333"/>
<polygon points="136.3,636.8 137.8,636.7 137.8,639.0 136.3,639.0" fill="#333333"/>
<polygon points="136.3,640.0 137.8,639.9 137.8,642.1 136.3,642.2" fill="#333333"/>
<polygon points="136.3,643.1 137.8,643.1 137.8,645.3 136.3,645.4" fill="#8a8f60"/>
<polygon points="136.3,646.3 137.8,646.2 137.8,648.5 136.3,648.5" fill="#8a8f60"/>
<polygon points="136.3,649.5 137.8,649.4 137.8,651.6 136.3,651.7" fill="#8a8f60"/>
<polygon points="136.3,652.6 137.8,652.6 137.8,654.8 136.3,654.9" fill="#333333"/>
<polygon points="136.3,655.8 137.8,655.7 137.8,658.0 136.3,658.0" fill="#333333"/>
<polygon points="140.0,636.7 141.6,636.6 141.6,638.8 140.0,638.9" fill="#cdb85e"/>
<polygon points="140.0,639.8 141.6,639.8 141.6,642.0 140.0,642.1" fill="#cdb85e"/>
<polygon points="140.0,643.0 141.6,642.9 141.6,645.2 140.0,645.2" fill="#cdb85e"/>
<polygon points="140.0,646.1 141.6,646.1 141.6,648.3 140.0,648.4" fill="#cdb85e"/>
<polygon points="140.0,649.3 141.6,649.2 141.6,651.5 140.0,651.5" fill="#cdb85e"/>
<polygon points="140.0,652.5 141.6,652.4 141.6,654.6 140.0,654.7" fill="#333333"/>
<polygon points="140.0,655.6 141.6,655.5 141.6,657.8 140.0,657.8" fill="#333333"/>
<polygon points="143.8,636.5 145.3,636.5 145.3,638.7 143.8,638.8" fill="#333333"/>
<polygon points="143.8,639.7 145.3,639.6 145.3,641.9 143.8,641.9" fill="#333333"/>
<polygon points="143.8,642.8 145.3,642.8 145.3,645.0 143.8,645.1" fill="#333333"/>
<polygon points="143.8,646.0 145.3,645.9 145.3,648.1 143.8,648.2" fill="#333333"/>
<polygon points="143.8,649.1 145.3,649.1 145.3,651.3 143.8,651.4" fill="#333333"/>
<polygon points="143.8,652.3 145.3,652.2 145.3,654.4 143.8,654.5" fill="#333333"/>
<polygon points="143.8,655.4 145.3,655.3 145.3,657.6 143.8,657.7" fill="#333333"/>
<polygon points="126.9,626.2 139.4,625.8 139.4,628.3 126.9,628.7" fill="#0c0c0c"/>
<polygon points="127.8,623.6 129.4,623.6 129.4,626.8 127.8,626.8" fill="#1b4fb4"/>
<circle cx="128.6" cy="627.7" r="0.46" fill="#cfcfcf"/>
<polygon points="130.2,623.6 131.7,623.5 131.7,626.7 130.2,626.7" fill="#1b4fb4"/>
<circle cx="131.0" cy="627.7" r="0.46" fill="#cfcfcf"/>
<polygon points="132.5,623.5 134.1,623.5 134.1,626.6 132.5,626.7" fill="#1b4fb4"/>
<circle cx="133.3" cy="627.6" r="0.46" fill="#cfcfcf"/>
<polygon points="134.9,623.4 136.4,623.4 136.4,626.6 134.9,626.6" fill="#1b4fb4"/>
<circle cx="135.6" cy="627.5" r="0.46" fill="#cfcfcf"/>
<polygon points="137.2,623.4 138.7,623.3 138.7,626.5 137.2,626.6" fill="#1b4fb4"/>
<circle cx="138.0" cy="627.5" r="0.46" fill="#cfcfcf"/>
<polygon points="127.6,667.4 146.1,666.4 146.1,669.3 127.6,670.4" fill="#0c0c0c"/>
<polygon points="129.3,669.7 130.8,669.6 130.8,673.6 129.3,673.7" fill="#1b4fb4"/>
<circle cx="130.0" cy="668.6" r="0.46" fill="#cfcfcf"/>
<polygon points="131.6,669.6 133.2,669.5 133.2,673.5 131.6,673.6" fill="#1b4fb4"/>
<circle cx="132.4" cy="668.5" r="0.46" fill="#cfcfcf"/>
<polygon points="134.0,669.4 135.5,669.4 135.5,673.3 134.0,673.4" fill="#1b4fb4"/>
<circle cx="134.7" cy="668.3" r="0.46" fill="#cfcfcf"/>
<polygon points="136.3,669.3 137.8,669.2 137.8,673.2 136.3,673.3" fill="#1b4fb4"/>
<circle cx="137.1" cy="668.2" r="0.46" fill="#cfcfcf"/>
<polygon points="138.6,669.2 140.2,669.1 140.2,673.0 138.6,673.1" fill="#1b4fb4"/>
<circle cx="139.4" cy="668.1" r="0.46" fill="#cfcfcf"/>
<polygon points="140.9,669.0 142.5,668.9 142.5,672.9 140.9,673.0" fill="#1b4fb4"/>
<circle cx="141.7" cy="667.9" r="0.46" fill="#cfcfcf"/>
<polygon points="143.2,668.9 144.8,668.8 144.8,672.7 143.2,672.8" fill="#1b4fb4"/>
<circle cx="144.0" cy="667.8" r="0.46" fill="#cfcfcf"/>
<polyline points="129.9,625.8 129.8,624.9 129.5,623.5 129.3,621.9 129.0,620.2 128.8,618.6 128.7,617.2 128.7,616.1 128.8,615.2 129.0,614.3 129.1,613.4 129.3,612.7 129.5,611.9 129.7,611.2 130.0,610.5 130.2,609.9 130.5,609.4 130.7,608.9 130.8,608.6" fill="none" stroke="#dba21c" stroke-width="1.31" stroke-linecap="round" stroke-linejoin="round"/>
<polyline points="133.8,625.7 133.8,624.9 133.7,623.8 133.6,622.5 133.5,621.1 133.4,619.7 133.4,618.5 133.5,617.3 133.6,616.2 133.8,615.0 134.0,614.0 134.1,613.1 134.2,612.5" fill="none" stroke="#2c3f9e" stroke-width="1.18" stroke-linecap="round" stroke-linejoin="round"/>
<polyline points="136.8,625.6 136.8,624.8 136.9,623.7 137.0,622.3 137.0,620.9 137.1,619.6 137.1,618.4 137.0,617.3 136.9,616.3 136.8,615.3 136.6,614.4 136.5,613.7 136.4,613.1" fill="none" stroke="#2c3f9e" stroke-width="1.18" stroke-linecap="round" stroke-linejoin="round"/>
<polyline points="134.5,673.2 134.0,674.9 133.7,676.5 133.5,678.2 133.5,679.8 133.6,681.4 133.9,682.9 134.4,684.4 135.0,685.8 135.7,687.0 136.6,688.1 137.6,689.0 138.8,689.7 140.1,690.3 141.6,690.6" fill="none" stroke="#c81e2b" stroke-width="1.57" stroke-linecap="round" stroke-linejoin="round"/>
<polyline points="137.7,673.0 137.2,674.4 136.9,675.7 136.7,677.0 136.7,678.3 136.8,679.5 137.0,680.7 137.3,681.8 137.7,682.8 138.3,683.6 138.9,684.3 139.6,684.9 140.4,685.2 141.3,685.3 142.2,685.2" fill="none" stroke="#c81e2b" stroke-width="1.57" stroke-linecap="round" stroke-linejoin="round"/>
<polyline points="140.9,672.9 141.3,673.8 141.5,674.8 141.5,675.7 141.5,676.6 141.3,677.4 141.0,678.1 140.6,678.8 140.2,679.3 139.6,679.7 139.1,680.0 138.4,680.0 137.8,679.9 137.1,679.6 136.4,679.1" fill="none" stroke="#c81e2b" stroke-width="1.44" stroke-linecap="round" stroke-linejoin="round"/>
<polyline points="130.6,673.5 130.1,675.7 129.9,677.8 129.9,679.9 130.2,681.9 130.6,683.9 131.2,685.7 132.0,687.4 133.0,688.9 134.2,690.2 135.5,691.3 137.0,692.2 138.6,692.8 140.4,693.1 142.2,693.1" fill="none" stroke="#0b0d0d" stroke-width="1.44" stroke-linecap="round" stroke-linejoin="round"/>
<polyline points="166.6,598.8 167.2,598.8 168.1,598.9 169.2,598.9 170.3,599.0 171.4,599.2 172.4,599.4 173.2,599.6 174.0,599.8 174.7,600.0 175.4,600.4 176.1,600.9 176.8,601.5 177.5,602.3 178.3,603.3 179.0,604.4 179.7,605.6 180.3,606.8 180.8,608.1 181.2,609.4 181.4,610.9 181.6,612.4 181.7,613.9 181.8,615.4 182.0,616.7 182.3,618.0 182.5,619.1 182.8,620.2 183.1,621.2 183.5,622.2 183.8,623.2 184.3,624.1 184.8,625.0 185.3,625.8 185.8,626.6 186.4,627.4 187.0,628.1 187.6,628.8 188.4,629.4 189.1,630.1 189.8,630.7 190.5,631.2 191.1,631.8 191.5,632.3 191.9,632.8 192.3,633.2 192.6,633.6 192.8,634.0 193.0,634.2" fill="none" stroke="#0b0d0d" stroke-width="1.96" stroke-linecap="round" stroke-linejoin="round"/>
<polyline points="166.8,608.6 167.2,608.8 167.8,609.2 168.5,609.6 169.2,610.0 169.8,610.6 170.3,611.2 170.6,611.9 170.8,612.6 170.9,613.5 171.0,614.3 171.0,615.3 170.9,616.3 170.8,617.5 170.5,618.7 170.3,620.0 170.0,621.3 169.7,622.7 169.4,624.1 169.2,625.5 169.1,627.1 168.9,628.6 168.8,630.2 168.7,631.7 168.6,633.1 168.4,634.6 168.3,636.0 168.1,637.3 168.0,638.6 168.0,639.8 168.1,640.9 168.2,641.8 168.4,642.6 168.7,643.3 169.0,643.8 169.4,644.3 169.9,644.7 170.5,644.9 171.2,645.1 172.0,645.1 172.8,645.1 173.8,645.0 174.8,644.7 176.1,644.4 177.4,643.9 178.9,643.4 180.5,642.8 181.9,642.2 183.4,641.6 184.8,640.9 186.3,640.2 187.7,639.4 189.1,638.7 190.2,638.1 191.1,637.7" fill="none" stroke="#0b0d0d" stroke-width="2.22" stroke-linecap="round" stroke-linejoin="round"/>
<polyline points="196.5,635.1 197.3,634.7 198.4,634.2 199.7,633.7 201.1,633.0 202.4,632.5 203.6,632.0 204.7,631.6 205.6,631.2 206.5,630.8 207.5,630.5 208.5,630.2 209.6,629.9 210.9,629.5 212.4,629.2 213.9,628.8 215.4,628.5 216.7,628.2 217.6,628.0" fill="none" stroke="#0b0d0d" stroke-width="2.36" stroke-linecap="round" stroke-linejoin="round"/>
<polygon points="190.0,635.7 196.2,633.2 197.2,637.0 191.5,639.3" fill="#c9994f"/>
<polygon points="180.3,611.0 186.1,610.9 186.1,619.8 180.3,620.0" fill="#0b0d0d"/>
<circle cx="187.2" cy="612.6" r="1.24" fill="#e8e8e8"/>
<circle cx="187.2" cy="618.2" r="1.24" fill="#e8e8e8"/>
<polygon points="181.3,642.3 186.7,642.1 186.7,651.6 181.3,651.9" fill="#0b0d0d"/>
<circle cx="187.8" cy="643.7" r="1.24" fill="#e8e8e8"/>
<circle cx="187.8" cy="649.9" r="1.24" fill="#e8e8e8"/>
<polygon points="181.9,673.8 187.3,673.4 187.3,683.3 181.9,683.7" fill="#0b0d0d"/>
<circle cx="188.4" cy="675.0" r="1.24" fill="#e8e8e8"/>
<circle cx="188.4" cy="681.6" r="1.24" fill="#e8e8e8"/>
<polygon points="120.3,640.1 124.0,640.0 124.0,650.6 120.3,650.8" fill="#0b0d0d"/>
<circle cx="125.2" cy="641.6" r="1.24" fill="#e8e8e8"/>
<circle cx="125.2" cy="648.8" r="1.24" fill="#e8e8e8"/>
<polygon points="120.6,675.4 124.0,675.2 124.0,689.2 120.6,689.4" fill="#0b0d0d"/>
<circle cx="125.2" cy="676.9" r="1.24" fill="#e8e8e8"/>
<circle cx="125.2" cy="687.4" r="1.24" fill="#e8e8e8"/>
<circle cx="124.9" cy="613.7" r="1.37" fill="#e8e8e8"/>
<circle cx="124.9" cy="622.4" r="1.37" fill="#e8e8e8"/>
<circle cx="178.5" cy="659.0" r="1.05" fill="#222"/>
<circle cx="178.5" cy="630.9" r="1.05" fill="#222"/>
<circle cx="96.8" cy="587.4" r="1.24" fill="#e0e0e0"/>
<circle cx="127.3" cy="587.4" r="1.24" fill="#e0e0e0"/>
<circle cx="155.6" cy="587.4" r="1.24" fill="#e0e0e0"/>
<circle cx="161.9" cy="587.4" r="1.24" fill="#e0e0e0"/>
<circle cx="188.8" cy="587.4" r="1.24" fill="#e0e0e0"/>
<circle cx="215.6" cy="587.4" r="1.24" fill="#e0e0e0"/>
<circle cx="96.8" cy="716.4" r="1.24" fill="#e0e0e0"/>
<circle cx="127.3" cy="713.6" r="1.24" fill="#e0e0e0"/>
<circle cx="155.6" cy="711.1" r="1.24" fill="#e0e0e0"/>
<circle cx="161.9" cy="710.5" r="1.24" fill="#e0e0e0"/>
<circle cx="188.8" cy="708.1" r="1.24" fill="#e0e0e0"/>
<circle cx="215.6" cy="705.7" r="1.24" fill="#e0e0e0"/>
<circle cx="96.2" cy="612.5" r="1.24" fill="#e0e0e0"/>
<circle cx="96.2" cy="620.6" r="1.24" fill="#e0e0e0"/>
<circle cx="96.2" cy="651.2" r="1.24" fill="#e0e0e0"/>
<circle cx="96.2" cy="681.0" r="1.24" fill="#e0e0e0"/>
<circle cx="96.2" cy="689.2" r="1.24" fill="#e0e0e0"/>
<circle cx="214.7" cy="611.1" r="1.24" fill="#e0e0e0"/>
<circle cx="214.7" cy="618.5" r="1.24" fill="#e0e0e0"/>
<circle cx="214.7" cy="645.9" r="1.24" fill="#e0e0e0"/>
<circle cx="214.7" cy="650.9" r="1.24" fill="#e0e0e0"/>
<circle cx="214.7" cy="674.5" r="1.24" fill="#e0e0e0"/>
<circle cx="214.7" cy="682.0" r="1.24" fill="#e0e0e0"/>
<circle cx="103.0" cy="634.3" r="1.11" fill="#e8e8e8"/>
<circle cx="103.0" cy="667.1" r="1.11" fill="#e8e8e8"/>
<circle cx="102.3" cy="710.4" r="1.11" fill="#e8e8e8"/>
<circle cx="211.2" cy="701.0" r="1.11" fill="#e8e8e8"/>
<circle cx="120.6" cy="712.1" r="1.05" fill="#e8e8e8"/>
<circle cx="182.4" cy="706.6" r="1.05" fill="#e8e8e8"/>
<polyline points="156.6,584.8 160.9,589.2" fill="none" stroke="#dedede" stroke-width="0.92" stroke-linecap="round" stroke-linejoin="round"/>
<polyline points="160.9,584.8 156.6,589.2" fill="none" stroke="#dedede" stroke-width="0.92" stroke-linecap="round" stroke-linejoin="round"/>
<polyline points="156.6,709.3 160.9,713.3" fill="none" stroke="#dedede" stroke-width="0.92" stroke-linecap="round" stroke-linejoin="round"/>
<polyline points="160.9,708.9 156.6,713.7" fill="none" stroke="#dedede" stroke-width="0.92" stroke-linecap="round" stroke-linejoin="round"/>
<polyline points="92.3,614.3 97.0,618.9" fill="none" stroke="#dedede" stroke-width="0.92" stroke-linecap="round" stroke-linejoin="round"/>
<polyline points="97.0,614.3 92.3,619.0" fill="none" stroke="#dedede" stroke-width="0.92" stroke-linecap="round" stroke-linejoin="round"/>
<polyline points="92.9,650.9 96.4,654.3" fill="none" stroke="#dedede" stroke-width="0.92" stroke-linecap="round" stroke-linejoin="round"/>
<polyline points="96.4,650.8 92.9,654.5" fill="none" stroke="#dedede" stroke-width="0.92" stroke-linecap="round" stroke-linejoin="round"/>
<polyline points="92.3,683.1 97.0,687.4" fill="none" stroke="#dedede" stroke-width="0.92" stroke-linecap="round" stroke-linejoin="round"/>
<polyline points="97.0,682.7 92.3,687.7" fill="none" stroke="#dedede" stroke-width="0.92" stroke-linecap="round" stroke-linejoin="round"/>
<polyline points="215.4,612.7 219.3,616.8" fill="none" stroke="#dedede" stroke-width="0.92" stroke-linecap="round" stroke-linejoin="round"/>
<polyline points="219.3,612.6 215.4,616.9" fill="none" stroke="#dedede" stroke-width="0.92" stroke-linecap="round" stroke-linejoin="round"/>
<polyline points="215.8,646.7 218.8,649.8" fill="none" stroke="#dedede" stroke-width="0.92" stroke-linecap="round" stroke-linejoin="round"/>
<polyline points="218.8,646.6 215.8,650.0" fill="none" stroke="#dedede" stroke-width="0.92" stroke-linecap="round" stroke-linejoin="round"/>
<polyline points="215.4,676.1 219.3,680.1" fill="none" stroke="#dedede" stroke-width="0.92" stroke-linecap="round" stroke-linejoin="round"/>
<polyline points="219.3,675.8 215.4,680.3" fill="none" stroke="#dedede" stroke-width="0.92" stroke-linecap="round" stroke-linejoin="round"/>
<circle cx="144.8" cy="595.9" r="0.79" fill="#e6f5ec"/>
<circle cx="165.3" cy="596.4" r="0.79" fill="#e6f5ec"/>
<circle cx="144.8" cy="701.2" r="0.79" fill="#e6f5ec"/>
<circle cx="165.3" cy="699.8" r="0.79" fill="#e6f5ec"/>
<polygon points="93.0,720.0 218.7,708.4 218.7,833.6 93.0,862.0" fill="#b9bcbc"/>
<polygon points="94.1,720.9 217.8,709.4 217.8,832.9 94.1,860.7" fill="#0b0d0d"/>
<polygon points="101.9,726.2 212.6,715.3 212.6,829.3 101.9,853.7" fill="#595352"/>
<polygon points="103.2,734.5 120.2,732.7 120.2,765.2 103.2,767.6" fill="#625c5a"/>
<polygon points="103.2,772.5 120.2,770.1 120.2,801.9 103.2,804.9" fill="#625c5a"/>
<polygon points="103.2,811.9 120.2,808.8 120.2,840.6 103.2,844.2" fill="#625c5a"/>
<polygon points="122.5,732.5 143.9,730.2 143.9,759.9 122.5,762.8" fill="#595352"/>
<polygon points="122.5,808.4 143.9,804.5 143.9,835.6 122.5,840.1" fill="#625c5a"/>
<polygon points="168.5,727.5 182.4,726.1 182.4,759.9 168.5,761.8" fill="#78716e"/>
<polygon points="168.5,765.8 182.4,763.8 182.4,793.7 168.5,796.1" fill="#78716e"/>
<polygon points="168.5,801.4 182.4,798.9 182.4,827.5 168.5,830.4" fill="#78716e"/>
<polygon points="184.2,725.9 200.6,724.1 200.6,756.0 184.2,758.3" fill="#78716e"/>
<polygon points="184.2,763.5 200.6,761.1 200.6,790.5 184.2,793.4" fill="#78716e"/>
<polygon points="184.2,798.6 200.6,795.6 200.6,823.6 184.2,827.1" fill="#78716e"/>
<polygon points="103.2,734.5 111.2,733.7 120.2,750.7 120.2,765.2 114.0,766.1" fill="#57504e"/>
<polygon points="103.2,844.2 109.8,824.7 120.2,814.3 120.2,840.6" fill="#5b5452"/>
<polygon points="184.2,758.3 191.3,739.3 200.6,733.0 200.6,756.0" fill="#645c59"/>
<polygon points="168.5,830.4 174.6,812.1 182.4,805.4 182.4,827.5" fill="#6a625f"/>
<polygon points="184.2,827.1 190.1,811.7 200.6,804.5 200.6,823.6" fill="#6a625f"/>
<polygon points="122.5,840.1 127.5,826.7 134.1,837.7" fill="#5b5452"/>
<polyline points="104.3,842.6 118.1,812.0" fill="none" stroke="#4c4644" stroke-width="0.67" stroke-linecap="round" stroke-linejoin="round"/>
<polyline points="123.5,838.6 139.4,810.8" fill="none" stroke="#4c4644" stroke-width="0.67" stroke-linecap="round" stroke-linejoin="round"/>
<polyline points="169.7,794.6 180.6,766.6" fill="none" stroke="#4c4644" stroke-width="0.67" stroke-linecap="round" stroke-linejoin="round"/>
<polyline points="185.4,825.6 198.3,799.8" fill="none" stroke="#4c4644" stroke-width="0.67" stroke-linecap="round" stroke-linejoin="round"/>
<polyline points="185.4,755.6 198.3,728.2" fill="none" stroke="#4c4644" stroke-width="0.67" stroke-linecap="round" stroke-linejoin="round"/>
<polyline points="104.3,765.3 118.1,737.1" fill="none" stroke="#4c4644" stroke-width="0.67" stroke-linecap="round" stroke-linejoin="round"/>
<polygon points="101.9,769.2 212.6,753.7 212.6,755.5 101.9,771.1" fill="#3f3938"/>
<polygon points="101.9,809.0 212.6,789.4 212.6,791.1 101.9,811.0" fill="#3f3938"/>
<polygon points="101.9,790.3 120.8,787.3 120.8,788.7 101.9,791.7" fill="#514a48"/>
<polygon points="168.5,780.3 200.6,775.2 200.6,776.4 168.5,781.6" fill="#5d5553"/>
<polygon points="95.1,725.3 217.0,713.4 217.0,715.0 95.1,727.0" fill="#203234"/>
<polygon points="101.9,726.2 118.5,724.6 116.0,734.3 103.9,735.6" fill="#0b0d0d"/>
<polygon points="121.8,724.2 140.9,722.4 138.8,731.4 124.3,733.4" fill="#0b0d0d"/>
<polygon points="140.9,722.4 144.3,722.0 144.3,726.1 141.7,725.0" fill="#2a2626"/>
<polygon points="167.9,719.7 182.8,718.2 182.8,725.4 170.9,727.9 167.9,725.0" fill="#0b0d0d"/>
<polygon points="183.8,718.1 212.6,715.3 210.9,721.1 189.0,726.6" fill="#0b0d0d"/>
<polygon points="120.6,724.4 121.8,724.2 121.8,849.3 120.6,849.5" fill="#0b0d0d"/>
<polygon points="182.8,718.2 183.8,718.1 183.8,835.7 182.8,835.9" fill="#0b0d0d"/>
<polygon points="94.7,725.5 101.9,724.8 101.9,854.4 94.7,855.9" fill="#0b0d0d"/>
<polygon points="96.0,729.6 98.5,729.4 98.5,767.5 96.0,767.9" fill="#203234"/>
<polygon points="96.0,776.4 98.5,776.0 98.5,807.1 96.0,807.5" fill="#203234"/>
<polygon points="96.0,816.0 98.5,815.5 98.5,852.3 96.0,852.8" fill="#203234"/>
<polygon points="94.7,769.5 101.9,768.5 101.9,774.1 94.7,775.1" fill="#2f3030"/>
<polygon points="94.7,808.4 101.9,807.2 101.9,812.8 94.7,814.1" fill="#3c3a3a"/>
<polygon points="201.3,720.6 211.1,719.6 211.1,734.8 201.3,736.0" fill="#1a1817"/>
<polygon points="201.3,736.0 211.1,734.8 211.1,739.4 201.3,740.6" fill="#2b2423"/>
<polygon points="201.3,746.3 213.7,744.7 213.7,751.0 201.3,752.7" fill="#3b2f2d"/>
<polygon points="201.3,755.9 211.4,754.5 211.4,784.8 201.3,786.5" fill="#201e1e"/>
<polygon points="201.3,787.8 213.9,785.6 213.9,791.3 201.3,793.5" fill="#3b2f2d"/>
<polygon points="201.3,797.4 212.3,795.3 212.3,825.0 201.3,827.3" fill="#2b2929"/>
<polygon points="212.3,715.3 217.5,714.8 217.5,828.9 212.3,830.0" fill="#0d1010"/>
<polygon points="213.7,718.9 215.4,718.8 215.4,826.8 213.7,827.2" fill="#1c2424"/>
<polygon points="94.7,855.0 217.5,828.0 217.5,832.6 94.7,860.2" fill="#0b0d0d"/>
<polygon points="98.1,855.2 102.2,843.5 115.1,839.6 119.4,847.0 125.7,848.5" fill="#0b0d0d"/>
<polygon points="126.4,848.3 128.2,838.4 134.1,836.3 135.8,846.2" fill="#0b0d0d"/>
<polygon points="140.9,845.1 143.6,837.7 167.1,833.4 169.8,838.7" fill="#0b0d0d"/>
<polygon points="171.3,838.4 173.1,827.9 179.1,826.8 181.7,836.1" fill="#0b0d0d"/>
<polygon points="187.6,834.8 190.4,824.0 205.4,821.1 212.6,829.3" fill="#0b0d0d"/>
<polygon points="103.6,846.0 114.2,842.5 116.7,845.5 102.2,850.1" fill="#222a2a"/>
<polygon points="191.3,826.4 204.3,823.8 207.5,826.6 190.1,830.4" fill="#222a2a"/>
<polyline points="94.7,770.5 95.7,770.1 97.1,769.7 98.7,769.2 100.5,768.5 102.2,767.6 103.9,766.5 105.4,765.0 107.0,763.2 108.6,761.2 110.1,759.2 111.7,757.1 113.1,755.1 114.6,753.1 116.0,751.0 117.3,749.0 118.7,747.0 120.1,745.2 121.4,743.5 122.8,742.1 124.0,740.8 125.3,739.6 126.6,738.6 128.1,737.5 129.9,736.5 132.1,735.3 134.8,734.2 137.7,733.1 140.4,732.0 142.7,731.2 144.3,730.5" fill="none" stroke="#0b0d0d" stroke-width="3.08" stroke-linecap="round" stroke-linejoin="round"/>
<polyline points="94.7,774.0 96.1,773.6 98.0,773.0 100.2,772.4 102.5,771.6 104.7,770.6 106.7,769.5 108.3,768.1 109.7,766.4 111.1,764.6 112.5,762.7 113.8,760.8 115.1,759.0 116.3,757.1 117.6,755.2 118.8,753.3 120.0,751.4 121.2,749.7 122.4,748.1 123.6,746.7 124.8,745.4 126.1,744.2 127.3,743.1 128.6,742.2 129.9,741.3 131.2,740.5 132.7,739.8 134.1,739.2 135.6,738.7 136.9,738.3 138.2,737.9 139.4,737.5 140.6,737.2 141.8,737.0 142.8,736.9 143.7,736.7 144.3,736.6" fill="none" stroke="#0b0d0d" stroke-width="3.08" stroke-linecap="round" stroke-linejoin="round"/>
<polyline points="101.5,766.4 102.2,766.0 103.3,765.6 104.5,765.0 105.9,764.2 107.2,763.2 108.5,762.0 109.6,760.3 110.7,758.3 111.8,756.0 112.9,753.7 114.1,751.4 115.3,749.2 116.6,747.2 117.9,745.1 119.2,743.0 120.5,741.1 121.9,739.4 123.5,737.9 125.2,736.7 127.2,735.7 129.3,734.9 131.3,734.2 132.9,733.7 134.1,733.3" fill="none" stroke="#0b0d0d" stroke-width="2.01" stroke-linecap="round" stroke-linejoin="round"/>
<polygon points="144.3,725.5 167.9,723.1 167.9,832.9 144.3,838.0" fill="#2d9c5f"/>
<polygon points="144.3,725.5 167.9,723.1 167.9,738.2 144.3,740.9" fill="#4ba675"/>
<polygon points="144.3,740.9 167.9,738.2 167.9,752.7 144.3,755.8" fill="#47a672"/>
<polygon points="144.3,755.8 167.9,752.7 167.9,763.2 144.3,766.6" fill="#62b48a"/>
<polygon points="144.3,766.6 167.9,763.2 167.9,772.5 144.3,776.1" fill="#6ab990"/>
<polygon points="144.3,776.1 167.9,772.5 167.9,784.4 144.3,788.2" fill="#48a876"/>
<polygon points="144.3,788.2 167.9,784.4 167.9,802.8 144.3,807.2" fill="#2a9c60"/>
<polygon points="144.3,807.2 167.9,802.8 167.9,818.7 144.3,823.4" fill="#239a52"/>
<polygon points="144.3,823.4 167.9,818.7 167.9,832.9 144.3,838.0" fill="#1a964c"/>
<polygon points="148.1,740.9 166.4,738.7 166.4,751.8 148.1,754.2" fill="#0a0a0a"/>
<circle cx="152.2" cy="743.0" r="1.34" fill="#f4f4f4"/>
<circle cx="163.7" cy="741.6" r="1.34" fill="#f4f4f4"/>
<circle cx="152.2" cy="751.1" r="1.34" fill="#f4f4f4"/>
<circle cx="163.7" cy="749.7" r="1.34" fill="#f4f4f4"/>
<polyline points="154.3,743.7 161.6,749.0" fill="none" stroke="#c4c4c4" stroke-width="1.20" stroke-linecap="round" stroke-linejoin="round"/>
<polyline points="161.6,742.8 154.3,749.9" fill="none" stroke="#c4c4c4" stroke-width="1.20" stroke-linecap="round" stroke-linejoin="round"/>
<polyline points="158.0,742.5 158.0,750.2" fill="none" stroke="#b0b0b0" stroke-width="1.07" stroke-linecap="round" stroke-linejoin="round"/>
<polyline points="154.3,746.8 161.6,745.9" fill="none" stroke="#9a9a9a" stroke-width="0.80" stroke-linecap="round" stroke-linejoin="round"/>
<polygon points="150.7,775.1 162.9,773.2 162.9,784.1 150.7,786.1" fill="#0a0a0a"/>
<circle cx="154.0" cy="776.6" r="1.14" fill="#f4f4f4"/>
<circle cx="160.9" cy="775.5" r="1.14" fill="#f4f4f4"/>
<circle cx="154.0" cy="783.6" r="1.14" fill="#f4f4f4"/>
<circle cx="160.9" cy="782.5" r="1.14" fill="#f4f4f4"/>
<polyline points="154.7,777.6 160.2,781.4" fill="none" stroke="#c4c4c4" stroke-width="1.20" stroke-linecap="round" stroke-linejoin="round"/>
<polyline points="160.2,776.8 154.7,782.3" fill="none" stroke="#c4c4c4" stroke-width="1.20" stroke-linecap="round" stroke-linejoin="round"/>
<polyline points="157.5,776.6 157.5,782.5" fill="none" stroke="#b0b0b0" stroke-width="1.07" stroke-linecap="round" stroke-linejoin="round"/>
<polyline points="154.7,780.0 160.2,779.1" fill="none" stroke="#9a9a9a" stroke-width="0.80" stroke-linecap="round" stroke-linejoin="round"/>
<polygon points="148.1,807.3 166.8,803.8 166.8,818.4 148.1,822.1" fill="#0a0a0a"/>
<circle cx="152.2" cy="809.1" r="1.34" fill="#f4f4f4"/>
<circle cx="164.0" cy="806.9" r="1.34" fill="#f4f4f4"/>
<circle cx="152.2" cy="818.7" r="1.34" fill="#f4f4f4"/>
<circle cx="164.0" cy="816.4" r="1.34" fill="#f4f4f4"/>
<polyline points="154.5,810.3 161.8,815.1" fill="none" stroke="#c4c4c4" stroke-width="1.20" stroke-linecap="round" stroke-linejoin="round"/>
<polyline points="161.8,809.0 154.5,816.6" fill="none" stroke="#c4c4c4" stroke-width="1.20" stroke-linecap="round" stroke-linejoin="round"/>
<polyline points="158.2,808.9 158.2,816.6" fill="none" stroke="#b0b0b0" stroke-width="1.07" stroke-linecap="round" stroke-linejoin="round"/>
<polyline points="154.5,813.5 161.8,812.1" fill="none" stroke="#9a9a9a" stroke-width="0.80" stroke-linecap="round" stroke-linejoin="round"/>
<polygon points="145.3,741.9 147.4,741.7 147.4,753.6 145.3,753.9" fill="#174c30"/>
<polygon points="145.3,808.3 147.4,807.9 147.4,821.4 145.3,821.8" fill="#174c30"/>
<polygon points="149.0,741.7 150.3,741.6 150.3,753.0 149.0,753.2" fill="#8a8f8c"/>
<polygon points="149.0,808.0 150.3,807.8 150.3,820.8 149.0,821.1" fill="#8a8f8c"/>
<polygon points="151.6,787.7 162.3,785.9 162.3,789.0 151.6,790.8" fill="#a8dcc0"/>
<circle cx="153.5" cy="788.9" r="0.94" fill="#eef"/>
<circle cx="157.3" cy="788.2" r="0.94" fill="#eef"/>
<circle cx="161.1" cy="787.6" r="0.94" fill="#eef"/>
<polygon points="123.2,761.4 126.1,761.0 126.1,806.4 123.2,806.9" fill="#0d0d0d"/>
<polygon points="125.9,762.8 148.1,759.7 148.1,799.7 125.9,803.7" fill="#e6e6e3"/>
<polygon points="125.9,762.8 148.1,759.7 148.1,767.1 125.9,770.4" fill="#cfcfcc"/>
<polygon points="128.2,765.1 145.8,762.6 145.8,764.0 128.2,766.5" fill="#9a9a98"/>
<polygon points="125.9,796.1 148.1,792.3 148.1,799.7 125.9,803.7" fill="#c2c2c0"/>
<polygon points="125.9,762.8 127.4,762.6 127.4,803.4 125.9,803.7" fill="#a9a9a7"/>
<polygon points="129.6,771.4 131.2,771.2 131.2,773.5 129.6,773.7" fill="#333333"/>
<polygon points="129.6,774.7 131.2,774.4 131.2,776.8 129.6,777.0" fill="#333333"/>
<polygon points="129.6,778.0 131.2,777.7 131.2,780.1 129.6,780.3" fill="#333333"/>
<polygon points="129.6,781.3 131.2,781.0 131.2,783.3 129.6,783.6" fill="#333333"/>
<polygon points="129.6,784.6 131.2,784.3 131.2,786.6 129.6,786.9" fill="#333333"/>
<polygon points="129.6,787.8 131.2,787.6 131.2,789.9 129.6,790.2" fill="#333333"/>
<polygon points="129.6,791.1 131.2,790.9 131.2,793.2 129.6,793.5" fill="#333333"/>
<polygon points="133.5,770.8 135.0,770.6 135.0,772.9 133.5,773.2" fill="#333333"/>
<polygon points="133.5,774.1 135.0,773.9 135.0,776.2 133.5,776.4" fill="#333333"/>
<polygon points="133.5,777.4 135.0,777.2 135.0,779.5 133.5,779.7" fill="#333333"/>
<polygon points="133.5,780.7 135.0,780.4 135.0,782.7 133.5,783.0" fill="#333333"/>
<polygon points="133.5,783.9 135.0,783.7 135.0,786.0 133.5,786.3" fill="#333333"/>
<polygon points="133.5,787.2 135.0,787.0 135.0,789.3 133.5,789.5" fill="#333333"/>
<polygon points="133.5,790.5 135.0,790.2 135.0,792.6 133.5,792.8" fill="#333333"/>
<polygon points="137.3,770.3 138.8,770.1 138.8,772.4 137.3,772.6" fill="#333333"/>
<polygon points="137.3,773.5 138.8,773.3 138.8,775.6 137.3,775.9" fill="#333333"/>
<polygon points="137.3,776.8 138.8,776.6 138.8,778.9 137.3,779.1" fill="#8a8f60"/>
<polygon points="137.3,780.1 138.8,779.8 138.8,782.1 137.3,782.4" fill="#8a8f60"/>
<polygon points="137.3,783.3 138.8,783.1 138.8,785.4 137.3,785.7" fill="#8a8f60"/>
<polygon points="137.3,786.6 138.8,786.4 138.8,788.7 137.3,788.9" fill="#333333"/>
<polygon points="137.3,789.9 138.8,789.6 138.8,791.9 137.3,792.2" fill="#333333"/>
<polygon points="141.1,769.7 142.6,769.5 142.6,771.8 141.1,772.0" fill="#cdb85e"/>
<polygon points="141.1,773.0 142.6,772.8 142.6,775.1 141.1,775.3" fill="#cdb85e"/>
<polygon points="141.1,776.2 142.6,776.0 142.6,778.3 141.1,778.5" fill="#cdb85e"/>
<polygon points="141.1,779.5 142.6,779.2 142.6,781.6 141.1,781.8" fill="#cdb85e"/>
<polygon points="141.1,782.7 142.6,782.5 142.6,784.8 141.1,785.0" fill="#cdb85e"/>
<polygon points="141.1,786.0 142.6,785.7 142.6,788.0 141.1,788.3" fill="#333333"/>
<polygon points="141.1,789.3 142.6,789.0 142.6,791.3 141.1,791.6" fill="#333333"/>
<polygon points="144.8,769.2 146.4,769.0 146.4,771.2 144.8,771.5" fill="#333333"/>
<polygon points="144.8,772.4 146.4,772.2 146.4,774.5 144.8,774.7" fill="#333333"/>
<polygon points="144.8,775.7 146.4,775.4 146.4,777.7 144.8,778.0" fill="#333333"/>
<polygon points="144.8,778.9 146.4,778.7 146.4,781.0 144.8,781.2" fill="#333333"/>
<polygon points="144.8,782.1 146.4,781.9 146.4,784.2 144.8,784.4" fill="#333333"/>
<polygon points="144.8,785.4 146.4,785.1 146.4,787.4 144.8,787.7" fill="#333333"/>
<polygon points="144.8,788.6 146.4,788.4 146.4,790.7 144.8,790.9" fill="#333333"/>
<polygon points="127.8,760.3 140.4,758.6 140.4,761.2 127.8,762.9" fill="#0c0c0c"/>
<polygon points="128.7,757.6 130.3,757.4 130.3,760.7 128.7,760.9" fill="#1b4fb4"/>
<circle cx="129.5" cy="761.7" r="0.47" fill="#cfcfcf"/>
<polygon points="131.1,757.3 132.7,757.1 132.7,760.4 131.1,760.6" fill="#1b4fb4"/>
<circle cx="131.9" cy="761.4" r="0.47" fill="#cfcfcf"/>
<polygon points="133.5,757.0 135.0,756.8 135.0,760.0 133.5,760.2" fill="#1b4fb4"/>
<circle cx="134.2" cy="761.1" r="0.47" fill="#cfcfcf"/>
<polygon points="135.8,756.7 137.4,756.5 137.4,759.7 135.8,759.9" fill="#1b4fb4"/>
<circle cx="136.6" cy="760.8" r="0.47" fill="#cfcfcf"/>
<polygon points="138.2,756.3 139.7,756.1 139.7,759.4 138.2,759.6" fill="#1b4fb4"/>
<circle cx="139.0" cy="760.5" r="0.47" fill="#cfcfcf"/>
<polygon points="128.4,802.9 147.1,799.6 147.1,802.6 128.4,806.0" fill="#0c0c0c"/>
<polygon points="130.1,805.1 131.7,804.8 131.7,808.9 130.1,809.2" fill="#1b4fb4"/>
<circle cx="130.9" cy="803.9" r="0.47" fill="#cfcfcf"/>
<polygon points="132.5,804.7 134.1,804.4 134.1,808.5 132.5,808.8" fill="#1b4fb4"/>
<circle cx="133.3" cy="803.4" r="0.47" fill="#cfcfcf"/>
<polygon points="134.9,804.2 136.5,804.0 136.5,808.1 134.9,808.3" fill="#1b4fb4"/>
<circle cx="135.7" cy="803.0" r="0.47" fill="#cfcfcf"/>
<polygon points="137.3,803.8 138.8,803.5 138.8,807.6 137.3,807.9" fill="#1b4fb4"/>
<circle cx="138.1" cy="802.6" r="0.47" fill="#cfcfcf"/>
<polygon points="139.6,803.4 141.2,803.1 141.2,807.2 139.6,807.5" fill="#1b4fb4"/>
<circle cx="140.4" cy="802.2" r="0.47" fill="#cfcfcf"/>
<polygon points="142.0,803.0 143.5,802.7 143.5,806.8 142.0,807.1" fill="#1b4fb4"/>
<circle cx="142.7" cy="801.8" r="0.47" fill="#cfcfcf"/>
<polygon points="144.3,802.6 145.8,802.3 145.8,806.3 144.3,806.6" fill="#1b4fb4"/>
<circle cx="145.1" cy="801.4" r="0.47" fill="#cfcfcf"/>
<polyline points="130.8,759.6 130.7,758.7 130.4,757.3 130.2,755.6 129.9,753.9 129.7,752.3 129.6,750.9 129.6,749.8 129.7,748.7 129.9,747.8 130.0,746.9 130.2,746.1 130.4,745.3 130.6,744.6 130.9,743.8 131.1,743.2 131.4,742.6 131.6,742.1 131.7,741.7" fill="none" stroke="#dba21c" stroke-width="1.34" stroke-linecap="round" stroke-linejoin="round"/>
<polyline points="134.8,759.1 134.7,758.3 134.6,757.1 134.5,755.8 134.4,754.3 134.4,752.9 134.4,751.7 134.5,750.5 134.6,749.3 134.7,748.1 134.9,747.0 135.1,746.1 135.2,745.4" fill="none" stroke="#2c3f9e" stroke-width="1.20" stroke-linecap="round" stroke-linejoin="round"/>
<polyline points="137.8,758.7 137.8,757.9 137.9,756.7 138.0,755.3 138.0,753.8 138.1,752.4 138.1,751.2 138.0,750.1 137.9,749.1 137.7,748.0 137.6,747.1 137.5,746.4 137.4,745.8" fill="none" stroke="#2c3f9e" stroke-width="1.20" stroke-linecap="round" stroke-linejoin="round"/>
<polyline points="135.4,808.1 134.9,809.8 134.6,811.6 134.5,813.3 134.4,815.0 134.6,816.6 134.9,818.2 135.3,819.6 136.0,821.0 136.7,822.1 137.6,823.1 138.6,824.0 139.8,824.6 141.1,825.0 142.6,825.1" fill="none" stroke="#c81e2b" stroke-width="1.61" stroke-linecap="round" stroke-linejoin="round"/>
<polyline points="138.7,807.5 138.2,808.9 137.9,810.3 137.7,811.7 137.7,813.1 137.8,814.3 138.0,815.5 138.3,816.6 138.7,817.5 139.3,818.3 139.9,819.0 140.6,819.5 141.4,819.7 142.3,819.7 143.3,819.5" fill="none" stroke="#c81e2b" stroke-width="1.61" stroke-linecap="round" stroke-linejoin="round"/>
<polyline points="142.0,806.9 142.3,807.9 142.5,808.8 142.5,809.8 142.5,810.7 142.3,811.6 142.0,812.4 141.6,813.1 141.2,813.7 140.7,814.1 140.1,814.5 139.4,814.6 138.8,814.6 138.1,814.3 137.4,813.9" fill="none" stroke="#c81e2b" stroke-width="1.47" stroke-linecap="round" stroke-linejoin="round"/>
<polyline points="131.5,808.8 131.0,811.1 130.8,813.4 130.8,815.5 131.1,817.6 131.5,819.6 132.1,821.4 133.0,823.0 134.0,824.4 135.1,825.6 136.5,826.6 138.0,827.3 139.6,827.8 141.4,827.9 143.3,827.6" fill="none" stroke="#0b0d0d" stroke-width="1.47" stroke-linecap="round" stroke-linejoin="round"/>
<polyline points="167.6,728.0 168.3,728.0 169.2,728.0 170.2,727.9 171.4,727.9 172.4,728.0 173.4,728.1 174.2,728.2 175.0,728.4 175.7,728.6 176.4,728.8 177.1,729.2 177.8,729.8 178.5,730.6 179.2,731.5 179.9,732.6 180.6,733.7 181.2,734.9 181.7,736.1 182.1,737.5 182.3,739.0 182.5,740.5 182.6,742.0 182.7,743.5 182.9,744.8 183.2,746.1 183.4,747.2 183.7,748.3 184.0,749.3 184.3,750.3 184.7,751.2 185.1,752.1 185.6,753.0 186.1,753.7 186.6,754.5 187.2,755.2 187.8,755.9 188.4,756.5 189.1,757.1 189.9,757.7 190.6,758.2 191.2,758.7 191.8,759.2 192.2,759.7 192.6,760.1 193.0,760.5 193.3,760.9 193.5,761.2 193.7,761.5" fill="none" stroke="#0b0d0d" stroke-width="2.01" stroke-linecap="round" stroke-linejoin="round"/>
<polyline points="167.9,738.0 168.3,738.3 168.9,738.5 169.6,738.9 170.2,739.3 170.9,739.8 171.3,740.4 171.6,741.1 171.8,741.8 171.9,742.6 172.0,743.5 172.0,744.5 171.9,745.6 171.8,746.7 171.6,748.0 171.3,749.4 171.0,750.8 170.7,752.2 170.5,753.7 170.3,755.2 170.1,756.7 170.0,758.3 169.8,759.9 169.7,761.5 169.6,763.0 169.5,764.5 169.3,765.9 169.2,767.3 169.1,768.7 169.0,769.9 169.1,771.0 169.2,771.9 169.4,772.7 169.7,773.3 170.0,773.9 170.4,774.3 170.9,774.7 171.5,774.9 172.2,774.9 173.0,774.9 173.8,774.7 174.8,774.5 175.8,774.2 177.0,773.7 178.4,773.1 179.9,772.3 181.4,771.6 182.8,770.8 184.2,770.0 185.6,769.2 187.1,768.3 188.5,767.3 189.9,766.5 191.0,765.8 191.8,765.2" fill="none" stroke="#0b0d0d" stroke-width="2.28" stroke-linecap="round" stroke-linejoin="round"/>
<polyline points="197.2,762.0 197.9,761.6 199.0,760.9 200.3,760.2 201.6,759.4 202.9,758.7 204.1,758.1 205.1,757.5 206.0,757.1 206.9,756.6 207.8,756.2 208.8,755.8 209.9,755.3 211.1,754.9 212.6,754.3 214.1,753.8 215.5,753.3 216.7,752.9 217.6,752.6" fill="none" stroke="#0b0d0d" stroke-width="2.41" stroke-linecap="round" stroke-linejoin="round"/>
<polygon points="190.7,763.3 196.8,760.1 197.9,763.8 192.3,766.8" fill="#c9994f"/>
<polygon points="181.2,739.2 187.0,738.5 187.0,747.6 181.2,748.3" fill="#0b0d0d"/>
<circle cx="188.0" cy="740.1" r="1.27" fill="#e8e8e8"/>
<circle cx="188.0" cy="745.8" r="1.27" fill="#e8e8e8"/>
<polygon points="182.2,771.0 187.6,770.1 187.6,779.8 182.2,780.7" fill="#0b0d0d"/>
<circle cx="188.6" cy="771.7" r="1.27" fill="#e8e8e8"/>
<circle cx="188.6" cy="778.0" r="1.27" fill="#e8e8e8"/>
<polygon points="182.8,803.0 188.1,802.0 188.1,812.1 182.8,813.1" fill="#0b0d0d"/>
<circle cx="189.2" cy="803.5" r="1.27" fill="#e8e8e8"/>
<circle cx="189.2" cy="810.2" r="1.27" fill="#e8e8e8"/>
<polygon points="121.0,775.5 124.8,774.9 124.8,785.9 121.0,786.5" fill="#0b0d0d"/>
<circle cx="126.0" cy="776.5" r="1.27" fill="#e8e8e8"/>
<circle cx="126.0" cy="784.0" r="1.27" fill="#e8e8e8"/>
<polygon points="121.3,812.1 124.8,811.4 124.8,825.9 121.3,826.6" fill="#0b0d0d"/>
<circle cx="126.0" cy="813.0" r="1.27" fill="#e8e8e8"/>
<circle cx="126.0" cy="823.9" r="1.27" fill="#e8e8e8"/>
<circle cx="125.7" cy="747.7" r="1.41" fill="#e8e8e8"/>
<circle cx="125.7" cy="756.6" r="1.41" fill="#e8e8e8"/>
<circle cx="179.4" cy="788.3" r="1.07" fill="#222"/>
<circle cx="179.4" cy="759.6" r="1.07" fill="#222"/>
<circle cx="97.0" cy="723.2" r="1.27" fill="#e0e0e0"/>
<circle cx="128.2" cy="720.2" r="1.27" fill="#e0e0e0"/>
<circle cx="156.7" cy="717.5" r="1.27" fill="#e0e0e0"/>
<circle cx="162.9" cy="716.9" r="1.27" fill="#e0e0e0"/>
<circle cx="189.6" cy="714.3" r="1.27" fill="#e0e0e0"/>
<circle cx="215.7" cy="711.8" r="1.27" fill="#e0e0e0"/>
<circle cx="97.0" cy="857.7" r="1.27" fill="#e0e0e0"/>
<circle cx="128.2" cy="850.8" r="1.27" fill="#e0e0e0"/>
<circle cx="156.7" cy="844.4" r="1.27" fill="#e0e0e0"/>
<circle cx="162.9" cy="843.0" r="1.27" fill="#e0e0e0"/>
<circle cx="189.6" cy="837.1" r="1.27" fill="#e0e0e0"/>
<circle cx="215.7" cy="831.3" r="1.27" fill="#e0e0e0"/>
<circle cx="96.3" cy="749.4" r="1.27" fill="#e0e0e0"/>
<circle cx="96.3" cy="757.9" r="1.27" fill="#e0e0e0"/>
<circle cx="96.3" cy="789.8" r="1.27" fill="#e0e0e0"/>
<circle cx="96.3" cy="820.9" r="1.27" fill="#e0e0e0"/>
<circle cx="96.3" cy="829.4" r="1.27" fill="#e0e0e0"/>
<circle cx="214.8" cy="735.8" r="1.27" fill="#e0e0e0"/>
<circle cx="214.8" cy="743.3" r="1.27" fill="#e0e0e0"/>
<circle cx="214.8" cy="771.0" r="1.27" fill="#e0e0e0"/>
<circle cx="214.8" cy="776.0" r="1.27" fill="#e0e0e0"/>
<circle cx="214.8" cy="799.9" r="1.27" fill="#e0e0e0"/>
<circle cx="214.8" cy="807.5" r="1.27" fill="#e0e0e0"/>
<circle cx="103.3" cy="771.4" r="1.14" fill="#e8e8e8"/>
<circle cx="103.3" cy="805.5" r="1.14" fill="#e8e8e8"/>
<circle cx="102.6" cy="850.7" r="1.14" fill="#e8e8e8"/>
<circle cx="211.4" cy="827.0" r="1.14" fill="#e8e8e8"/>
<circle cx="121.3" cy="850.1" r="1.07" fill="#e8e8e8"/>
<circle cx="183.3" cy="836.4" r="1.07" fill="#e8e8e8"/>
<polyline points="157.7,714.7 161.9,718.8" fill="none" stroke="#dedede" stroke-width="0.94" stroke-linecap="round" stroke-linejoin="round"/>
<polyline points="161.9,714.3 157.7,719.2" fill="none" stroke="#dedede" stroke-width="0.94" stroke-linecap="round" stroke-linejoin="round"/>
<polyline points="157.7,842.5 161.9,846.0" fill="none" stroke="#dedede" stroke-width="0.94" stroke-linecap="round" stroke-linejoin="round"/>
<polyline points="161.9,841.5 157.7,847.0" fill="none" stroke="#dedede" stroke-width="0.94" stroke-linecap="round" stroke-linejoin="round"/>
<polyline points="92.3,751.8 97.1,756.0" fill="none" stroke="#dedede" stroke-width="0.94" stroke-linecap="round" stroke-linejoin="round"/>
<polyline points="97.1,751.2 92.3,756.6" fill="none" stroke="#dedede" stroke-width="0.94" stroke-linecap="round" stroke-linejoin="round"/>
<polyline points="92.9,789.9 96.6,793.0" fill="none" stroke="#dedede" stroke-width="0.94" stroke-linecap="round" stroke-linejoin="round"/>
<polyline points="96.6,789.3 92.9,793.6" fill="none" stroke="#dedede" stroke-width="0.94" stroke-linecap="round" stroke-linejoin="round"/>
<polyline points="92.3,823.5 97.1,827.4" fill="none" stroke="#dedede" stroke-width="0.94" stroke-linecap="round" stroke-linejoin="round"/>
<polyline points="97.1,822.6 92.3,828.3" fill="none" stroke="#dedede" stroke-width="0.94" stroke-linecap="round" stroke-linejoin="round"/>
<polyline points="215.5,737.3 219.3,741.1" fill="none" stroke="#dedede" stroke-width="0.94" stroke-linecap="round" stroke-linejoin="round"/>
<polyline points="219.3,736.9 215.5,741.6" fill="none" stroke="#dedede" stroke-width="0.94" stroke-linecap="round" stroke-linejoin="round"/>
<polyline points="215.9,771.7 218.8,774.5" fill="none" stroke="#dedede" stroke-width="0.94" stroke-linecap="round" stroke-linejoin="round"/>
<polyline points="218.8,771.2 215.9,775.0" fill="none" stroke="#dedede" stroke-width="0.94" stroke-linecap="round" stroke-linejoin="round"/>
<polyline points="215.5,801.4 219.3,804.9" fill="none" stroke="#dedede" stroke-width="0.94" stroke-linecap="round" stroke-linejoin="round"/>
<polyline points="219.3,800.7 215.5,805.7" fill="none" stroke="#dedede" stroke-width="0.94" stroke-linecap="round" stroke-linejoin="round"/>
<circle cx="145.8" cy="727.3" r="0.80" fill="#e6f5ec"/>
<circle cx="166.4" cy="725.8" r="0.80" fill="#e6f5ec"/>
<circle cx="145.8" cy="835.6" r="0.80" fill="#e6f5ec"/>
<circle cx="166.4" cy="831.5" r="0.80" fill="#e6f5ec"/>
<polygon points="218.7,337.0 315.7,365.0 315.7,475.3 218.7,460.0" fill="#b9bcbc"/>
<polygon points="219.6,338.1 315.0,365.6 315.0,474.4 219.6,459.3" fill="#0b0d0d"/>
<polygon points="225.5,345.1 310.9,369.2 310.9,469.5 225.5,455.6" fill="#595352"/>
<polygon points="226.4,352.6 239.4,356.2 239.4,384.5 226.4,381.3" fill="#625c5a"/>
<polygon points="226.4,385.6 239.4,388.7 239.4,416.4 226.4,413.6" fill="#625c5a"/>
<polygon points="226.4,419.7 239.4,422.4 239.4,450.0 226.4,447.8" fill="#625c5a"/>
<polygon points="241.2,356.7 257.6,361.2 257.6,387.1 241.2,383.1" fill="#595352"/>
<polygon points="241.2,422.7 257.6,426.0 257.6,453.2 241.2,450.3" fill="#625c5a"/>
<polygon points="276.6,366.4 287.4,369.4 287.4,399.0 276.6,396.4" fill="#78716e"/>
<polygon points="276.6,399.9 287.4,402.4 287.4,428.6 276.6,426.4" fill="#78716e"/>
<polygon points="276.6,431.0 287.4,433.2 287.4,458.3 276.6,456.4" fill="#78716e"/>
<polygon points="288.8,369.7 301.5,373.3 301.5,401.3 288.8,398.2" fill="#78716e"/>
<polygon points="288.8,402.8 301.5,405.8 301.5,431.6 288.8,428.9" fill="#78716e"/>
<polygon points="288.8,433.5 301.5,436.1 301.5,460.7 288.8,458.5" fill="#78716e"/>
<polygon points="226.4,352.6 232.6,354.3 239.4,371.9 239.4,384.5 234.6,383.3" fill="#57504e"/>
<polygon points="226.4,447.8 231.5,432.9 239.4,427.2 239.4,450.0" fill="#5b5452"/>
<polygon points="288.8,398.2 294.3,383.7 301.5,381.1 301.5,401.3" fill="#645c59"/>
<polygon points="276.6,456.4 281.3,442.3 287.4,438.9 287.4,458.3" fill="#6a625f"/>
<polygon points="288.8,458.5 293.4,446.9 301.5,443.9 301.5,460.7" fill="#6a625f"/>
<polygon points="241.2,450.3 245.0,440.2 250.1,451.9" fill="#5b5452"/>
<polyline points="227.3,446.7 237.8,424.4" fill="none" stroke="#4c4644" stroke-width="0.55" stroke-linecap="round" stroke-linejoin="round"/>
<polyline points="241.9,449.3 254.1,430.1" fill="none" stroke="#4c4644" stroke-width="0.55" stroke-linecap="round" stroke-linejoin="round"/>
<polyline points="277.5,425.5 286.0,404.4" fill="none" stroke="#4c4644" stroke-width="0.55" stroke-linecap="round" stroke-linejoin="round"/>
<polyline points="289.7,457.6 299.7,439.1" fill="none" stroke="#4c4644" stroke-width="0.55" stroke-linecap="round" stroke-linejoin="round"/>
<polyline points="289.7,396.2 299.7,376.1" fill="none" stroke="#4c4644" stroke-width="0.55" stroke-linecap="round" stroke-linejoin="round"/>
<polyline points="227.3,379.7 237.8,359.4" fill="none" stroke="#4c4644" stroke-width="0.55" stroke-linecap="round" stroke-linejoin="round"/>
<polygon points="225.5,382.3 310.9,403.0 310.9,404.5 225.5,384.0" fill="#3f3938"/>
<polygon points="225.5,416.9 310.9,434.4 310.9,435.9 225.5,418.6" fill="#3f3938"/>
<polygon points="225.5,400.6 239.8,403.8 239.8,405.0 225.5,401.8" fill="#514a48"/>
<polygon points="276.6,412.6 301.5,418.1 301.5,419.2 276.6,413.7" fill="#5d5553"/>
<polygon points="220.3,342.3 314.4,368.9 314.4,370.3 220.3,343.7" fill="#203234"/>
<polygon points="225.5,345.1 238.1,348.6 236.2,356.3 227.0,353.8" fill="#0b0d0d"/>
<polygon points="240.7,349.3 255.3,353.5 253.7,360.7 242.5,358.0" fill="#0b0d0d"/>
<polygon points="255.3,353.5 257.9,354.2 257.9,357.7 255.9,356.0" fill="#2a2626"/>
<polygon points="276.1,359.3 287.7,362.6 287.7,368.9 278.5,367.5 276.1,364.0" fill="#0b0d0d"/>
<polygon points="288.4,362.8 310.9,369.2 309.6,373.8 292.5,371.9" fill="#0b0d0d"/>
<polygon points="239.7,349.1 240.7,349.3 240.7,458.1 239.7,457.9" fill="#0b0d0d"/>
<polygon points="287.7,362.6 288.4,362.8 288.4,465.9 287.7,465.7" fill="#0b0d0d"/>
<polygon points="220.0,342.3 225.5,343.8 225.5,456.2 220.0,455.3" fill="#0b0d0d"/>
<polygon points="221.0,346.2 222.9,346.8 222.9,379.8 221.0,379.4" fill="#203234"/>
<polygon points="221.0,386.7 222.9,387.2 222.9,414.1 221.0,413.7" fill="#203234"/>
<polygon points="221.0,421.1 222.9,421.5 222.9,453.3 221.0,453.0" fill="#203234"/>
<polygon points="220.0,380.4 225.5,381.7 225.5,386.6 220.0,385.3" fill="#2f3030"/>
<polygon points="220.0,414.1 225.5,415.3 225.5,420.2 220.0,419.1" fill="#3c3a3a"/>
<polygon points="302.1,370.4 309.7,372.5 309.7,385.9 302.1,383.9" fill="#1a1817"/>
<polygon points="302.1,383.9 309.7,385.9 309.7,389.9 302.1,388.0" fill="#2b2423"/>
<polygon points="302.1,393.0 311.8,395.4 311.8,401.0 302.1,398.6" fill="#3b2f2d"/>
<polygon points="302.1,401.4 310.0,403.3 310.0,430.0 302.1,428.3" fill="#201e1e"/>
<polygon points="302.1,429.4 311.9,431.5 311.9,436.5 302.1,434.5" fill="#3b2f2d"/>
<polygon points="302.1,437.8 310.7,439.6 310.7,465.6 302.1,464.2" fill="#2b2929"/>
<polygon points="310.7,369.1 314.7,370.2 314.7,470.7 310.7,470.1" fill="#0d1010"/>
<polygon points="311.8,372.7 313.1,373.1 313.1,468.2 311.8,468.0" fill="#1c2424"/>
<polygon points="220.0,454.4 314.7,470.0 314.7,474.0 220.0,459.0" fill="#0b0d0d"/>
<polygon points="222.6,455.7 225.7,446.8 235.5,447.5 238.8,455.3 243.7,458.7" fill="#0b0d0d"/>
<polygon points="244.2,458.6 245.5,450.6 250.1,450.7 251.4,459.8" fill="#0b0d0d"/>
<polygon points="255.3,460.5 257.4,454.9 275.5,458.6 277.6,464.1" fill="#0b0d0d"/>
<polygon points="278.7,464.3 280.2,455.7 284.8,456.6 286.8,465.6" fill="#0b0d0d"/>
<polygon points="291.4,466.4 293.6,457.8 305.3,460.0 310.9,469.5" fill="#0b0d0d"/>
<polygon points="226.7,449.4 234.9,449.7 236.7,453.2 225.7,452.6" fill="#222a2a"/>
<polygon points="294.3,460.2 304.4,462.0 306.9,465.6 293.4,463.3" fill="#222a2a"/>
<polyline points="220.0,381.2 220.8,381.2 221.8,381.3 223.0,381.4 224.4,381.3 225.7,381.1 227.0,380.6 228.1,379.8 229.3,378.7 230.5,377.5 231.7,376.1 232.9,374.8 234.0,373.5 235.1,372.2 236.2,370.9 237.2,369.5 238.3,368.2 239.3,367.0 240.4,366.0 241.4,365.1 242.3,364.4 243.3,363.8 244.3,363.2 245.5,362.8 246.8,362.4 248.5,362.1 250.6,361.9 252.8,361.8 254.9,361.7 256.6,361.7 257.9,361.6" fill="none" stroke="#0b0d0d" stroke-width="2.53" stroke-linecap="round" stroke-linejoin="round"/>
<polyline points="220.0,384.3 221.0,384.3 222.5,384.5 224.2,384.6 225.9,384.6 227.6,384.4 229.1,384.0 230.3,383.3 231.4,382.3 232.5,381.2 233.5,379.9 234.5,378.7 235.5,377.5 236.5,376.3 237.4,375.0 238.3,373.7 239.2,372.4 240.2,371.2 241.1,370.2 242.0,369.4 243.0,368.6 243.9,368.0 244.9,367.4 245.8,367.0 246.8,366.6 247.9,366.3 249.0,366.2 250.1,366.1 251.2,366.1 252.2,366.1 253.2,366.2 254.1,366.2 255.1,366.4 255.9,366.5 256.7,366.7 257.4,366.8 257.9,366.9" fill="none" stroke="#0b0d0d" stroke-width="2.53" stroke-linecap="round" stroke-linejoin="round"/>
<polyline points="225.1,379.8 225.7,379.7 226.5,379.6 227.5,379.5 228.5,379.2 229.5,378.8 230.4,378.0 231.3,376.9 232.2,375.5 233.0,373.9 233.9,372.2 234.8,370.6 235.7,369.1 236.7,367.7 237.6,366.3 238.6,364.9 239.7,363.6 240.7,362.5 241.9,361.7 243.3,361.2 244.8,360.9 246.4,360.8 247.9,360.9 249.2,360.9 250.1,360.9" fill="none" stroke="#0b0d0d" stroke-width="1.65" stroke-linecap="round" stroke-linejoin="round"/>
<polygon points="257.9,357.3 276.1,362.3 276.1,458.4 257.9,455.3" fill="#2d9c5f"/>
<polygon points="257.9,357.3 276.1,362.3 276.1,375.5 257.9,370.7" fill="#4ba675"/>
<polygon points="257.9,370.7 276.1,375.5 276.1,388.2 257.9,383.7" fill="#47a672"/>
<polygon points="257.9,383.7 276.1,388.2 276.1,397.4 257.9,393.1" fill="#62b48a"/>
<polygon points="257.9,393.1 276.1,397.4 276.1,405.5 257.9,401.4" fill="#6ab990"/>
<polygon points="257.9,401.4 276.1,405.5 276.1,415.9 257.9,412.0" fill="#48a876"/>
<polygon points="257.9,412.0 276.1,415.9 276.1,432.1 257.9,428.5" fill="#2a9c60"/>
<polygon points="257.9,428.5 276.1,432.1 276.1,446.0 257.9,442.6" fill="#239a52"/>
<polygon points="257.9,442.6 276.1,446.0 276.1,458.4 257.9,455.3" fill="#1a964c"/>
<polygon points="260.9,371.8 274.9,375.6 274.9,387.0 260.9,383.5" fill="#0a0a0a"/>
<circle cx="264.0" cy="374.9" r="1.10" fill="#f4f4f4"/>
<circle cx="272.8" cy="377.2" r="1.10" fill="#f4f4f4"/>
<circle cx="264.0" cy="382.0" r="1.10" fill="#f4f4f4"/>
<circle cx="272.8" cy="384.3" r="1.10" fill="#f4f4f4"/>
<polyline points="265.6,376.2 271.2,383.0" fill="none" stroke="#c4c4c4" stroke-width="0.99" stroke-linecap="round" stroke-linejoin="round"/>
<polyline points="271.2,377.6 265.6,381.6" fill="none" stroke="#c4c4c4" stroke-width="0.99" stroke-linecap="round" stroke-linejoin="round"/>
<polyline points="268.4,376.2 268.4,383.0" fill="none" stroke="#b0b0b0" stroke-width="0.88" stroke-linecap="round" stroke-linejoin="round"/>
<polyline points="265.6,378.9 271.2,380.3" fill="none" stroke="#9a9a9a" stroke-width="0.66" stroke-linecap="round" stroke-linejoin="round"/>
<polygon points="262.8,402.5 272.3,404.7 272.3,414.2 262.8,412.1" fill="#0a0a0a"/>
<circle cx="265.4" cy="404.8" r="0.94" fill="#f4f4f4"/>
<circle cx="270.7" cy="406.0" r="0.94" fill="#f4f4f4"/>
<circle cx="265.4" cy="410.9" r="0.94" fill="#f4f4f4"/>
<circle cx="270.7" cy="412.1" r="0.94" fill="#f4f4f4"/>
<polyline points="265.9,405.9 270.2,411.0" fill="none" stroke="#c4c4c4" stroke-width="0.99" stroke-linecap="round" stroke-linejoin="round"/>
<polyline points="270.2,406.9 265.9,410.0" fill="none" stroke="#c4c4c4" stroke-width="0.99" stroke-linecap="round" stroke-linejoin="round"/>
<polyline points="268.0,405.9 268.0,411.0" fill="none" stroke="#b0b0b0" stroke-width="0.88" stroke-linecap="round" stroke-linejoin="round"/>
<polyline points="265.9,408.0 270.2,408.9" fill="none" stroke="#9a9a9a" stroke-width="0.66" stroke-linecap="round" stroke-linejoin="round"/>
<polygon points="260.9,429.8 275.2,432.6 275.2,445.3 260.9,442.7" fill="#0a0a0a"/>
<circle cx="264.0" cy="432.6" r="1.10" fill="#f4f4f4"/>
<circle cx="273.1" cy="434.4" r="1.10" fill="#f4f4f4"/>
<circle cx="264.0" cy="441.0" r="1.10" fill="#f4f4f4"/>
<circle cx="273.1" cy="442.7" r="1.10" fill="#f4f4f4"/>
<polyline points="265.8,434.5 271.4,440.9" fill="none" stroke="#c4c4c4" stroke-width="0.99" stroke-linecap="round" stroke-linejoin="round"/>
<polyline points="271.4,435.5 265.8,439.9" fill="none" stroke="#c4c4c4" stroke-width="0.99" stroke-linecap="round" stroke-linejoin="round"/>
<polyline points="268.6,434.3 268.6,441.1" fill="none" stroke="#b0b0b0" stroke-width="0.88" stroke-linecap="round" stroke-linejoin="round"/>
<polyline points="265.8,437.2 271.4,438.2" fill="none" stroke="#9a9a9a" stroke-width="0.66" stroke-linecap="round" stroke-linejoin="round"/>
<polygon points="258.7,371.9 260.3,372.3 260.3,382.7 258.7,382.3" fill="#174c30"/>
<polygon points="258.7,429.8 260.3,430.1 260.3,441.9 258.7,441.6" fill="#174c30"/>
<polygon points="261.5,372.8 262.5,373.1 262.5,383.1 261.5,382.8" fill="#8a8f8c"/>
<polygon points="261.5,430.7 262.5,430.9 262.5,442.3 261.5,442.1" fill="#8a8f8c"/>
<polygon points="263.5,413.8 271.8,415.6 271.8,418.2 263.5,416.5" fill="#a8dcc0"/>
<circle cx="265.0" cy="415.4" r="0.77" fill="#eef"/>
<circle cx="267.9" cy="416.0" r="0.77" fill="#eef"/>
<circle cx="270.8" cy="416.6" r="0.77" fill="#eef"/>
<polygon points="241.7,382.0 244.0,382.6 244.0,422.1 241.7,421.6" fill="#0d0d0d"/>
<polygon points="243.8,384.1 260.9,388.3 260.9,423.2 243.8,419.7" fill="#e6e6e3"/>
<polygon points="243.8,384.1 260.9,388.3 260.9,394.8 243.8,390.7" fill="#cfcfcc"/>
<polygon points="245.5,386.8 259.1,390.1 259.1,391.3 245.5,388.0" fill="#9a9a98"/>
<polygon points="243.8,413.1 260.9,416.7 260.9,423.2 243.8,419.7" fill="#c2c2c0"/>
<polygon points="243.8,384.1 244.9,384.4 244.9,419.9 243.8,419.7" fill="#a9a9a7"/>
<polygon points="246.6,392.7 247.8,393.0 247.8,395.1 246.6,394.8" fill="#333333"/>
<polygon points="246.6,395.6 247.8,395.9 247.8,397.9 246.6,397.6" fill="#333333"/>
<polygon points="246.6,398.5 247.8,398.7 247.8,400.8 246.6,400.5" fill="#333333"/>
<polygon points="246.6,401.3 247.8,401.6 247.8,403.6 246.6,403.4" fill="#333333"/>
<polygon points="246.6,404.2 247.8,404.5 247.8,406.5 246.6,406.2" fill="#333333"/>
<polygon points="246.6,407.1 247.8,407.3 247.8,409.4 246.6,409.1" fill="#333333"/>
<polygon points="246.6,409.9 247.8,410.2 247.8,412.2 246.6,412.0" fill="#333333"/>
<polygon points="249.6,393.4 250.8,393.7 250.8,395.7 249.6,395.5" fill="#333333"/>
<polygon points="249.6,396.3 250.8,396.6 250.8,398.6 249.6,398.3" fill="#333333"/>
<polygon points="249.6,399.1 250.8,399.4 250.8,401.4 249.6,401.2" fill="#333333"/>
<polygon points="249.6,402.0 250.8,402.3 250.8,404.3 249.6,404.0" fill="#333333"/>
<polygon points="249.6,404.9 250.8,405.1 250.8,407.1 249.6,406.9" fill="#333333"/>
<polygon points="249.6,407.7 250.8,408.0 250.8,410.0 249.6,409.7" fill="#333333"/>
<polygon points="249.6,410.6 250.8,410.8 250.8,412.8 249.6,412.6" fill="#333333"/>
<polygon points="252.5,394.1 253.7,394.4 253.7,396.4 252.5,396.1" fill="#333333"/>
<polygon points="252.5,397.0 253.7,397.3 253.7,399.3 252.5,399.0" fill="#333333"/>
<polygon points="252.5,399.8 253.7,400.1 253.7,402.1 252.5,401.8" fill="#8a8f60"/>
<polygon points="252.5,402.7 253.7,402.9 253.7,404.9 252.5,404.7" fill="#8a8f60"/>
<polygon points="252.5,405.5 253.7,405.8 253.7,407.8 252.5,407.5" fill="#8a8f60"/>
<polygon points="252.5,408.4 253.7,408.6 253.7,410.6 252.5,410.4" fill="#333333"/>
<polygon points="252.5,411.2 253.7,411.5 253.7,413.5 252.5,413.2" fill="#333333"/>
<polygon points="255.4,394.8 256.6,395.1 256.6,397.1 255.4,396.8" fill="#cdb85e"/>
<polygon points="255.4,397.6 256.6,397.9 256.6,399.9 255.4,399.7" fill="#cdb85e"/>
<polygon points="255.4,400.5 256.6,400.8 256.6,402.8 255.4,402.5" fill="#cdb85e"/>
<polygon points="255.4,403.3 256.6,403.6 256.6,405.6 255.4,405.3" fill="#cdb85e"/>
<polygon points="255.4,406.2 256.6,406.4 256.6,408.4 255.4,408.2" fill="#cdb85e"/>
<polygon points="255.4,409.0 256.6,409.3 256.6,411.3 255.4,411.0" fill="#333333"/>
<polygon points="255.4,411.8 256.6,412.1 256.6,414.1 255.4,413.8" fill="#333333"/>
<polygon points="258.3,395.5 259.5,395.8 259.5,397.8 258.3,397.5" fill="#333333"/>
<polygon points="258.3,398.3 259.5,398.6 259.5,400.6 258.3,400.3" fill="#333333"/>
<polygon points="258.3,401.1 259.5,401.4 259.5,403.4 258.3,403.2" fill="#333333"/>
<polygon points="258.3,404.0 259.5,404.2 259.5,406.2 258.3,406.0" fill="#333333"/>
<polygon points="258.3,406.8 259.5,407.1 259.5,409.1 258.3,408.8" fill="#333333"/>
<polygon points="258.3,409.6 259.5,409.9 259.5,411.9 258.3,411.6" fill="#333333"/>
<polygon points="258.3,412.5 259.5,412.7 259.5,414.7 258.3,414.5" fill="#333333"/>
<polygon points="245.2,382.5 254.9,384.9 254.9,387.2 245.2,384.8" fill="#0c0c0c"/>
<polygon points="245.9,380.4 247.1,380.8 247.1,383.6 245.9,383.3" fill="#1b4fb4"/>
<circle cx="246.5" cy="384.3" r="0.39" fill="#cfcfcf"/>
<polygon points="247.7,380.9 249.0,381.2 249.0,384.1 247.7,383.8" fill="#1b4fb4"/>
<circle cx="248.3" cy="384.7" r="0.39" fill="#cfcfcf"/>
<polygon points="249.6,381.4 250.8,381.7 250.8,384.5 249.6,384.2" fill="#1b4fb4"/>
<circle cx="250.2" cy="385.2" r="0.39" fill="#cfcfcf"/>
<polygon points="251.4,381.8 252.6,382.1 252.6,385.0 251.4,384.7" fill="#1b4fb4"/>
<circle cx="252.0" cy="385.6" r="0.39" fill="#cfcfcf"/>
<polygon points="253.2,382.3 254.4,382.6 254.4,385.4 253.2,385.1" fill="#1b4fb4"/>
<circle cx="253.8" cy="386.1" r="0.39" fill="#cfcfcf"/>
<polygon points="245.7,419.8 260.1,422.8 260.1,425.4 245.7,422.4" fill="#0c0c0c"/>
<polygon points="247.0,422.2 248.2,422.5 248.2,426.1 247.0,425.8" fill="#1b4fb4"/>
<circle cx="247.6" cy="421.4" r="0.39" fill="#cfcfcf"/>
<polygon points="248.9,422.6 250.1,422.9 250.1,426.4 248.9,426.2" fill="#1b4fb4"/>
<circle cx="249.5" cy="421.8" r="0.39" fill="#cfcfcf"/>
<polygon points="250.7,423.0 251.9,423.2 251.9,426.8 250.7,426.5" fill="#1b4fb4"/>
<circle cx="251.3" cy="422.2" r="0.39" fill="#cfcfcf"/>
<polygon points="252.5,423.4 253.7,423.6 253.7,427.2 252.5,426.9" fill="#1b4fb4"/>
<circle cx="253.1" cy="422.5" r="0.39" fill="#cfcfcf"/>
<polygon points="254.3,423.7 255.5,424.0 255.5,427.5 254.3,427.3" fill="#1b4fb4"/>
<circle cx="254.9" cy="422.9" r="0.39" fill="#cfcfcf"/>
<polygon points="256.1,424.1 257.3,424.3 257.3,427.9 256.1,427.6" fill="#1b4fb4"/>
<circle cx="256.7" cy="423.3" r="0.39" fill="#cfcfcf"/>
<polygon points="257.9,424.5 259.1,424.7 259.1,428.2 257.9,428.0" fill="#1b4fb4"/>
<circle cx="258.5" cy="423.6" r="0.39" fill="#cfcfcf"/>
<polyline points="247.5,382.9 247.4,382.0 247.2,380.7 247.0,379.2 246.8,377.6 246.7,376.1 246.6,374.9 246.6,373.9 246.7,373.0 246.8,372.3 246.9,371.6 247.1,370.9 247.2,370.3 247.4,369.7 247.6,369.1 247.8,368.6 248.0,368.2 248.1,367.8 248.2,367.6" fill="none" stroke="#dba21c" stroke-width="1.10" stroke-linecap="round" stroke-linejoin="round"/>
<polyline points="250.6,383.6 250.5,382.9 250.5,381.9 250.4,380.6 250.3,379.4 250.3,378.1 250.3,377.0 250.3,376.0 250.4,375.0 250.6,374.0 250.7,373.1 250.8,372.4 250.9,371.8" fill="none" stroke="#2c3f9e" stroke-width="0.99" stroke-linecap="round" stroke-linejoin="round"/>
<polyline points="252.9,384.2 252.9,383.5 253.0,382.5 253.0,381.3 253.1,380.0 253.1,378.8 253.1,377.7 253.0,376.8 253.0,375.8 252.9,374.9 252.7,374.1 252.6,373.4 252.6,372.9" fill="none" stroke="#2c3f9e" stroke-width="0.99" stroke-linecap="round" stroke-linejoin="round"/>
<polyline points="251.1,426.5 250.7,427.9 250.5,429.3 250.3,430.7 250.3,432.2 250.4,433.7 250.7,435.1 251.0,436.5 251.5,437.9 252.1,439.1 252.7,440.3 253.5,441.3 254.5,442.2 255.5,443.0 256.6,443.5" fill="none" stroke="#c81e2b" stroke-width="1.32" stroke-linecap="round" stroke-linejoin="round"/>
<polyline points="253.6,427.0 253.2,428.1 253.0,429.2 252.8,430.4 252.8,431.5 252.9,432.7 253.0,433.8 253.3,434.8 253.6,435.8 254.0,436.6 254.5,437.4 255.1,438.0 255.7,438.5 256.4,438.8 257.1,438.9" fill="none" stroke="#c81e2b" stroke-width="1.32" stroke-linecap="round" stroke-linejoin="round"/>
<polyline points="256.1,427.5 256.4,428.4 256.5,429.3 256.5,430.2 256.5,431.0 256.3,431.7 256.1,432.3 255.8,432.8 255.5,433.2 255.1,433.4 254.6,433.5 254.2,433.4 253.7,433.2 253.1,432.8 252.6,432.1" fill="none" stroke="#c81e2b" stroke-width="1.21" stroke-linecap="round" stroke-linejoin="round"/>
<polyline points="248.0,425.9 247.7,427.8 247.5,429.6 247.5,431.5 247.7,433.4 248.1,435.2 248.5,437.0 249.2,438.7 250.0,440.3 250.9,441.7 251.9,443.0 253.0,444.1 254.3,444.9 255.6,445.6 257.1,446.0" fill="none" stroke="#0b0d0d" stroke-width="1.21" stroke-linecap="round" stroke-linejoin="round"/>
<polyline points="275.9,366.6 276.4,366.7 277.1,367.0 277.9,367.3 278.8,367.6 279.6,368.0 280.4,368.4 281.0,368.7 281.6,369.1 282.1,369.5 282.7,369.9 283.2,370.5 283.7,371.2 284.3,372.1 284.9,373.2 285.4,374.3 286.0,375.5 286.4,376.8 286.8,378.0 287.1,379.3 287.3,380.6 287.4,382.0 287.5,383.4 287.6,384.8 287.8,386.0 287.9,387.1 288.1,388.2 288.4,389.3 288.6,390.2 288.8,391.2 289.1,392.1 289.5,393.1 289.8,393.9 290.2,394.8 290.6,395.6 291.1,396.4 291.5,397.2 292.0,397.9 292.6,398.7 293.2,399.4 293.7,400.1 294.2,400.7 294.7,401.3 295.0,401.9 295.3,402.4 295.6,402.9 295.8,403.3 296.0,403.7 296.1,403.9" fill="none" stroke="#0b0d0d" stroke-width="1.65" stroke-linecap="round" stroke-linejoin="round"/>
<polyline points="276.1,375.4 276.4,375.7 276.9,376.1 277.4,376.7 277.9,377.2 278.4,377.9 278.7,378.5 279.0,379.2 279.1,379.9 279.2,380.7 279.3,381.5 279.3,382.3 279.2,383.2 279.1,384.2 278.9,385.3 278.7,386.3 278.5,387.5 278.3,388.7 278.1,389.9 277.9,391.1 277.8,392.4 277.7,393.8 277.6,395.2 277.5,396.5 277.4,397.8 277.3,399.0 277.2,400.2 277.1,401.4 277.0,402.6 277.0,403.6 277.0,404.6 277.1,405.4 277.3,406.2 277.5,406.9 277.7,407.4 278.1,407.9 278.5,408.4 278.9,408.7 279.4,409.0 280.0,409.2 280.7,409.4 281.4,409.4 282.2,409.5 283.2,409.4 284.2,409.3 285.4,409.1 286.5,408.9 287.7,408.7 288.8,408.4 289.9,408.2 291.0,407.8 292.1,407.5 293.2,407.1 294.0,406.8 294.7,406.6" fill="none" stroke="#0b0d0d" stroke-width="1.87" stroke-linecap="round" stroke-linejoin="round"/>
<polyline points="298.8,405.5 299.4,405.3 300.3,405.1 301.3,404.9 302.3,404.6 303.3,404.4 304.2,404.2 305.0,404.0 305.8,403.9 306.5,403.8 307.2,403.7 307.9,403.6 308.8,403.6 309.8,403.6 310.9,403.6 312.1,403.6 313.2,403.6 314.2,403.6 314.8,403.6" fill="none" stroke="#0b0d0d" stroke-width="1.98" stroke-linecap="round" stroke-linejoin="round"/>
<polygon points="293.8,404.6 298.6,403.7 299.4,407.3 295.0,408.2" fill="#c9994f"/>
<polygon points="286.4,380.5 290.9,381.7 290.9,389.6 286.4,388.5" fill="#0b0d0d"/>
<circle cx="291.7" cy="383.4" r="1.04" fill="#e8e8e8"/>
<circle cx="291.7" cy="388.4" r="1.04" fill="#e8e8e8"/>
<polygon points="287.2,408.7 291.4,409.6 291.4,418.1 287.2,417.2" fill="#0b0d0d"/>
<circle cx="292.2" cy="411.3" r="1.04" fill="#e8e8e8"/>
<circle cx="292.2" cy="416.8" r="1.04" fill="#e8e8e8"/>
<polygon points="287.7,436.9 291.8,437.7 291.8,446.6 287.7,445.8" fill="#0b0d0d"/>
<circle cx="292.6" cy="439.4" r="1.04" fill="#e8e8e8"/>
<circle cx="292.6" cy="445.3" r="1.04" fill="#e8e8e8"/>
<polygon points="240.1,393.6 242.9,394.3 242.9,403.9 240.1,403.3" fill="#0b0d0d"/>
<circle cx="243.9" cy="396.1" r="1.04" fill="#e8e8e8"/>
<circle cx="243.9" cy="402.6" r="1.04" fill="#e8e8e8"/>
<polygon points="240.3,425.5 242.9,426.1 242.9,438.7 240.3,438.2" fill="#0b0d0d"/>
<circle cx="243.9" cy="427.8" r="1.04" fill="#e8e8e8"/>
<circle cx="243.9" cy="437.3" r="1.04" fill="#e8e8e8"/>
<circle cx="243.7" cy="370.9" r="1.16" fill="#e8e8e8"/>
<circle cx="243.7" cy="378.7" r="1.16" fill="#e8e8e8"/>
<circle cx="285.0" cy="423.0" r="0.88" fill="#222"/>
<circle cx="285.0" cy="397.9" r="0.88" fill="#222"/>
<circle cx="221.7" cy="340.9" r="1.04" fill="#e0e0e0"/>
<circle cx="245.5" cy="347.7" r="1.04" fill="#e0e0e0"/>
<circle cx="267.4" cy="354.0" r="1.04" fill="#e0e0e0"/>
<circle cx="272.3" cy="355.4" r="1.04" fill="#e0e0e0"/>
<circle cx="292.9" cy="361.3" r="1.04" fill="#e0e0e0"/>
<circle cx="313.3" cy="367.1" r="1.04" fill="#e0e0e0"/>
<circle cx="221.7" cy="457.5" r="1.04" fill="#e0e0e0"/>
<circle cx="245.5" cy="461.4" r="1.04" fill="#e0e0e0"/>
<circle cx="267.4" cy="464.9" r="1.04" fill="#e0e0e0"/>
<circle cx="272.3" cy="465.7" r="1.04" fill="#e0e0e0"/>
<circle cx="292.9" cy="469.0" r="1.04" fill="#e0e0e0"/>
<circle cx="313.3" cy="472.3" r="1.04" fill="#e0e0e0"/>
<circle cx="221.2" cy="363.5" r="1.04" fill="#e0e0e0"/>
<circle cx="221.2" cy="370.8" r="1.04" fill="#e0e0e0"/>
<circle cx="221.2" cy="398.4" r="1.04" fill="#e0e0e0"/>
<circle cx="221.2" cy="425.4" r="1.04" fill="#e0e0e0"/>
<circle cx="221.2" cy="432.8" r="1.04" fill="#e0e0e0"/>
<circle cx="312.6" cy="387.9" r="1.04" fill="#e0e0e0"/>
<circle cx="312.6" cy="394.6" r="1.04" fill="#e0e0e0"/>
<circle cx="312.6" cy="418.9" r="1.04" fill="#e0e0e0"/>
<circle cx="312.6" cy="423.3" r="1.04" fill="#e0e0e0"/>
<circle cx="312.6" cy="444.4" r="1.04" fill="#e0e0e0"/>
<circle cx="312.6" cy="451.0" r="1.04" fill="#e0e0e0"/>
<circle cx="226.5" cy="384.6" r="0.94" fill="#e8e8e8"/>
<circle cx="226.5" cy="414.3" r="0.94" fill="#e8e8e8"/>
<circle cx="226.0" cy="453.2" r="0.94" fill="#e8e8e8"/>
<circle cx="310.0" cy="467.2" r="0.94" fill="#e8e8e8"/>
<circle cx="240.3" cy="458.6" r="0.88" fill="#e8e8e8"/>
<circle cx="288.0" cy="466.4" r="0.88" fill="#e8e8e8"/>
<polyline points="268.2,351.9 271.5,356.8" fill="none" stroke="#dedede" stroke-width="0.77" stroke-linecap="round" stroke-linejoin="round"/>
<polyline points="271.5,352.8 268.2,355.8" fill="none" stroke="#dedede" stroke-width="0.77" stroke-linecap="round" stroke-linejoin="round"/>
<polyline points="268.2,463.5 271.5,468.0" fill="none" stroke="#dedede" stroke-width="0.77" stroke-linecap="round" stroke-linejoin="round"/>
<polyline points="271.5,464.0 268.2,467.5" fill="none" stroke="#dedede" stroke-width="0.77" stroke-linecap="round" stroke-linejoin="round"/>
<polyline points="218.2,364.3 221.8,369.4" fill="none" stroke="#dedede" stroke-width="0.77" stroke-linecap="round" stroke-linejoin="round"/>
<polyline points="221.8,365.2 218.2,368.5" fill="none" stroke="#dedede" stroke-width="0.77" stroke-linecap="round" stroke-linejoin="round"/>
<polyline points="218.6,397.5 221.4,401.3" fill="none" stroke="#dedede" stroke-width="0.77" stroke-linecap="round" stroke-linejoin="round"/>
<polyline points="221.4,398.1 218.6,400.7" fill="none" stroke="#dedede" stroke-width="0.77" stroke-linecap="round" stroke-linejoin="round"/>
<polyline points="218.2,426.4 221.8,431.3" fill="none" stroke="#dedede" stroke-width="0.77" stroke-linecap="round" stroke-linejoin="round"/>
<polyline points="221.8,427.1 218.2,430.6" fill="none" stroke="#dedede" stroke-width="0.77" stroke-linecap="round" stroke-linejoin="round"/>
<polyline points="313.2,389.5 316.1,394.0" fill="none" stroke="#dedede" stroke-width="0.77" stroke-linecap="round" stroke-linejoin="round"/>
<polyline points="316.1,390.3 313.2,393.3" fill="none" stroke="#dedede" stroke-width="0.77" stroke-linecap="round" stroke-linejoin="round"/>
<polyline points="313.5,419.9 315.8,423.3" fill="none" stroke="#dedede" stroke-width="0.77" stroke-linecap="round" stroke-linejoin="round"/>
<polyline points="315.8,420.4 313.5,422.8" fill="none" stroke="#dedede" stroke-width="0.77" stroke-linecap="round" stroke-linejoin="round"/>
<polyline points="313.2,445.9 316.1,450.2" fill="none" stroke="#dedede" stroke-width="0.77" stroke-linecap="round" stroke-linejoin="round"/>
<polyline points="316.1,446.5 313.2,449.7" fill="none" stroke="#dedede" stroke-width="0.77" stroke-linecap="round" stroke-linejoin="round"/>
<circle cx="259.1" cy="359.2" r="0.66" fill="#e6f5ec"/>
<circle cx="274.9" cy="364.2" r="0.66" fill="#e6f5ec"/>
<circle cx="259.1" cy="453.8" r="0.66" fill="#e6f5ec"/>
<circle cx="274.9" cy="456.7" r="0.66" fill="#e6f5ec"/>
<polygon points="218.7,460.0 315.7,475.3 315.7,585.0 218.7,584.3" fill="#b9bcbc"/>
<polygon points="219.6,461.0 315.0,476.0 315.0,584.2 219.6,583.4" fill="#0b0d0d"/>
<polygon points="225.6,467.2 311.0,480.1 311.0,580.0 225.6,578.8" fill="#595352"/>
<polygon points="226.5,474.8 239.7,476.6 239.7,505.1 226.5,503.7" fill="#625c5a"/>
<polygon points="226.5,508.0 239.7,509.3 239.7,537.2 226.5,536.3" fill="#625c5a"/>
<polygon points="226.5,542.5 239.7,543.3 239.7,571.1 226.5,570.8" fill="#625c5a"/>
<polygon points="241.5,476.9 258.0,479.2 258.0,505.3 241.5,503.5" fill="#595352"/>
<polygon points="241.5,543.4 258.0,544.3 258.0,571.6 241.5,571.2" fill="#625c5a"/>
<polygon points="276.9,481.9 287.7,483.4 287.7,513.0 276.9,511.9" fill="#78716e"/>
<polygon points="276.9,515.4 287.7,516.4 287.7,542.6 276.9,542.0" fill="#78716e"/>
<polygon points="276.9,546.6 287.7,547.2 287.7,572.3 276.9,572.0" fill="#78716e"/>
<polygon points="289.1,483.6 301.7,485.4 301.7,513.3 289.1,512.0" fill="#78716e"/>
<polygon points="289.1,516.6 301.7,517.8 301.7,543.5 289.1,542.7" fill="#78716e"/>
<polygon points="289.1,547.3 301.7,548.0 301.7,572.6 289.1,572.3" fill="#78716e"/>
<polygon points="226.5,474.8 232.7,475.7 239.7,492.4 239.7,505.1 234.9,504.6" fill="#57504e"/>
<polygon points="226.5,570.8 231.7,555.0 239.7,548.1 239.7,571.1" fill="#5b5452"/>
<polygon points="289.1,512.0 294.6,496.8 301.7,493.2 301.7,513.3" fill="#645c59"/>
<polygon points="276.9,572.0 281.6,557.2 287.7,552.9 287.7,572.3" fill="#6a625f"/>
<polygon points="289.1,572.3 293.7,560.0 301.7,555.8 301.7,572.6" fill="#6a625f"/>
<polygon points="241.5,571.2 245.3,560.4 250.4,571.4" fill="#5b5452"/>
<polyline points="227.4,569.6 238.0,545.6" fill="none" stroke="#4c4644" stroke-width="0.55" stroke-linecap="round" stroke-linejoin="round"/>
<polyline points="242.2,570.0 254.5,548.9" fill="none" stroke="#4c4644" stroke-width="0.55" stroke-linecap="round" stroke-linejoin="round"/>
<polyline points="277.9,540.9 286.3,518.6" fill="none" stroke="#4c4644" stroke-width="0.55" stroke-linecap="round" stroke-linejoin="round"/>
<polyline points="290.0,571.2 300.0,551.3" fill="none" stroke="#4c4644" stroke-width="0.55" stroke-linecap="round" stroke-linejoin="round"/>
<polyline points="290.0,509.9 300.0,488.5" fill="none" stroke="#4c4644" stroke-width="0.55" stroke-linecap="round" stroke-linejoin="round"/>
<polyline points="227.4,502.0 238.0,480.0" fill="none" stroke="#4c4644" stroke-width="0.55" stroke-linecap="round" stroke-linejoin="round"/>
<polygon points="225.6,504.8 311.0,513.7 311.0,515.3 225.6,506.6" fill="#3f3938"/>
<polygon points="225.6,539.7 311.0,545.0 311.0,546.5 225.6,541.5" fill="#3f3938"/>
<polygon points="225.6,523.3 240.1,524.5 240.1,525.7 225.6,524.6" fill="#514a48"/>
<polygon points="276.9,528.1 301.7,530.1 301.7,531.2 276.9,529.3" fill="#5d5553"/>
<polygon points="220.3,465.1 314.4,479.4 314.4,480.7 220.3,466.6" fill="#203234"/>
<polygon points="225.6,467.2 238.3,469.2 236.4,477.2 227.1,475.8" fill="#0b0d0d"/>
<polygon points="240.9,469.6 255.7,471.8 254.0,479.3 242.8,478.0" fill="#0b0d0d"/>
<polygon points="255.7,471.8 258.3,472.2 258.3,475.7 256.3,474.2" fill="#2a2626"/>
<polygon points="276.5,474.9 288.0,476.6 288.0,482.9 278.8,482.7 276.5,479.5" fill="#0b0d0d"/>
<polygon points="288.7,476.7 311.0,480.1 309.7,484.9 292.7,485.3" fill="#0b0d0d"/>
<polygon points="240.0,469.4 240.9,469.6 240.9,579.0 240.0,579.0" fill="#0b0d0d"/>
<polygon points="288.0,476.6 288.7,476.7 288.7,579.7 288.0,579.7" fill="#0b0d0d"/>
<polygon points="220.0,465.2 225.6,466.0 225.6,579.4 220.0,579.3" fill="#0b0d0d"/>
<polygon points="221.0,469.0 223.0,469.3 223.0,502.7 221.0,502.5" fill="#203234"/>
<polygon points="221.0,509.9 223.0,510.1 223.0,537.3 221.0,537.2" fill="#203234"/>
<polygon points="221.0,544.7 223.0,544.8 223.0,576.9 221.0,576.9" fill="#203234"/>
<polygon points="220.0,503.6 225.6,504.2 225.6,509.2 220.0,508.6" fill="#2f3030"/>
<polygon points="220.0,537.8 225.6,538.1 225.6,543.1 220.0,542.7" fill="#3c3a3a"/>
<polygon points="302.3,482.5 309.8,483.6 309.8,496.9 302.3,496.0" fill="#1a1817"/>
<polygon points="302.3,496.0 309.8,496.9 309.8,500.9 302.3,500.0" fill="#2b2423"/>
<polygon points="302.3,505.0 311.8,506.1 311.8,511.6 302.3,510.6" fill="#3b2f2d"/>
<polygon points="302.3,513.4 310.1,514.2 310.1,540.7 302.3,540.2" fill="#201e1e"/>
<polygon points="302.3,541.3 312.0,542.0 312.0,546.9 302.3,546.4" fill="#3b2f2d"/>
<polygon points="302.3,549.7 310.8,550.2 310.8,576.1 302.3,576.0" fill="#2b2929"/>
<polygon points="310.8,480.0 314.8,480.6 314.8,580.6 310.8,580.5" fill="#0d1010"/>
<polygon points="311.8,483.5 313.1,483.7 313.1,578.4 311.8,578.4" fill="#1c2424"/>
<polygon points="220.0,578.5 314.8,579.8 314.8,583.9 220.0,583.1" fill="#0b0d0d"/>
<polygon points="222.6,579.4 225.8,569.9 235.7,569.2 239.1,576.6 244.0,579.2" fill="#0b0d0d"/>
<polygon points="244.5,579.1 245.8,570.8 250.4,570.2 251.7,579.2" fill="#0b0d0d"/>
<polygon points="255.7,579.2 257.8,573.3 275.9,574.3 278.0,579.5" fill="#0b0d0d"/>
<polygon points="279.1,579.6 280.5,570.7 285.1,570.9 287.1,579.7" fill="#0b0d0d"/>
<polygon points="291.6,579.7 293.8,570.8 305.5,571.4 311.0,580.0" fill="#0b0d0d"/>
<polygon points="226.9,572.4 235.1,571.5 237.0,574.7 225.8,575.7" fill="#222a2a"/>
<polygon points="294.6,573.1 304.6,573.4 307.0,576.6 293.7,576.4" fill="#222a2a"/>
<polyline points="220.0,504.5 220.8,504.4 221.9,504.3 223.1,504.2 224.5,504.0 225.8,503.6 227.1,502.9 228.3,501.9 229.5,500.7 230.7,499.3 231.9,497.7 233.1,496.2 234.2,494.8 235.3,493.3 236.4,491.8 237.5,490.3 238.5,488.9 239.6,487.5 240.6,486.3 241.7,485.3 242.6,484.5 243.6,483.7 244.6,483.1 245.8,482.5 247.1,481.9 248.9,481.4 250.9,480.9 253.1,480.5 255.2,480.1 257.0,479.8 258.3,479.6" fill="none" stroke="#0b0d0d" stroke-width="2.54" stroke-linecap="round" stroke-linejoin="round"/>
<polyline points="220.0,507.6 221.1,507.5 222.5,507.4 224.2,507.3 226.0,507.1 227.7,506.7 229.2,506.1 230.5,505.2 231.6,504.0 232.7,502.7 233.7,501.4 234.7,499.9 235.7,498.6 236.7,497.2 237.6,495.8 238.6,494.4 239.5,493.0 240.4,491.7 241.4,490.5 242.3,489.5 243.3,488.7 244.2,487.9 245.2,487.2 246.1,486.6 247.1,486.1 248.2,485.7 249.3,485.4 250.4,485.1 251.5,485.0 252.6,484.9 253.5,484.8 254.5,484.7 255.4,484.7 256.3,484.8 257.1,484.8 257.8,484.9 258.3,484.9" fill="none" stroke="#0b0d0d" stroke-width="2.54" stroke-linecap="round" stroke-linejoin="round"/>
<polyline points="225.2,502.3 225.8,502.2 226.6,502.0 227.6,501.7 228.6,501.3 229.7,500.7 230.6,499.9 231.5,498.6 232.4,497.1 233.2,495.3 234.1,493.5 235.0,491.7 235.9,490.1 236.9,488.6 237.9,487.0 238.9,485.5 239.9,484.0 241.0,482.8 242.2,481.8 243.5,481.1 245.1,480.7 246.7,480.4 248.2,480.2 249.5,480.1 250.4,479.9" fill="none" stroke="#0b0d0d" stroke-width="1.66" stroke-linecap="round" stroke-linejoin="round"/>
<polygon points="258.3,475.2 276.5,477.9 276.5,574.1 258.3,573.7" fill="#2d9c5f"/>
<polygon points="258.3,475.2 276.5,477.9 276.5,491.1 258.3,488.7" fill="#4ba675"/>
<polygon points="258.3,488.7 276.5,491.1 276.5,503.8 258.3,501.7" fill="#47a672"/>
<polygon points="258.3,501.7 276.5,503.8 276.5,513.0 258.3,511.2" fill="#62b48a"/>
<polygon points="258.3,511.2 276.5,513.0 276.5,521.1 258.3,519.5" fill="#6ab990"/>
<polygon points="258.3,519.5 276.5,521.1 276.5,531.5 258.3,530.1" fill="#48a876"/>
<polygon points="258.3,530.1 276.5,531.5 276.5,547.7 258.3,546.7" fill="#2a9c60"/>
<polygon points="258.3,546.7 276.5,547.7 276.5,561.6 258.3,560.9" fill="#239a52"/>
<polygon points="258.3,560.9 276.5,561.6 276.5,574.1 258.3,573.7" fill="#1a964c"/>
<polygon points="261.2,489.5 275.3,491.3 275.3,502.7 261.2,501.1" fill="#0a0a0a"/>
<circle cx="264.4" cy="492.1" r="1.11" fill="#f4f4f4"/>
<circle cx="273.2" cy="493.2" r="1.11" fill="#f4f4f4"/>
<circle cx="264.4" cy="499.3" r="1.11" fill="#f4f4f4"/>
<circle cx="273.2" cy="500.3" r="1.11" fill="#f4f4f4"/>
<polyline points="266.0,493.2 271.6,499.3" fill="none" stroke="#c4c4c4" stroke-width="1.00" stroke-linecap="round" stroke-linejoin="round"/>
<polyline points="271.6,493.9 266.0,498.6" fill="none" stroke="#c4c4c4" stroke-width="1.00" stroke-linecap="round" stroke-linejoin="round"/>
<polyline points="268.8,492.8 268.8,499.6" fill="none" stroke="#b0b0b0" stroke-width="0.89" stroke-linecap="round" stroke-linejoin="round"/>
<polyline points="266.0,495.9 271.6,496.6" fill="none" stroke="#9a9a9a" stroke-width="0.66" stroke-linecap="round" stroke-linejoin="round"/>
<polygon points="263.2,519.9 272.6,520.8 272.6,530.3 263.2,529.6" fill="#0a0a0a"/>
<circle cx="265.8" cy="521.9" r="0.94" fill="#f4f4f4"/>
<circle cx="271.1" cy="522.4" r="0.94" fill="#f4f4f4"/>
<circle cx="265.8" cy="528.0" r="0.94" fill="#f4f4f4"/>
<circle cx="271.1" cy="528.5" r="0.94" fill="#f4f4f4"/>
<polyline points="266.3,523.0 270.6,527.4" fill="none" stroke="#c4c4c4" stroke-width="1.00" stroke-linecap="round" stroke-linejoin="round"/>
<polyline points="270.6,523.3 266.3,527.1" fill="none" stroke="#c4c4c4" stroke-width="1.00" stroke-linecap="round" stroke-linejoin="round"/>
<polyline points="268.4,522.6 268.4,527.8" fill="none" stroke="#b0b0b0" stroke-width="0.89" stroke-linecap="round" stroke-linejoin="round"/>
<polyline points="266.3,525.0 270.6,525.4" fill="none" stroke="#9a9a9a" stroke-width="0.66" stroke-linecap="round" stroke-linejoin="round"/>
<polygon points="261.2,547.6 275.6,548.4 275.6,561.1 261.2,560.6" fill="#0a0a0a"/>
<circle cx="264.4" cy="550.0" r="1.11" fill="#f4f4f4"/>
<circle cx="273.5" cy="550.5" r="1.11" fill="#f4f4f4"/>
<circle cx="264.4" cy="558.4" r="1.11" fill="#f4f4f4"/>
<circle cx="273.5" cy="558.8" r="1.11" fill="#f4f4f4"/>
<polyline points="266.1,551.6 271.8,557.3" fill="none" stroke="#c4c4c4" stroke-width="1.00" stroke-linecap="round" stroke-linejoin="round"/>
<polyline points="271.8,551.9 266.1,557.0" fill="none" stroke="#c4c4c4" stroke-width="1.00" stroke-linecap="round" stroke-linejoin="round"/>
<polyline points="269.0,551.0 269.0,557.8" fill="none" stroke="#b0b0b0" stroke-width="0.89" stroke-linecap="round" stroke-linejoin="round"/>
<polyline points="266.1,554.3 271.8,554.6" fill="none" stroke="#9a9a9a" stroke-width="0.66" stroke-linecap="round" stroke-linejoin="round"/>
<polygon points="259.1,489.8 260.6,490.0 260.6,500.5 259.1,500.3" fill="#174c30"/>
<polygon points="259.1,547.9 260.6,548.0 260.6,559.8 259.1,559.8" fill="#174c30"/>
<polygon points="261.9,490.4 262.9,490.5 262.9,500.5 261.9,500.4" fill="#8a8f8c"/>
<polygon points="261.9,548.4 262.9,548.5 262.9,559.9 261.9,559.9" fill="#8a8f8c"/>
<polygon points="263.9,531.2 272.2,531.8 272.2,534.5 263.9,533.9" fill="#a8dcc0"/>
<circle cx="265.4" cy="532.6" r="0.77" fill="#eef"/>
<circle cx="268.3" cy="532.8" r="0.77" fill="#eef"/>
<circle cx="271.2" cy="533.0" r="0.77" fill="#eef"/>
<polygon points="242.0,502.3 244.3,502.6 244.3,542.3 242.0,542.2" fill="#0d0d0d"/>
<polygon points="244.1,504.1 261.2,506.0 261.2,541.0 244.1,539.9" fill="#e6e6e3"/>
<polygon points="244.1,504.1 261.2,506.0 261.2,512.5 244.1,510.7" fill="#cfcfcc"/>
<polygon points="245.8,506.6 259.4,508.0 259.4,509.2 245.8,507.8" fill="#9a9a98"/>
<polygon points="244.1,533.3 261.2,534.5 261.2,541.0 244.1,539.9" fill="#c2c2c0"/>
<polygon points="244.1,504.1 245.2,504.2 245.2,540.0 244.1,539.9" fill="#a9a9a7"/>
<polygon points="246.9,512.4 248.2,512.5 248.2,514.6 246.9,514.5" fill="#333333"/>
<polygon points="246.9,515.3 248.2,515.4 248.2,517.4 246.9,517.3" fill="#333333"/>
<polygon points="246.9,518.2 248.2,518.3 248.2,520.3 246.9,520.2" fill="#333333"/>
<polygon points="246.9,521.1 248.2,521.2 248.2,523.2 246.9,523.1" fill="#333333"/>
<polygon points="246.9,523.9 248.2,524.0 248.2,526.1 246.9,526.0" fill="#333333"/>
<polygon points="246.9,526.8 248.2,526.9 248.2,529.0 246.9,528.9" fill="#333333"/>
<polygon points="246.9,529.7 248.2,529.8 248.2,531.8 246.9,531.7" fill="#333333"/>
<polygon points="249.9,512.7 251.1,512.8 251.1,514.9 249.9,514.7" fill="#333333"/>
<polygon points="249.9,515.6 251.1,515.7 251.1,517.7 249.9,517.6" fill="#333333"/>
<polygon points="249.9,518.4 251.1,518.6 251.1,520.6 249.9,520.5" fill="#333333"/>
<polygon points="249.9,521.3 251.1,521.4 251.1,523.5 249.9,523.3" fill="#333333"/>
<polygon points="249.9,524.2 251.1,524.3 251.1,526.3 249.9,526.2" fill="#333333"/>
<polygon points="249.9,527.1 251.1,527.2 251.1,529.2 249.9,529.1" fill="#333333"/>
<polygon points="249.9,529.9 251.1,530.0 251.1,532.0 249.9,532.0" fill="#333333"/>
<polygon points="252.8,513.0 254.0,513.1 254.0,515.1 252.8,515.0" fill="#333333"/>
<polygon points="252.8,515.8 254.0,516.0 254.0,518.0 252.8,517.9" fill="#333333"/>
<polygon points="252.8,518.7 254.0,518.8 254.0,520.8 252.8,520.7" fill="#8a8f60"/>
<polygon points="252.8,521.6 254.0,521.7 254.0,523.7 252.8,523.6" fill="#8a8f60"/>
<polygon points="252.8,524.4 254.0,524.5 254.0,526.6 252.8,526.5" fill="#8a8f60"/>
<polygon points="252.8,527.3 254.0,527.4 254.0,529.4 252.8,529.3" fill="#333333"/>
<polygon points="252.8,530.1 254.0,530.2 254.0,532.3 252.8,532.2" fill="#333333"/>
<polygon points="255.8,513.3 257.0,513.4 257.0,515.4 255.8,515.3" fill="#cdb85e"/>
<polygon points="255.8,516.1 257.0,516.2 257.0,518.3 255.8,518.1" fill="#cdb85e"/>
<polygon points="255.8,519.0 257.0,519.1 257.0,521.1 255.8,521.0" fill="#cdb85e"/>
<polygon points="255.8,521.8 257.0,521.9 257.0,523.9 255.8,523.8" fill="#cdb85e"/>
<polygon points="255.8,524.7 257.0,524.8 257.0,526.8 255.8,526.7" fill="#cdb85e"/>
<polygon points="255.8,527.5 257.0,527.6 257.0,529.6 255.8,529.5" fill="#333333"/>
<polygon points="255.8,530.4 257.0,530.5 257.0,532.5 255.8,532.4" fill="#333333"/>
<polygon points="258.7,513.6 259.8,513.7 259.8,515.7 258.7,515.6" fill="#333333"/>
<polygon points="258.7,516.4 259.8,516.5 259.8,518.5 258.7,518.4" fill="#333333"/>
<polygon points="258.7,519.2 259.8,519.3 259.8,521.4 258.7,521.2" fill="#333333"/>
<polygon points="258.7,522.1 259.8,522.2 259.8,524.2 258.7,524.1" fill="#333333"/>
<polygon points="258.7,524.9 259.8,525.0 259.8,527.0 258.7,526.9" fill="#333333"/>
<polygon points="258.7,527.8 259.8,527.8 259.8,529.9 258.7,529.8" fill="#333333"/>
<polygon points="258.7,530.6 259.8,530.7 259.8,532.7 258.7,532.6" fill="#333333"/>
<polygon points="245.5,502.4 255.3,503.4 255.3,505.7 245.5,504.6" fill="#0c0c0c"/>
<polygon points="246.2,500.1 247.4,500.3 247.4,503.2 246.2,503.0" fill="#1b4fb4"/>
<circle cx="246.8" cy="503.9" r="0.39" fill="#cfcfcf"/>
<polygon points="248.1,500.4 249.3,500.5 249.3,503.4 248.1,503.2" fill="#1b4fb4"/>
<circle cx="248.7" cy="504.1" r="0.39" fill="#cfcfcf"/>
<polygon points="249.9,500.6 251.1,500.7 251.1,503.6 249.9,503.4" fill="#1b4fb4"/>
<circle cx="250.5" cy="504.3" r="0.39" fill="#cfcfcf"/>
<polygon points="251.7,500.8 252.9,500.9 252.9,503.8 251.7,503.6" fill="#1b4fb4"/>
<circle cx="252.3" cy="504.5" r="0.39" fill="#cfcfcf"/>
<polygon points="253.5,501.0 254.8,501.1 254.8,504.0 253.5,503.8" fill="#1b4fb4"/>
<circle cx="254.1" cy="504.7" r="0.39" fill="#cfcfcf"/>
<polygon points="246.0,539.8 260.4,540.7 260.4,543.3 246.0,542.4" fill="#0c0c0c"/>
<polygon points="247.3,542.0 248.6,542.1 248.6,545.7 247.3,545.6" fill="#1b4fb4"/>
<circle cx="248.0" cy="541.1" r="0.39" fill="#cfcfcf"/>
<polygon points="249.2,542.1 250.4,542.2 250.4,545.8 249.2,545.7" fill="#1b4fb4"/>
<circle cx="249.8" cy="541.2" r="0.39" fill="#cfcfcf"/>
<polygon points="251.0,542.3 252.2,542.3 252.2,545.9 251.0,545.8" fill="#1b4fb4"/>
<circle cx="251.6" cy="541.3" r="0.39" fill="#cfcfcf"/>
<polygon points="252.8,542.4 254.0,542.4 254.0,546.0 252.8,545.9" fill="#1b4fb4"/>
<circle cx="253.4" cy="541.4" r="0.39" fill="#cfcfcf"/>
<polygon points="254.7,542.5 255.9,542.5 255.9,546.1 254.7,546.0" fill="#1b4fb4"/>
<circle cx="255.3" cy="541.6" r="0.39" fill="#cfcfcf"/>
<polygon points="256.5,542.6 257.7,542.7 257.7,546.2 256.5,546.1" fill="#1b4fb4"/>
<circle cx="257.1" cy="541.7" r="0.39" fill="#cfcfcf"/>
<polygon points="258.3,542.7 259.4,542.8 259.4,546.3 258.3,546.2" fill="#1b4fb4"/>
<circle cx="258.9" cy="541.8" r="0.39" fill="#cfcfcf"/>
<polyline points="247.9,502.4 247.7,501.5 247.6,500.2 247.4,498.7 247.2,497.2 247.0,495.7 246.9,494.5 246.9,493.5 247.0,492.6 247.1,491.8 247.3,491.1 247.4,490.4 247.6,489.7 247.7,489.1 247.9,488.5 248.1,488.0 248.3,487.5 248.5,487.2 248.6,486.9" fill="none" stroke="#dba21c" stroke-width="1.11" stroke-linecap="round" stroke-linejoin="round"/>
<polyline points="250.9,502.7 250.9,502.0 250.8,500.9 250.7,499.7 250.7,498.5 250.6,497.2 250.6,496.1 250.7,495.1 250.8,494.0 250.9,493.0 251.0,492.1 251.1,491.4 251.2,490.8" fill="none" stroke="#2c3f9e" stroke-width="1.00" stroke-linecap="round" stroke-linejoin="round"/>
<polyline points="253.2,503.0 253.3,502.2 253.3,501.2 253.4,500.0 253.4,498.7 253.4,497.5 253.4,496.4 253.4,495.5 253.3,494.5 253.2,493.6 253.1,492.8 253.0,492.1 252.9,491.6" fill="none" stroke="#2c3f9e" stroke-width="1.00" stroke-linecap="round" stroke-linejoin="round"/>
<polyline points="251.4,545.7 251.0,547.2 250.8,548.6 250.7,550.1 250.7,551.6 250.8,553.0 251.0,554.4 251.4,555.8 251.8,557.1 252.4,558.3 253.1,559.4 253.9,560.3 254.8,561.1 255.8,561.7 257.0,562.1" fill="none" stroke="#c81e2b" stroke-width="1.33" stroke-linecap="round" stroke-linejoin="round"/>
<polyline points="253.9,545.9 253.6,547.0 253.3,548.2 253.2,549.4 253.1,550.5 253.2,551.7 253.4,552.7 253.6,553.7 254.0,554.7 254.4,555.5 254.9,556.2 255.4,556.7 256.1,557.1 256.7,557.3 257.5,557.3" fill="none" stroke="#c81e2b" stroke-width="1.33" stroke-linecap="round" stroke-linejoin="round"/>
<polyline points="256.5,546.0 256.7,546.9 256.9,547.8 256.9,548.6 256.9,549.4 256.7,550.2 256.5,550.8 256.2,551.3 255.9,551.8 255.5,552.1 255.0,552.3 254.5,552.3 254.0,552.1 253.5,551.7 252.9,551.2" fill="none" stroke="#c81e2b" stroke-width="1.22" stroke-linecap="round" stroke-linejoin="round"/>
<polyline points="248.4,545.6 248.0,547.5 247.9,549.4 247.9,551.3 248.0,553.2 248.4,555.0 248.9,556.7 249.5,558.3 250.3,559.7 251.2,561.0 252.2,562.2 253.4,563.1 254.6,563.8 256.0,564.3 257.5,564.4" fill="none" stroke="#0b0d0d" stroke-width="1.22" stroke-linecap="round" stroke-linejoin="round"/>
<polyline points="276.3,482.1 276.8,482.3 277.5,482.4 278.3,482.6 279.1,482.8 280.0,483.1 280.7,483.3 281.3,483.6 281.9,483.9 282.5,484.2 283.0,484.6 283.5,485.1 284.1,485.8 284.6,486.6 285.2,487.5 285.8,488.6 286.3,489.7 286.8,490.9 287.1,492.1 287.4,493.4 287.6,494.7 287.7,496.1 287.8,497.4 287.9,498.8 288.1,500.0 288.3,501.1 288.5,502.2 288.7,503.2 288.9,504.1 289.2,505.0 289.4,505.9 289.8,506.8 290.1,507.6 290.5,508.4 290.9,509.2 291.4,509.9 291.8,510.6 292.3,511.3 292.9,512.0 293.4,512.6 294.0,513.2 294.5,513.8 294.9,514.3 295.3,514.8 295.6,515.3 295.8,515.8 296.1,516.2 296.2,516.5 296.4,516.7" fill="none" stroke="#0b0d0d" stroke-width="1.66" stroke-linecap="round" stroke-linejoin="round"/>
<polyline points="276.5,491.0 276.8,491.2 277.2,491.6 277.8,492.1 278.3,492.6 278.8,493.1 279.1,493.7 279.3,494.4 279.5,495.1 279.6,495.8 279.6,496.6 279.6,497.5 279.6,498.4 279.5,499.4 279.3,500.4 279.1,501.6 278.9,502.7 278.6,503.9 278.4,505.2 278.3,506.4 278.2,507.8 278.1,509.2 278.0,510.5 277.9,511.9 277.8,513.2 277.7,514.4 277.6,515.7 277.5,516.9 277.4,518.1 277.4,519.1 277.4,520.1 277.5,520.9 277.7,521.6 277.9,522.3 278.1,522.8 278.4,523.3 278.8,523.7 279.3,523.9 279.8,524.2 280.4,524.3 281.0,524.3 281.8,524.3 282.6,524.2 283.5,524.0 284.6,523.8 285.7,523.4 286.9,523.1 288.0,522.7 289.1,522.3 290.2,521.8 291.3,521.3 292.4,520.8 293.4,520.3 294.3,519.9 294.9,519.6" fill="none" stroke="#0b0d0d" stroke-width="1.88" stroke-linecap="round" stroke-linejoin="round"/>
<polyline points="299.1,517.9 299.7,517.7 300.5,517.3 301.5,516.9 302.5,516.5 303.5,516.2 304.4,515.8 305.2,515.6 305.9,515.4 306.6,515.2 307.3,515.0 308.0,514.8 308.9,514.6 309.9,514.5 311.0,514.3 312.1,514.2 313.2,514.0 314.2,513.9 314.8,513.8" fill="none" stroke="#0b0d0d" stroke-width="1.99" stroke-linecap="round" stroke-linejoin="round"/>
<polygon points="294.1,517.8 298.8,516.2 299.6,519.6 295.3,521.1" fill="#c9994f"/>
<polygon points="286.8,494.7 291.2,495.2 291.2,503.2 286.8,502.7" fill="#0b0d0d"/>
<circle cx="292.0" cy="496.8" r="1.05" fill="#e8e8e8"/>
<circle cx="292.0" cy="501.8" r="1.05" fill="#e8e8e8"/>
<polygon points="287.5,522.7 291.6,523.1 291.6,531.6 287.5,531.2" fill="#0b0d0d"/>
<circle cx="292.5" cy="524.6" r="1.05" fill="#e8e8e8"/>
<circle cx="292.5" cy="530.2" r="1.05" fill="#e8e8e8"/>
<polygon points="288.0,550.9 292.1,551.1 292.1,559.9 288.0,559.7" fill="#0b0d0d"/>
<circle cx="292.9" cy="552.6" r="1.05" fill="#e8e8e8"/>
<circle cx="292.9" cy="558.5" r="1.05" fill="#e8e8e8"/>
<polygon points="240.3,514.2 243.2,514.5 243.2,524.2 240.3,523.9" fill="#0b0d0d"/>
<circle cx="244.2" cy="516.2" r="1.05" fill="#e8e8e8"/>
<circle cx="244.2" cy="522.7" r="1.05" fill="#e8e8e8"/>
<polygon points="240.5,546.3 243.2,546.5 243.2,559.1 240.5,559.0" fill="#0b0d0d"/>
<circle cx="244.2" cy="548.1" r="1.05" fill="#e8e8e8"/>
<circle cx="244.2" cy="557.6" r="1.05" fill="#e8e8e8"/>
<circle cx="244.0" cy="490.9" r="1.16" fill="#e8e8e8"/>
<circle cx="244.0" cy="498.7" r="1.16" fill="#e8e8e8"/>
<circle cx="285.4" cy="537.4" r="0.89" fill="#222"/>
<circle cx="285.4" cy="512.2" r="0.89" fill="#222"/>
<circle cx="221.8" cy="463.6" r="1.05" fill="#e0e0e0"/>
<circle cx="245.8" cy="467.3" r="1.05" fill="#e0e0e0"/>
<circle cx="267.8" cy="470.7" r="1.05" fill="#e0e0e0"/>
<circle cx="272.6" cy="471.4" r="1.05" fill="#e0e0e0"/>
<circle cx="293.2" cy="474.6" r="1.05" fill="#e0e0e0"/>
<circle cx="313.4" cy="477.7" r="1.05" fill="#e0e0e0"/>
<circle cx="221.8" cy="581.4" r="1.05" fill="#e0e0e0"/>
<circle cx="245.8" cy="581.6" r="1.05" fill="#e0e0e0"/>
<circle cx="267.8" cy="581.8" r="1.05" fill="#e0e0e0"/>
<circle cx="272.6" cy="581.9" r="1.05" fill="#e0e0e0"/>
<circle cx="293.2" cy="582.1" r="1.05" fill="#e0e0e0"/>
<circle cx="313.4" cy="582.3" r="1.05" fill="#e0e0e0"/>
<circle cx="221.2" cy="486.4" r="1.05" fill="#e0e0e0"/>
<circle cx="221.2" cy="493.9" r="1.05" fill="#e0e0e0"/>
<circle cx="221.2" cy="521.7" r="1.05" fill="#e0e0e0"/>
<circle cx="221.2" cy="549.0" r="1.05" fill="#e0e0e0"/>
<circle cx="221.2" cy="556.4" r="1.05" fill="#e0e0e0"/>
<circle cx="312.7" cy="498.5" r="1.05" fill="#e0e0e0"/>
<circle cx="312.7" cy="505.1" r="1.05" fill="#e0e0e0"/>
<circle cx="312.7" cy="529.4" r="1.05" fill="#e0e0e0"/>
<circle cx="312.7" cy="533.8" r="1.05" fill="#e0e0e0"/>
<circle cx="312.7" cy="554.7" r="1.05" fill="#e0e0e0"/>
<circle cx="312.7" cy="561.3" r="1.05" fill="#e0e0e0"/>
<circle cx="226.6" cy="507.0" r="0.94" fill="#e8e8e8"/>
<circle cx="226.6" cy="537.0" r="0.94" fill="#e8e8e8"/>
<circle cx="226.1" cy="576.3" r="0.94" fill="#e8e8e8"/>
<circle cx="310.1" cy="577.8" r="0.94" fill="#e8e8e8"/>
<circle cx="240.5" cy="579.6" r="0.89" fill="#e8e8e8"/>
<circle cx="288.3" cy="580.2" r="0.89" fill="#e8e8e8"/>
<polyline points="268.6,468.5 271.9,472.9" fill="none" stroke="#dedede" stroke-width="0.77" stroke-linecap="round" stroke-linejoin="round"/>
<polyline points="271.9,469.0 268.6,472.4" fill="none" stroke="#dedede" stroke-width="0.77" stroke-linecap="round" stroke-linejoin="round"/>
<polyline points="268.6,580.3 271.9,584.3" fill="none" stroke="#dedede" stroke-width="0.77" stroke-linecap="round" stroke-linejoin="round"/>
<polyline points="271.9,580.4 268.6,584.3" fill="none" stroke="#dedede" stroke-width="0.77" stroke-linecap="round" stroke-linejoin="round"/>
<polyline points="218.2,487.7 221.9,492.3" fill="none" stroke="#dedede" stroke-width="0.77" stroke-linecap="round" stroke-linejoin="round"/>
<polyline points="221.9,488.1 218.2,491.9" fill="none" stroke="#dedede" stroke-width="0.77" stroke-linecap="round" stroke-linejoin="round"/>
<polyline points="218.6,521.1 221.4,524.6" fill="none" stroke="#dedede" stroke-width="0.77" stroke-linecap="round" stroke-linejoin="round"/>
<polyline points="221.4,521.4 218.6,524.4" fill="none" stroke="#dedede" stroke-width="0.77" stroke-linecap="round" stroke-linejoin="round"/>
<polyline points="218.2,550.5 221.9,554.9" fill="none" stroke="#dedede" stroke-width="0.77" stroke-linecap="round" stroke-linejoin="round"/>
<polyline points="221.9,550.6 218.2,554.7" fill="none" stroke="#dedede" stroke-width="0.77" stroke-linecap="round" stroke-linejoin="round"/>
<polyline points="313.2,500.0 316.1,504.1" fill="none" stroke="#dedede" stroke-width="0.77" stroke-linecap="round" stroke-linejoin="round"/>
<polyline points="316.1,500.4 313.2,503.7" fill="none" stroke="#dedede" stroke-width="0.77" stroke-linecap="round" stroke-linejoin="round"/>
<polyline points="313.6,530.2 315.8,533.2" fill="none" stroke="#dedede" stroke-width="0.77" stroke-linecap="round" stroke-linejoin="round"/>
<polyline points="315.8,530.4 313.6,533.1" fill="none" stroke="#dedede" stroke-width="0.77" stroke-linecap="round" stroke-linejoin="round"/>
<polyline points="313.2,556.1 316.1,560.0" fill="none" stroke="#dedede" stroke-width="0.77" stroke-linecap="round" stroke-linejoin="round"/>
<polyline points="316.1,556.3 313.2,559.9" fill="none" stroke="#dedede" stroke-width="0.77" stroke-linecap="round" stroke-linejoin="round"/>
<circle cx="259.4" cy="477.1" r="0.66" fill="#e6f5ec"/>
<circle cx="275.3" cy="479.9" r="0.66" fill="#e6f5ec"/>
<circle cx="259.4" cy="572.0" r="0.66" fill="#e6f5ec"/>
<circle cx="275.3" cy="572.6" r="0.66" fill="#e6f5ec"/>
<polygon points="218.7,584.3 315.7,585.0 315.7,697.5 218.7,708.4" fill="#b9bcbc"/>
<polygon points="219.6,585.2 315.0,585.8 315.0,696.8 219.6,707.4" fill="#0b0d0d"/>
<polygon points="225.4,590.5 310.8,590.6 310.8,693.0 225.4,702.1" fill="#595352"/>
<polygon points="226.3,597.9 239.3,597.8 239.3,626.4 226.3,626.9" fill="#625c5a"/>
<polygon points="226.3,631.2 239.3,630.7 239.3,658.6 226.3,659.5" fill="#625c5a"/>
<polygon points="226.3,665.7 239.3,664.7 239.3,692.7 226.3,694.0" fill="#625c5a"/>
<polygon points="241.0,597.8 257.3,597.7 257.3,624.0 241.0,624.5" fill="#595352"/>
<polygon points="241.0,664.6 257.3,663.4 257.3,690.9 241.0,692.5" fill="#625c5a"/>
<polygon points="276.3,597.6 287.2,597.5 287.2,627.7 276.3,628.1" fill="#78716e"/>
<polygon points="276.3,631.6 287.2,631.2 287.2,657.8 276.3,658.6" fill="#78716e"/>
<polygon points="276.3,663.2 287.2,662.5 287.2,688.0 276.3,689.0" fill="#78716e"/>
<polygon points="288.6,597.5 301.4,597.5 301.4,626.0 288.6,626.5" fill="#78716e"/>
<polygon points="288.6,631.1 301.4,630.6 301.4,656.8 288.6,657.7" fill="#78716e"/>
<polygon points="288.6,662.4 301.4,661.4 301.4,686.5 288.6,687.8" fill="#78716e"/>
<polygon points="226.3,597.9 232.4,597.9 239.3,613.6 239.3,626.4 234.5,626.6" fill="#57504e"/>
<polygon points="226.3,694.0 231.4,677.6 239.3,669.6 239.3,692.7" fill="#5b5452"/>
<polygon points="288.6,626.5 294.1,610.2 301.4,605.5 301.4,626.0" fill="#645c59"/>
<polygon points="276.3,689.0 281.1,673.4 287.2,668.3 287.2,688.0" fill="#6a625f"/>
<polygon points="288.6,687.8 293.2,674.7 301.4,669.4 301.4,686.5" fill="#6a625f"/>
<polygon points="241.0,692.5 244.8,681.3 249.8,691.7" fill="#5b5452"/>
<polyline points="227.2,692.7 237.6,667.3" fill="none" stroke="#4c4644" stroke-width="0.55" stroke-linecap="round" stroke-linejoin="round"/>
<polyline points="241.7,691.3 253.8,668.5" fill="none" stroke="#4c4644" stroke-width="0.55" stroke-linecap="round" stroke-linejoin="round"/>
<polyline points="277.3,657.3 285.8,633.5" fill="none" stroke="#4c4644" stroke-width="0.55" stroke-linecap="round" stroke-linejoin="round"/>
<polyline points="289.5,686.6 299.6,665.0" fill="none" stroke="#4c4644" stroke-width="0.55" stroke-linecap="round" stroke-linejoin="round"/>
<polyline points="289.5,624.1 299.6,600.9" fill="none" stroke="#4c4644" stroke-width="0.55" stroke-linecap="round" stroke-linejoin="round"/>
<polyline points="227.2,625.0 237.6,601.5" fill="none" stroke="#4c4644" stroke-width="0.55" stroke-linecap="round" stroke-linejoin="round"/>
<polygon points="225.4,628.1 310.8,625.1 310.8,626.7 225.4,629.8" fill="#3f3938"/>
<polygon points="225.4,663.0 310.8,657.1 310.8,658.7 225.4,664.7" fill="#3f3938"/>
<polygon points="225.4,646.6 239.7,645.9 239.7,647.1 225.4,647.8" fill="#514a48"/>
<polygon points="276.3,644.5 301.4,643.1 301.4,644.3 276.3,645.7" fill="#5d5553"/>
<polygon points="220.3,589.1 314.4,589.4 314.4,590.7 220.3,590.6" fill="#203234"/>
<polygon points="225.4,590.5 237.9,590.5 236.1,598.8 226.9,598.9" fill="#0b0d0d"/>
<polygon points="240.5,590.5 255.0,590.5 253.4,598.3 242.3,598.8" fill="#0b0d0d"/>
<polygon points="255.0,590.5 257.6,590.6 257.6,594.1 255.6,592.9" fill="#2a2626"/>
<polygon points="275.8,590.6 287.4,590.6 287.4,597.0 278.2,598.2 275.8,595.3" fill="#0b0d0d"/>
<polygon points="288.2,590.6 310.8,590.6 309.5,595.7 292.3,598.7" fill="#0b0d0d"/>
<polygon points="239.6,590.5 240.5,590.5 240.5,700.5 239.6,700.6" fill="#0b0d0d"/>
<polygon points="287.4,590.6 288.2,590.6 288.2,695.4 287.4,695.5" fill="#0b0d0d"/>
<polygon points="220.0,589.3 225.4,589.3 225.4,702.7 220.0,703.3" fill="#0b0d0d"/>
<polygon points="220.9,593.0 222.9,593.0 222.9,626.4 220.9,626.4" fill="#203234"/>
<polygon points="220.9,633.8 222.9,633.8 222.9,661.0 220.9,661.1" fill="#203234"/>
<polygon points="220.9,668.5 222.9,668.4 222.9,700.5 220.9,700.7" fill="#203234"/>
<polygon points="220.0,627.7 225.4,627.5 225.4,632.4 220.0,632.6" fill="#2f3030"/>
<polygon points="220.0,661.8 225.4,661.4 225.4,666.3 220.0,666.7" fill="#3c3a3a"/>
<polygon points="302.0,594.4 309.7,594.4 309.7,608.1 302.0,608.2" fill="#1a1817"/>
<polygon points="302.0,608.2 309.7,608.1 309.7,612.1 302.0,612.3" fill="#2b2423"/>
<polygon points="302.0,617.4 311.7,617.2 311.7,622.8 302.0,623.1" fill="#3b2f2d"/>
<polygon points="302.0,626.0 309.9,625.7 309.9,652.9 302.0,653.4" fill="#201e1e"/>
<polygon points="302.0,654.5 311.9,653.9 311.9,659.0 302.0,659.7" fill="#3b2f2d"/>
<polygon points="302.0,663.1 310.7,662.4 310.7,689.0 302.0,689.9" fill="#2b2929"/>
<polygon points="310.7,590.6 314.7,590.6 314.7,693.1 310.7,693.5" fill="#0d1010"/>
<polygon points="311.7,594.0 313.1,594.0 313.1,691.0 311.7,691.2" fill="#1c2424"/>
<polygon points="220.0,702.4 314.7,692.3 314.7,696.5 220.0,707.0" fill="#0b0d0d"/>
<polygon points="222.5,703.0 225.6,693.2 235.3,691.3 238.6,698.2 243.5,700.3" fill="#0b0d0d"/>
<polygon points="244.0,700.1 245.3,691.6 249.8,690.5 251.1,699.3" fill="#0b0d0d"/>
<polygon points="255.0,698.9 257.1,692.7 275.3,691.5 277.4,696.5" fill="#0b0d0d"/>
<polygon points="278.5,696.4 279.9,687.3 284.5,686.9 286.6,695.6" fill="#0b0d0d"/>
<polygon points="291.2,695.1 293.4,685.7 305.2,684.8 310.8,693.0" fill="#0b0d0d"/>
<polygon points="226.7,695.6 234.7,693.6 236.6,696.6 225.6,699.0" fill="#222a2a"/>
<polygon points="294.1,688.0 304.3,687.1 306.8,690.0 293.2,691.4" fill="#222a2a"/>
<polyline points="220.0,628.6 220.7,628.4 221.8,628.1 223.0,627.8 224.3,627.4 225.6,626.8 226.9,626.0 228.0,624.8 229.2,623.4 230.4,621.8 231.6,620.1 232.8,618.4 233.9,616.8 235.0,615.2 236.0,613.6 237.1,611.9 238.1,610.3 239.1,608.8 240.2,607.4 241.2,606.3 242.1,605.3 243.1,604.4 244.1,603.6 245.3,602.8 246.6,602.0 248.3,601.2 250.4,600.4 252.5,599.7 254.6,599.0 256.4,598.5 257.6,598.1" fill="none" stroke="#0b0d0d" stroke-width="2.54" stroke-linecap="round" stroke-linejoin="round"/>
<polyline points="220.0,631.7 221.0,631.4 222.4,631.1 224.1,630.8 225.9,630.3 227.5,629.7 229.0,628.9 230.2,627.8 231.3,626.5 232.4,625.0 233.4,623.5 234.4,621.9 235.3,620.4 236.3,618.9 237.2,617.4 238.2,615.8 239.1,614.3 240.0,612.8 240.9,611.5 241.8,610.4 242.8,609.4 243.7,608.5 244.7,607.6 245.6,606.9 246.6,606.2 247.6,605.7 248.7,605.2 249.8,604.8 250.9,604.5 252.0,604.2 252.9,604.0 253.9,603.8 254.8,603.7 255.7,603.6 256.5,603.5 257.1,603.5 257.6,603.5" fill="none" stroke="#0b0d0d" stroke-width="2.54" stroke-linecap="round" stroke-linejoin="round"/>
<polyline points="225.1,625.7 225.7,625.4 226.4,625.1 227.4,624.7 228.4,624.2 229.4,623.4 230.3,622.4 231.2,621.1 232.0,619.4 232.9,617.5 233.7,615.6 234.6,613.7 235.5,611.9 236.5,610.2 237.5,608.5 238.4,606.8 239.5,605.2 240.6,603.8 241.7,602.7 243.1,601.8 244.6,601.1 246.2,600.5 247.7,600.1 248.9,599.8 249.8,599.6" fill="none" stroke="#0b0d0d" stroke-width="1.66" stroke-linecap="round" stroke-linejoin="round"/>
<polygon points="257.6,593.7 275.8,593.6 275.8,691.2 257.6,693.0" fill="#2d9c5f"/>
<polygon points="257.6,593.7 275.8,593.6 275.8,607.0 257.6,607.3" fill="#4ba675"/>
<polygon points="257.6,607.3 275.8,607.0 275.8,619.9 257.6,620.4" fill="#47a672"/>
<polygon points="257.6,620.4 275.8,619.9 275.8,629.3 257.6,630.0" fill="#62b48a"/>
<polygon points="257.6,630.0 275.8,629.3 275.8,637.5 257.6,638.3" fill="#6ab990"/>
<polygon points="257.6,638.3 275.8,637.5 275.8,648.0 257.6,649.1" fill="#48a876"/>
<polygon points="257.6,649.1 275.8,648.0 275.8,664.5 257.6,665.8" fill="#2a9c60"/>
<polygon points="257.6,665.8 275.8,664.5 275.8,678.5 257.6,680.1" fill="#239a52"/>
<polygon points="257.6,680.1 275.8,678.5 275.8,691.2 257.6,693.0" fill="#1a964c"/>
<polygon points="260.6,607.6 274.7,607.4 274.7,619.0 260.6,619.4" fill="#0a0a0a"/>
<circle cx="263.7" cy="609.8" r="1.11" fill="#f4f4f4"/>
<circle cx="272.6" cy="609.6" r="1.11" fill="#f4f4f4"/>
<circle cx="263.7" cy="617.0" r="1.11" fill="#f4f4f4"/>
<circle cx="272.6" cy="616.8" r="1.11" fill="#f4f4f4"/>
<polyline points="265.4,610.6 271.0,616.0" fill="none" stroke="#c4c4c4" stroke-width="0.99" stroke-linecap="round" stroke-linejoin="round"/>
<polyline points="271.0,610.5 265.4,616.1" fill="none" stroke="#c4c4c4" stroke-width="0.99" stroke-linecap="round" stroke-linejoin="round"/>
<polyline points="268.2,609.9 268.2,616.7" fill="none" stroke="#b0b0b0" stroke-width="0.88" stroke-linecap="round" stroke-linejoin="round"/>
<polyline points="265.4,613.4 271.0,613.3" fill="none" stroke="#9a9a9a" stroke-width="0.66" stroke-linecap="round" stroke-linejoin="round"/>
<polygon points="262.6,638.1 272.0,637.7 272.0,647.3 262.6,647.8" fill="#0a0a0a"/>
<circle cx="265.1" cy="639.8" r="0.94" fill="#f4f4f4"/>
<circle cx="270.4" cy="639.5" r="0.94" fill="#f4f4f4"/>
<circle cx="265.1" cy="645.9" r="0.94" fill="#f4f4f4"/>
<circle cx="270.4" cy="645.6" r="0.94" fill="#f4f4f4"/>
<polyline points="265.6,640.7 269.9,644.7" fill="none" stroke="#c4c4c4" stroke-width="0.99" stroke-linecap="round" stroke-linejoin="round"/>
<polyline points="269.9,640.5 265.6,644.9" fill="none" stroke="#c4c4c4" stroke-width="0.99" stroke-linecap="round" stroke-linejoin="round"/>
<polyline points="267.8,640.1 267.8,645.3" fill="none" stroke="#b0b0b0" stroke-width="0.88" stroke-linecap="round" stroke-linejoin="round"/>
<polyline points="265.6,642.8 269.9,642.6" fill="none" stroke="#9a9a9a" stroke-width="0.66" stroke-linecap="round" stroke-linejoin="round"/>
<polygon points="260.6,666.3 275.0,665.2 275.0,678.1 260.6,679.4" fill="#0a0a0a"/>
<circle cx="263.7" cy="668.3" r="1.11" fill="#f4f4f4"/>
<circle cx="272.9" cy="667.6" r="1.11" fill="#f4f4f4"/>
<circle cx="263.7" cy="676.9" r="1.11" fill="#f4f4f4"/>
<circle cx="272.9" cy="676.1" r="1.11" fill="#f4f4f4"/>
<polyline points="265.5,669.7 271.1,674.7" fill="none" stroke="#c4c4c4" stroke-width="0.99" stroke-linecap="round" stroke-linejoin="round"/>
<polyline points="271.1,669.3 265.5,675.2" fill="none" stroke="#c4c4c4" stroke-width="0.99" stroke-linecap="round" stroke-linejoin="round"/>
<polyline points="268.3,668.8 268.3,675.6" fill="none" stroke="#b0b0b0" stroke-width="0.88" stroke-linecap="round" stroke-linejoin="round"/>
<polyline points="265.5,672.4 271.1,672.0" fill="none" stroke="#9a9a9a" stroke-width="0.66" stroke-linecap="round" stroke-linejoin="round"/>
<polygon points="258.4,608.2 260.0,608.2 260.0,618.8 258.4,618.8" fill="#174c30"/>
<polygon points="258.4,666.9 260.0,666.8 260.0,678.7 258.4,678.9" fill="#174c30"/>
<polygon points="261.3,608.4 262.3,608.4 262.3,618.5 261.3,618.5" fill="#8a8f8c"/>
<polygon points="261.3,667.1 262.3,667.0 262.3,678.5 261.3,678.6" fill="#8a8f8c"/>
<polygon points="263.2,649.4 271.5,648.9 271.5,651.6 263.2,652.1" fill="#a8dcc0"/>
<circle cx="264.7" cy="650.6" r="0.77" fill="#eef"/>
<circle cx="267.6" cy="650.4" r="0.77" fill="#eef"/>
<circle cx="270.5" cy="650.2" r="0.77" fill="#eef"/>
<polygon points="241.5,623.3 243.8,623.2 243.8,663.2 241.5,663.4" fill="#0d0d0d"/>
<polygon points="243.6,624.8 260.6,624.3 260.6,659.6 243.6,660.8" fill="#e6e6e3"/>
<polygon points="243.6,624.8 260.6,624.3 260.6,630.8 243.6,631.5" fill="#cfcfcc"/>
<polygon points="245.3,627.1 258.8,626.6 258.8,627.8 245.3,628.3" fill="#9a9a98"/>
<polygon points="243.6,654.1 260.6,653.1 260.6,659.6 243.6,660.8" fill="#c2c2c0"/>
<polygon points="243.6,624.8 244.7,624.8 244.7,660.7 243.6,660.8" fill="#a9a9a7"/>
<polygon points="246.4,632.8 247.6,632.7 247.6,634.8 246.4,634.8" fill="#333333"/>
<polygon points="246.4,635.7 247.6,635.6 247.6,637.7 246.4,637.7" fill="#333333"/>
<polygon points="246.4,638.6 247.6,638.5 247.6,640.5 246.4,640.6" fill="#333333"/>
<polygon points="246.4,641.5 247.6,641.4 247.6,643.4 246.4,643.5" fill="#333333"/>
<polygon points="246.4,644.3 247.6,644.3 247.6,646.3 246.4,646.4" fill="#333333"/>
<polygon points="246.4,647.2 247.6,647.2 247.6,649.2 246.4,649.3" fill="#333333"/>
<polygon points="246.4,650.1 247.6,650.1 247.6,652.1 246.4,652.2" fill="#333333"/>
<polygon points="249.3,632.6 250.5,632.6 250.5,634.6 249.3,634.7" fill="#333333"/>
<polygon points="249.3,635.5 250.5,635.5 250.5,637.5 249.3,637.6" fill="#333333"/>
<polygon points="249.3,638.4 250.5,638.4 250.5,640.4 249.3,640.5" fill="#333333"/>
<polygon points="249.3,641.3 250.5,641.2 250.5,643.3 249.3,643.4" fill="#333333"/>
<polygon points="249.3,644.2 250.5,644.1 250.5,646.2 249.3,646.2" fill="#333333"/>
<polygon points="249.3,647.1 250.5,647.0 250.5,649.1 249.3,649.1" fill="#333333"/>
<polygon points="249.3,650.0 250.5,649.9 250.5,652.0 249.3,652.0" fill="#333333"/>
<polygon points="252.2,632.5 253.4,632.5 253.4,634.5 252.2,634.6" fill="#333333"/>
<polygon points="252.2,635.4 253.4,635.3 253.4,637.4 252.2,637.4" fill="#333333"/>
<polygon points="252.2,638.3 253.4,638.2 253.4,640.3 252.2,640.3" fill="#8a8f60"/>
<polygon points="252.2,641.2 253.4,641.1 253.4,643.1 252.2,643.2" fill="#8a8f60"/>
<polygon points="252.2,644.0 253.4,644.0 253.4,646.0 252.2,646.1" fill="#8a8f60"/>
<polygon points="252.2,646.9 253.4,646.9 253.4,648.9 252.2,649.0" fill="#333333"/>
<polygon points="252.2,649.8 253.4,649.7 253.4,651.8 252.2,651.9" fill="#333333"/>
<polygon points="255.1,632.4 256.3,632.4 256.3,634.4 255.1,634.4" fill="#cdb85e"/>
<polygon points="255.1,635.3 256.3,635.2 256.3,637.3 255.1,637.3" fill="#cdb85e"/>
<polygon points="255.1,638.1 256.3,638.1 256.3,640.1 255.1,640.2" fill="#cdb85e"/>
<polygon points="255.1,641.0 256.3,641.0 256.3,643.0 255.1,643.1" fill="#cdb85e"/>
<polygon points="255.1,643.9 256.3,643.8 256.3,645.9 255.1,645.9" fill="#cdb85e"/>
<polygon points="255.1,646.8 256.3,646.7 256.3,648.7 255.1,648.8" fill="#333333"/>
<polygon points="255.1,649.6 256.3,649.6 256.3,651.6 255.1,651.7" fill="#333333"/>
<polygon points="258.0,632.3 259.2,632.2 259.2,634.3 258.0,634.3" fill="#333333"/>
<polygon points="258.0,635.1 259.2,635.1 259.2,637.1 258.0,637.2" fill="#333333"/>
<polygon points="258.0,638.0 259.2,638.0 259.2,640.0 258.0,640.0" fill="#333333"/>
<polygon points="258.0,640.9 259.2,640.8 259.2,642.8 258.0,642.9" fill="#333333"/>
<polygon points="258.0,643.7 259.2,643.7 259.2,645.7 258.0,645.8" fill="#333333"/>
<polygon points="258.0,646.6 259.2,646.5 259.2,648.6 258.0,648.6" fill="#333333"/>
<polygon points="258.0,649.5 259.2,649.4 259.2,651.4 258.0,651.5" fill="#333333"/>
<polygon points="245.0,622.8 254.6,622.5 254.6,624.8 245.0,625.1" fill="#0c0c0c"/>
<polygon points="245.7,620.5 246.9,620.5 246.9,623.4 245.7,623.4" fill="#1b4fb4"/>
<circle cx="246.3" cy="624.2" r="0.39" fill="#cfcfcf"/>
<polygon points="247.5,620.5 248.7,620.4 248.7,623.3 247.5,623.4" fill="#1b4fb4"/>
<circle cx="248.1" cy="624.2" r="0.39" fill="#cfcfcf"/>
<polygon points="249.3,620.4 250.5,620.4 250.5,623.3 249.3,623.3" fill="#1b4fb4"/>
<circle cx="249.9" cy="624.1" r="0.39" fill="#cfcfcf"/>
<polygon points="251.1,620.4 252.3,620.3 252.3,623.2 251.1,623.2" fill="#1b4fb4"/>
<circle cx="251.7" cy="624.1" r="0.39" fill="#cfcfcf"/>
<polygon points="252.9,620.3 254.1,620.3 254.1,623.2 252.9,623.2" fill="#1b4fb4"/>
<circle cx="253.5" cy="624.0" r="0.39" fill="#cfcfcf"/>
<polygon points="245.5,660.4 259.8,659.4 259.8,662.1 245.5,663.1" fill="#0c0c0c"/>
<polygon points="246.8,662.5 248.0,662.4 248.0,666.0 246.8,666.1" fill="#1b4fb4"/>
<circle cx="247.4" cy="661.5" r="0.39" fill="#cfcfcf"/>
<polygon points="248.6,662.4 249.8,662.3 249.8,665.9 248.6,666.0" fill="#1b4fb4"/>
<circle cx="249.2" cy="661.4" r="0.39" fill="#cfcfcf"/>
<polygon points="250.4,662.2 251.6,662.2 251.6,665.8 250.4,665.9" fill="#1b4fb4"/>
<circle cx="251.0" cy="661.2" r="0.39" fill="#cfcfcf"/>
<polygon points="252.2,662.1 253.4,662.0 253.4,665.6 252.2,665.7" fill="#1b4fb4"/>
<circle cx="252.8" cy="661.1" r="0.39" fill="#cfcfcf"/>
<polygon points="254.0,662.0 255.2,661.9 255.2,665.5 254.0,665.6" fill="#1b4fb4"/>
<circle cx="254.6" cy="661.0" r="0.39" fill="#cfcfcf"/>
<polygon points="255.8,661.9 257.0,661.8 257.0,665.4 255.8,665.5" fill="#1b4fb4"/>
<circle cx="256.4" cy="660.9" r="0.39" fill="#cfcfcf"/>
<polygon points="257.6,661.7 258.8,661.7 258.8,665.2 257.6,665.3" fill="#1b4fb4"/>
<circle cx="258.2" cy="660.7" r="0.39" fill="#cfcfcf"/>
<polyline points="247.3,622.5 247.2,621.6 247.0,620.4 246.8,618.9 246.6,617.4 246.5,615.9 246.4,614.7 246.4,613.7 246.5,612.8 246.6,612.0 246.7,611.2 246.9,610.5 247.0,609.9 247.2,609.2 247.4,608.6 247.6,608.0 247.7,607.5 247.9,607.1 248.0,606.8" fill="none" stroke="#dba21c" stroke-width="1.11" stroke-linecap="round" stroke-linejoin="round"/>
<polyline points="250.3,622.4 250.3,621.7 250.2,620.7 250.2,619.5 250.1,618.2 250.0,616.9 250.0,615.8 250.1,614.8 250.2,613.7 250.3,612.7 250.5,611.8 250.6,611.0 250.6,610.4" fill="none" stroke="#2c3f9e" stroke-width="0.99" stroke-linecap="round" stroke-linejoin="round"/>
<polyline points="252.6,622.4 252.7,621.6 252.7,620.6 252.8,619.4 252.8,618.1 252.9,616.8 252.8,615.8 252.8,614.8 252.7,613.8 252.6,612.9 252.5,612.1 252.4,611.5 252.3,611.0" fill="none" stroke="#2c3f9e" stroke-width="0.99" stroke-linecap="round" stroke-linejoin="round"/>
<polyline points="250.8,665.7 250.5,667.2 250.2,668.7 250.1,670.2 250.1,671.7 250.2,673.1 250.4,674.5 250.8,675.9 251.2,677.1 251.8,678.2 252.5,679.2 253.3,680.0 254.2,680.7 255.2,681.2 256.3,681.4" fill="none" stroke="#c81e2b" stroke-width="1.33" stroke-linecap="round" stroke-linejoin="round"/>
<polyline points="253.3,665.5 253.0,666.7 252.7,667.9 252.6,669.1 252.6,670.3 252.6,671.4 252.8,672.5 253.0,673.5 253.4,674.4 253.8,675.2 254.3,675.8 254.8,676.3 255.4,676.6 256.1,676.7 256.8,676.6" fill="none" stroke="#c81e2b" stroke-width="1.33" stroke-linecap="round" stroke-linejoin="round"/>
<polyline points="255.8,665.3 256.1,666.2 256.2,667.1 256.3,667.9 256.2,668.7 256.1,669.5 255.9,670.2 255.6,670.7 255.2,671.2 254.8,671.6 254.4,671.8 253.9,671.9 253.4,671.8 252.9,671.5 252.3,671.0" fill="none" stroke="#c81e2b" stroke-width="1.22" stroke-linecap="round" stroke-linejoin="round"/>
<polyline points="247.8,665.9 247.5,667.9 247.3,669.9 247.3,671.8 247.5,673.6 247.8,675.4 248.3,677.0 249.0,678.6 249.7,679.9 250.6,681.1 251.7,682.2 252.8,682.9 254.0,683.5 255.4,683.8 256.8,683.8" fill="none" stroke="#0b0d0d" stroke-width="1.22" stroke-linecap="round" stroke-linejoin="round"/>
<polyline points="275.6,598.0 276.1,598.0 276.8,598.1 277.7,598.1 278.5,598.2 279.4,598.3 280.1,598.5 280.7,598.7 281.3,598.9 281.9,599.2 282.4,599.5 283.0,599.9 283.5,600.5 284.1,601.2 284.6,602.1 285.2,603.1 285.7,604.2 286.2,605.3 286.6,606.5 286.9,607.7 287.1,609.0 287.2,610.4 287.3,611.8 287.4,613.1 287.5,614.3 287.7,615.5 287.9,616.5 288.1,617.5 288.4,618.4 288.6,619.3 288.9,620.2 289.3,621.0 289.6,621.8 290.0,622.6 290.4,623.3 290.9,624.0 291.3,624.6 291.8,625.3 292.4,625.9 293.0,626.5 293.5,627.0 294.0,627.5 294.5,628.0 294.8,628.4 295.1,628.9 295.4,629.3 295.6,629.7 295.8,630.0 295.9,630.2" fill="none" stroke="#0b0d0d" stroke-width="1.66" stroke-linecap="round" stroke-linejoin="round"/>
<polyline points="275.8,606.9 276.1,607.1 276.6,607.4 277.1,607.8 277.7,608.2 278.1,608.7 278.5,609.3 278.7,609.9 278.9,610.6 279.0,611.3 279.0,612.1 279.0,613.0 279.0,614.0 278.9,615.0 278.7,616.1 278.5,617.3 278.2,618.5 278.0,619.7 277.8,621.0 277.7,622.3 277.6,623.7 277.4,625.1 277.3,626.5 277.3,627.9 277.2,629.2 277.1,630.5 276.9,631.8 276.8,633.0 276.8,634.2 276.7,635.3 276.8,636.3 276.9,637.1 277.0,637.8 277.2,638.4 277.5,638.9 277.8,639.4 278.2,639.7 278.7,639.9 279.2,640.1 279.8,640.1 280.4,640.1 281.2,640.0 282.0,639.8 282.9,639.5 284.0,639.0 285.1,638.5 286.3,638.0 287.5,637.4 288.6,636.9 289.7,636.3 290.8,635.6 291.9,635.0 293.0,634.3 293.8,633.8 294.5,633.4" fill="none" stroke="#0b0d0d" stroke-width="1.88" stroke-linecap="round" stroke-linejoin="round"/>
<polyline points="298.7,631.0 299.3,630.7 300.1,630.3 301.1,629.7 302.2,629.2 303.2,628.6 304.1,628.2 304.9,627.8 305.7,627.5 306.4,627.2 307.1,626.9 307.9,626.6 308.7,626.3 309.7,626.0 310.9,625.7 312.1,625.4 313.2,625.1 314.1,624.8 314.8,624.6" fill="none" stroke="#0b0d0d" stroke-width="1.99" stroke-linecap="round" stroke-linejoin="round"/>
<polygon points="293.7,631.6 298.4,629.3 299.2,632.7 294.8,634.9" fill="#c9994f"/>
<polygon points="286.2,609.2 290.7,609.1 290.7,617.2 286.2,617.3" fill="#0b0d0d"/>
<circle cx="291.5" cy="610.6" r="1.05" fill="#e8e8e8"/>
<circle cx="291.5" cy="615.6" r="1.05" fill="#e8e8e8"/>
<polygon points="287.0,637.5 291.2,637.3 291.2,646.0 287.0,646.2" fill="#0b0d0d"/>
<circle cx="292.0" cy="638.8" r="1.05" fill="#e8e8e8"/>
<circle cx="292.0" cy="644.5" r="1.05" fill="#e8e8e8"/>
<polygon points="287.4,666.1 291.6,665.8 291.6,674.8 287.4,675.2" fill="#0b0d0d"/>
<circle cx="292.5" cy="667.3" r="1.05" fill="#e8e8e8"/>
<circle cx="292.5" cy="673.3" r="1.05" fill="#e8e8e8"/>
<polygon points="239.9,635.5 242.7,635.4 242.7,645.1 239.9,645.2" fill="#0b0d0d"/>
<circle cx="243.7" cy="636.9" r="1.05" fill="#e8e8e8"/>
<circle cx="243.7" cy="643.5" r="1.05" fill="#e8e8e8"/>
<polygon points="240.1,667.7 242.7,667.5 242.7,680.2 240.1,680.5" fill="#0b0d0d"/>
<circle cx="243.7" cy="669.0" r="1.05" fill="#e8e8e8"/>
<circle cx="243.7" cy="678.6" r="1.05" fill="#e8e8e8"/>
<circle cx="243.5" cy="611.5" r="1.16" fill="#e8e8e8"/>
<circle cx="243.5" cy="619.4" r="1.16" fill="#e8e8e8"/>
<circle cx="284.8" cy="652.7" r="0.88" fill="#222"/>
<circle cx="284.8" cy="627.2" r="0.88" fill="#222"/>
<circle cx="221.7" cy="587.4" r="1.05" fill="#e0e0e0"/>
<circle cx="245.3" cy="587.5" r="1.05" fill="#e0e0e0"/>
<circle cx="267.2" cy="587.6" r="1.05" fill="#e0e0e0"/>
<circle cx="272.0" cy="587.6" r="1.05" fill="#e0e0e0"/>
<circle cx="292.7" cy="587.7" r="1.05" fill="#e0e0e0"/>
<circle cx="313.3" cy="587.8" r="1.05" fill="#e0e0e0"/>
<circle cx="221.7" cy="705.1" r="1.05" fill="#e0e0e0"/>
<circle cx="245.3" cy="702.5" r="1.05" fill="#e0e0e0"/>
<circle cx="267.2" cy="700.1" r="1.05" fill="#e0e0e0"/>
<circle cx="272.0" cy="699.6" r="1.05" fill="#e0e0e0"/>
<circle cx="292.7" cy="697.3" r="1.05" fill="#e0e0e0"/>
<circle cx="313.3" cy="695.1" r="1.05" fill="#e0e0e0"/>
<circle cx="221.2" cy="610.3" r="1.05" fill="#e0e0e0"/>
<circle cx="221.2" cy="617.7" r="1.05" fill="#e0e0e0"/>
<circle cx="221.2" cy="645.6" r="1.05" fill="#e0e0e0"/>
<circle cx="221.2" cy="672.8" r="1.05" fill="#e0e0e0"/>
<circle cx="221.2" cy="680.3" r="1.05" fill="#e0e0e0"/>
<circle cx="312.6" cy="609.2" r="1.05" fill="#e0e0e0"/>
<circle cx="312.6" cy="616.0" r="1.05" fill="#e0e0e0"/>
<circle cx="312.6" cy="640.8" r="1.05" fill="#e0e0e0"/>
<circle cx="312.6" cy="645.4" r="1.05" fill="#e0e0e0"/>
<circle cx="312.6" cy="666.8" r="1.05" fill="#e0e0e0"/>
<circle cx="312.6" cy="673.6" r="1.05" fill="#e0e0e0"/>
<circle cx="226.5" cy="630.2" r="0.94" fill="#e8e8e8"/>
<circle cx="226.5" cy="660.1" r="0.94" fill="#e8e8e8"/>
<circle cx="225.9" cy="699.6" r="0.94" fill="#e8e8e8"/>
<circle cx="309.9" cy="690.8" r="0.94" fill="#e8e8e8"/>
<circle cx="240.1" cy="701.1" r="0.88" fill="#e8e8e8"/>
<circle cx="287.8" cy="696.0" r="0.88" fill="#e8e8e8"/>
<polyline points="267.9,585.2 271.2,589.3" fill="none" stroke="#dedede" stroke-width="0.77" stroke-linecap="round" stroke-linejoin="round"/>
<polyline points="271.2,585.3 267.9,589.3" fill="none" stroke="#dedede" stroke-width="0.77" stroke-linecap="round" stroke-linejoin="round"/>
<polyline points="267.9,698.5 271.2,702.1" fill="none" stroke="#dedede" stroke-width="0.77" stroke-linecap="round" stroke-linejoin="round"/>
<polyline points="271.2,698.1 267.9,702.5" fill="none" stroke="#dedede" stroke-width="0.77" stroke-linecap="round" stroke-linejoin="round"/>
<polyline points="218.2,612.0 221.8,616.1" fill="none" stroke="#dedede" stroke-width="0.77" stroke-linecap="round" stroke-linejoin="round"/>
<polyline points="221.8,611.9 218.2,616.2" fill="none" stroke="#dedede" stroke-width="0.77" stroke-linecap="round" stroke-linejoin="round"/>
<polyline points="218.6,645.4 221.4,648.4" fill="none" stroke="#dedede" stroke-width="0.77" stroke-linecap="round" stroke-linejoin="round"/>
<polyline points="221.4,645.2 218.6,648.6" fill="none" stroke="#dedede" stroke-width="0.77" stroke-linecap="round" stroke-linejoin="round"/>
<polyline points="218.2,674.7 221.8,678.6" fill="none" stroke="#dedede" stroke-width="0.77" stroke-linecap="round" stroke-linejoin="round"/>
<polyline points="221.8,674.4 218.2,678.9" fill="none" stroke="#dedede" stroke-width="0.77" stroke-linecap="round" stroke-linejoin="round"/>
<polyline points="313.1,610.7 316.1,614.5" fill="none" stroke="#dedede" stroke-width="0.77" stroke-linecap="round" stroke-linejoin="round"/>
<polyline points="316.1,610.6 313.1,614.5" fill="none" stroke="#dedede" stroke-width="0.77" stroke-linecap="round" stroke-linejoin="round"/>
<polyline points="313.5,641.6 315.8,644.4" fill="none" stroke="#dedede" stroke-width="0.77" stroke-linecap="round" stroke-linejoin="round"/>
<polyline points="315.8,641.5 313.5,644.5" fill="none" stroke="#dedede" stroke-width="0.77" stroke-linecap="round" stroke-linejoin="round"/>
<polyline points="313.1,668.2 316.1,671.8" fill="none" stroke="#dedede" stroke-width="0.77" stroke-linecap="round" stroke-linejoin="round"/>
<polyline points="316.1,668.0 313.1,672.1" fill="none" stroke="#dedede" stroke-width="0.77" stroke-linecap="round" stroke-linejoin="round"/>
<circle cx="258.8" cy="595.3" r="0.66" fill="#e6f5ec"/>
<circle cx="274.7" cy="595.9" r="0.66" fill="#e6f5ec"/>
<circle cx="258.8" cy="691.1" r="0.66" fill="#e6f5ec"/>
<circle cx="274.7" cy="689.8" r="0.66" fill="#e6f5ec"/>
<polygon points="315.7,365.0 403.5,391.0 403.5,490.0 315.7,475.3" fill="#b9bcbc"/>
<polygon points="316.5,366.0 402.9,391.5 402.9,489.2 316.5,474.7" fill="#0b0d0d"/>
<polygon points="321.8,372.3 399.1,394.7 399.1,484.8 321.8,471.4" fill="#595352"/>
<polygon points="322.7,379.1 334.5,382.4 334.5,407.8 322.7,404.8" fill="#625c5a"/>
<polygon points="322.7,408.6 334.5,411.6 334.5,436.4 322.7,433.8" fill="#625c5a"/>
<polygon points="322.7,439.3 334.5,441.8 334.5,466.6 322.7,464.4" fill="#625c5a"/>
<polygon points="336.0,382.9 350.9,387.1 350.9,410.3 336.0,406.6" fill="#595352"/>
<polygon points="336.0,442.1 350.9,445.2 350.9,469.6 336.0,466.9" fill="#625c5a"/>
<polygon points="368.1,391.9 377.8,394.7 377.8,421.3 368.1,418.8" fill="#78716e"/>
<polygon points="368.1,421.9 377.8,424.3 377.8,447.9 368.1,445.7" fill="#78716e"/>
<polygon points="368.1,449.9 377.8,451.9 377.8,474.5 368.1,472.7" fill="#78716e"/>
<polygon points="379.1,395.0 390.7,398.3 390.7,423.4 379.1,420.5" fill="#78716e"/>
<polygon points="379.1,424.6 390.7,427.5 390.7,450.6 379.1,448.1" fill="#78716e"/>
<polygon points="379.1,452.2 390.7,454.6 390.7,476.8 379.1,474.7" fill="#78716e"/>
<polygon points="322.7,379.1 328.2,380.7 334.5,396.4 334.5,407.8 330.1,406.7" fill="#57504e"/>
<polygon points="322.7,464.4 327.3,451.1 334.5,446.1 334.5,466.6" fill="#5b5452"/>
<polygon points="379.1,420.5 384.1,407.6 390.7,405.3 390.7,423.4" fill="#645c59"/>
<polygon points="368.1,472.7 372.3,460.1 377.8,457.1 377.8,474.5" fill="#6a625f"/>
<polygon points="379.1,474.7 383.3,464.3 390.7,461.7 390.7,476.8" fill="#6a625f"/>
<polygon points="336.0,466.9 339.5,457.8 344.1,468.3" fill="#5b5452"/>
<polyline points="323.5,463.5 333.0,443.6" fill="none" stroke="#4c4644" stroke-width="0.50" stroke-linecap="round" stroke-linejoin="round"/>
<polyline points="336.7,465.9 347.7,448.8" fill="none" stroke="#4c4644" stroke-width="0.50" stroke-linecap="round" stroke-linejoin="round"/>
<polyline points="368.9,444.9 376.6,426.1" fill="none" stroke="#4c4644" stroke-width="0.50" stroke-linecap="round" stroke-linejoin="round"/>
<polyline points="379.9,473.8 389.0,457.3" fill="none" stroke="#4c4644" stroke-width="0.50" stroke-linecap="round" stroke-linejoin="round"/>
<polyline points="379.9,418.7 389.0,400.8" fill="none" stroke="#4c4644" stroke-width="0.50" stroke-linecap="round" stroke-linejoin="round"/>
<polyline points="323.5,403.4 333.0,385.2" fill="none" stroke="#4c4644" stroke-width="0.50" stroke-linecap="round" stroke-linejoin="round"/>
<polygon points="321.8,405.7 399.1,425.1 399.1,426.4 321.8,407.2" fill="#3f3938"/>
<polygon points="321.8,436.7 399.1,453.2 399.1,454.6 321.8,438.2" fill="#3f3938"/>
<polygon points="321.8,422.1 334.8,425.1 334.8,426.2 321.8,423.2" fill="#514a48"/>
<polygon points="368.1,433.3 390.7,438.5 390.7,439.5 368.1,434.4" fill="#5d5553"/>
<polygon points="317.2,369.7 402.3,394.5 402.3,395.7 317.2,371.0" fill="#203234"/>
<polygon points="321.8,372.3 333.2,375.6 331.5,382.5 323.2,380.1" fill="#0b0d0d"/>
<polygon points="335.6,376.3 348.8,380.1 347.4,386.6 337.3,384.1" fill="#0b0d0d"/>
<polygon points="348.8,380.1 351.1,380.8 351.1,384.0 349.3,382.4" fill="#2a2626"/>
<polygon points="367.6,385.6 378.1,388.6 378.1,394.2 369.8,392.9 367.6,389.7" fill="#0b0d0d"/>
<polygon points="378.8,388.8 399.1,394.7 397.9,398.8 382.4,397.0" fill="#0b0d0d"/>
<polygon points="334.7,376.0 335.6,376.3 335.6,473.8 334.7,473.6" fill="#0b0d0d"/>
<polygon points="378.1,388.6 378.8,388.8 378.8,481.3 378.1,481.1" fill="#0b0d0d"/>
<polygon points="316.9,369.8 321.8,371.2 321.8,471.9 316.9,471.1" fill="#0b0d0d"/>
<polygon points="317.7,373.3 319.5,373.8 319.5,403.5 317.7,403.0" fill="#203234"/>
<polygon points="317.7,409.6 319.5,410.0 319.5,434.2 317.7,433.8" fill="#203234"/>
<polygon points="317.7,440.4 319.5,440.8 319.5,469.3 317.7,469.0" fill="#203234"/>
<polygon points="316.9,403.9 321.8,405.1 321.8,409.5 316.9,408.3" fill="#2f3030"/>
<polygon points="316.9,434.2 321.8,435.3 321.8,439.6 316.9,438.6" fill="#3c3a3a"/>
<polygon points="391.2,395.7 398.1,397.7 398.1,409.7 391.2,407.9" fill="#1a1817"/>
<polygon points="391.2,407.9 398.1,409.7 398.1,413.3 391.2,411.5" fill="#2b2423"/>
<polygon points="391.2,416.0 399.9,418.3 399.9,423.3 391.2,421.0" fill="#3b2f2d"/>
<polygon points="391.2,423.6 398.3,425.4 398.3,449.3 391.2,447.7" fill="#201e1e"/>
<polygon points="391.2,448.7 400.1,450.6 400.1,455.1 391.2,453.2" fill="#3b2f2d"/>
<polygon points="391.2,456.3 399.0,457.9 399.0,481.3 391.2,479.9" fill="#2b2929"/>
<polygon points="399.0,394.6 402.6,395.7 402.6,485.9 399.0,485.3" fill="#0d1010"/>
<polygon points="399.9,397.9 401.1,398.2 401.1,483.6 399.9,483.4" fill="#1c2424"/>
<polygon points="316.9,470.3 402.6,485.2 402.6,488.9 316.9,474.4" fill="#0b0d0d"/>
<polygon points="319.2,471.5 322.0,463.5 330.9,464.3 333.9,471.3 338.3,474.4" fill="#0b0d0d"/>
<polygon points="338.7,474.3 339.9,467.1 344.1,467.3 345.3,475.5" fill="#0b0d0d"/>
<polygon points="348.8,476.1 350.7,471.1 367.1,474.6 369.0,479.6" fill="#0b0d0d"/>
<polygon points="370.0,479.7 371.3,472.0 375.5,472.9 377.3,481.0" fill="#0b0d0d"/>
<polygon points="381.5,481.7 383.4,474.0 394.1,476.2 399.1,484.8" fill="#0b0d0d"/>
<polygon points="323.0,465.9 330.3,466.3 332.0,469.4 322.0,468.7" fill="#222a2a"/>
<polygon points="384.1,476.2 393.3,478.0 395.5,481.2 383.3,479.0" fill="#222a2a"/>
<polyline points="316.9,404.7 317.6,404.7 318.5,404.8 319.6,404.8 320.8,404.8 322.0,404.6 323.2,404.2 324.2,403.5 325.3,402.5 326.4,401.4 327.5,400.2 328.5,399.0 329.6,397.9 330.6,396.7 331.5,395.5 332.5,394.3 333.4,393.1 334.3,392.1 335.3,391.2 336.2,390.4 337.1,389.8 337.9,389.2 338.9,388.8 339.9,388.4 341.1,388.1 342.7,387.8 344.6,387.6 346.5,387.6 348.4,387.5 350.0,387.5 351.1,387.4" fill="none" stroke="#0b0d0d" stroke-width="2.28" stroke-linecap="round" stroke-linejoin="round"/>
<polyline points="316.9,407.4 317.8,407.5 319.1,407.6 320.6,407.7 322.2,407.8 323.8,407.6 325.1,407.3 326.2,406.6 327.2,405.8 328.2,404.8 329.1,403.6 330.0,402.5 330.9,401.5 331.8,400.4 332.6,399.2 333.5,398.1 334.3,396.9 335.1,395.9 335.9,395.0 336.8,394.3 337.6,393.6 338.5,393.0 339.4,392.5 340.2,392.1 341.1,391.8 342.1,391.6 343.1,391.4 344.1,391.4 345.1,391.4 346.0,391.4 346.9,391.5 347.7,391.5 348.6,391.7 349.4,391.8 350.1,392.0 350.7,392.1 351.1,392.2" fill="none" stroke="#0b0d0d" stroke-width="2.28" stroke-linecap="round" stroke-linejoin="round"/>
<polyline points="321.5,403.4 322.1,403.3 322.8,403.3 323.6,403.2 324.6,403.0 325.5,402.6 326.3,401.9 327.1,400.9 327.9,399.7 328.6,398.2 329.4,396.7 330.2,395.2 331.1,393.9 331.9,392.7 332.8,391.4 333.7,390.2 334.7,389.0 335.6,388.1 336.7,387.4 337.9,386.9 339.3,386.7 340.7,386.6 342.1,386.7 343.3,386.7 344.1,386.7" fill="none" stroke="#0b0d0d" stroke-width="1.49" stroke-linecap="round" stroke-linejoin="round"/>
<polygon points="351.1,383.5 367.6,388.3 367.6,474.5 351.1,471.5" fill="#2d9c5f"/>
<polygon points="351.1,383.5 367.6,388.3 367.6,400.1 351.1,395.6" fill="#4ba675"/>
<polygon points="351.1,395.6 367.6,400.1 367.6,411.5 351.1,407.2" fill="#47a672"/>
<polygon points="351.1,407.2 367.6,411.5 367.6,419.7 351.1,415.7" fill="#62b48a"/>
<polygon points="351.1,415.7 367.6,419.7 367.6,427.0 351.1,423.1" fill="#6ab990"/>
<polygon points="351.1,423.1 367.6,427.0 367.6,436.3 351.1,432.6" fill="#48a876"/>
<polygon points="351.1,432.6 367.6,436.3 367.6,450.8 351.1,447.4" fill="#2a9c60"/>
<polygon points="351.1,447.4 367.6,450.8 367.6,463.3 351.1,460.1" fill="#239a52"/>
<polygon points="351.1,460.1 367.6,463.3 367.6,474.5 351.1,471.5" fill="#1a964c"/>
<polygon points="353.8,396.6 366.6,400.1 366.6,410.4 353.8,407.1" fill="#0a0a0a"/>
<circle cx="356.7" cy="399.4" r="0.99" fill="#f4f4f4"/>
<circle cx="364.7" cy="401.6" r="0.99" fill="#f4f4f4"/>
<circle cx="356.7" cy="405.8" r="0.99" fill="#f4f4f4"/>
<circle cx="364.7" cy="407.9" r="0.99" fill="#f4f4f4"/>
<polyline points="358.1,400.6 363.2,406.8" fill="none" stroke="#c4c4c4" stroke-width="0.89" stroke-linecap="round" stroke-linejoin="round"/>
<polyline points="363.2,401.9 358.1,405.4" fill="none" stroke="#c4c4c4" stroke-width="0.89" stroke-linecap="round" stroke-linejoin="round"/>
<polyline points="360.7,400.6 360.7,406.7" fill="none" stroke="#b0b0b0" stroke-width="0.79" stroke-linecap="round" stroke-linejoin="round"/>
<polyline points="358.1,403.0 363.2,404.3" fill="none" stroke="#9a9a9a" stroke-width="0.59" stroke-linecap="round" stroke-linejoin="round"/>
<polygon points="355.6,424.1 364.2,426.2 364.2,434.7 355.6,432.8" fill="#0a0a0a"/>
<circle cx="357.9" cy="426.3" r="0.84" fill="#f4f4f4"/>
<circle cx="362.8" cy="427.4" r="0.84" fill="#f4f4f4"/>
<circle cx="357.9" cy="431.7" r="0.84" fill="#f4f4f4"/>
<circle cx="362.8" cy="432.8" r="0.84" fill="#f4f4f4"/>
<polyline points="358.4,427.3 362.3,431.8" fill="none" stroke="#c4c4c4" stroke-width="0.89" stroke-linecap="round" stroke-linejoin="round"/>
<polyline points="362.3,428.2 358.4,431.0" fill="none" stroke="#c4c4c4" stroke-width="0.89" stroke-linecap="round" stroke-linejoin="round"/>
<polyline points="360.3,427.3 360.3,431.9" fill="none" stroke="#b0b0b0" stroke-width="0.79" stroke-linecap="round" stroke-linejoin="round"/>
<polyline points="358.4,429.1 362.3,430.0" fill="none" stroke="#9a9a9a" stroke-width="0.59" stroke-linecap="round" stroke-linejoin="round"/>
<polygon points="353.8,448.6 366.8,451.3 366.8,462.7 353.8,460.2" fill="#0a0a0a"/>
<circle cx="356.7" cy="451.2" r="0.99" fill="#f4f4f4"/>
<circle cx="364.9" cy="452.9" r="0.99" fill="#f4f4f4"/>
<circle cx="356.7" cy="458.7" r="0.99" fill="#f4f4f4"/>
<circle cx="364.9" cy="460.4" r="0.99" fill="#f4f4f4"/>
<polyline points="358.3,452.8 363.4,458.7" fill="none" stroke="#c4c4c4" stroke-width="0.89" stroke-linecap="round" stroke-linejoin="round"/>
<polyline points="363.4,453.9 358.3,457.7" fill="none" stroke="#c4c4c4" stroke-width="0.89" stroke-linecap="round" stroke-linejoin="round"/>
<polyline points="360.8,452.8 360.8,458.8" fill="none" stroke="#b0b0b0" stroke-width="0.79" stroke-linecap="round" stroke-linejoin="round"/>
<polyline points="358.3,455.3 363.4,456.3" fill="none" stroke="#9a9a9a" stroke-width="0.59" stroke-linecap="round" stroke-linejoin="round"/>
<polygon points="351.9,396.6 353.3,397.0 353.3,406.4 351.9,406.0" fill="#174c30"/>
<polygon points="351.9,448.6 353.3,448.9 353.3,459.4 351.9,459.2" fill="#174c30"/>
<polygon points="354.5,397.5 355.4,397.8 355.4,406.7 354.5,406.5" fill="#8a8f8c"/>
<polygon points="354.5,449.5 355.4,449.6 355.4,459.8 354.5,459.7" fill="#8a8f8c"/>
<polygon points="356.2,434.3 363.7,436.0 363.7,438.4 356.2,436.7" fill="#a8dcc0"/>
<circle cx="357.6" cy="435.7" r="0.69" fill="#eef"/>
<circle cx="360.2" cy="436.3" r="0.69" fill="#eef"/>
<circle cx="362.8" cy="436.9" r="0.69" fill="#eef"/>
<polygon points="336.5,405.6 338.6,406.1 338.6,441.6 336.5,441.1" fill="#0d0d0d"/>
<polygon points="338.4,407.5 353.8,411.4 353.8,442.7 338.4,439.4" fill="#e6e6e3"/>
<polygon points="338.4,407.5 353.8,411.4 353.8,417.2 338.4,413.4" fill="#cfcfcc"/>
<polygon points="339.9,409.9 352.2,413.0 352.2,414.0 339.9,411.0" fill="#9a9a98"/>
<polygon points="338.4,433.5 353.8,436.9 353.8,442.7 338.4,439.4" fill="#c2c2c0"/>
<polygon points="338.4,407.5 339.4,407.7 339.4,439.6 338.4,439.4" fill="#a9a9a7"/>
<polygon points="341.0,415.2 342.1,415.5 342.1,417.3 341.0,417.1" fill="#333333"/>
<polygon points="341.0,417.8 342.1,418.1 342.1,419.9 341.0,419.6" fill="#333333"/>
<polygon points="341.0,420.4 342.1,420.6 342.1,422.5 341.0,422.2" fill="#333333"/>
<polygon points="341.0,423.0 342.1,423.2 342.1,425.0 341.0,424.8" fill="#333333"/>
<polygon points="341.0,425.5 342.1,425.8 342.1,427.6 341.0,427.3" fill="#333333"/>
<polygon points="341.0,428.1 342.1,428.3 342.1,430.2 341.0,429.9" fill="#333333"/>
<polygon points="341.0,430.7 342.1,430.9 342.1,432.7 341.0,432.5" fill="#333333"/>
<polygon points="343.6,415.9 344.7,416.2 344.7,418.0 343.6,417.7" fill="#333333"/>
<polygon points="343.6,418.5 344.7,418.7 344.7,420.5 343.6,420.3" fill="#333333"/>
<polygon points="343.6,421.0 344.7,421.3 344.7,423.1 343.6,422.8" fill="#333333"/>
<polygon points="343.6,423.6 344.7,423.8 344.7,425.6 343.6,425.4" fill="#333333"/>
<polygon points="343.6,426.1 344.7,426.4 344.7,428.2 343.6,428.0" fill="#333333"/>
<polygon points="343.6,428.7 344.7,429.0 344.7,430.8 343.6,430.5" fill="#333333"/>
<polygon points="343.6,431.3 344.7,431.5 344.7,433.3 343.6,433.1" fill="#333333"/>
<polygon points="346.3,416.5 347.4,416.8 347.4,418.6 346.3,418.4" fill="#333333"/>
<polygon points="346.3,419.1 347.4,419.4 347.4,421.2 346.3,420.9" fill="#333333"/>
<polygon points="346.3,421.6 347.4,421.9 347.4,423.7 346.3,423.5" fill="#8a8f60"/>
<polygon points="346.3,424.2 347.4,424.5 347.4,426.3 346.3,426.0" fill="#8a8f60"/>
<polygon points="346.3,426.8 347.4,427.0 347.4,428.8 346.3,428.6" fill="#8a8f60"/>
<polygon points="346.3,429.3 347.4,429.6 347.4,431.4 346.3,431.1" fill="#333333"/>
<polygon points="346.3,431.9 347.4,432.1 347.4,433.9 346.3,433.7" fill="#333333"/>
<polygon points="348.9,417.2 350.0,417.5 350.0,419.3 348.9,419.0" fill="#cdb85e"/>
<polygon points="348.9,419.7 350.0,420.0 350.0,421.8 348.9,421.5" fill="#cdb85e"/>
<polygon points="348.9,422.3 350.0,422.5 350.0,424.3 348.9,424.1" fill="#cdb85e"/>
<polygon points="348.9,424.8 350.0,425.1 350.0,426.9 348.9,426.6" fill="#cdb85e"/>
<polygon points="348.9,427.4 350.0,427.6 350.0,429.4 348.9,429.2" fill="#cdb85e"/>
<polygon points="348.9,429.9 350.0,430.2 350.0,432.0 348.9,431.7" fill="#333333"/>
<polygon points="348.9,432.5 350.0,432.7 350.0,434.5 348.9,434.3" fill="#333333"/>
<polygon points="351.5,417.8 352.6,418.1 352.6,419.9 351.5,419.6" fill="#333333"/>
<polygon points="351.5,420.4 352.6,420.6 352.6,422.4 351.5,422.2" fill="#333333"/>
<polygon points="351.5,422.9 352.6,423.2 352.6,425.0 351.5,424.7" fill="#333333"/>
<polygon points="351.5,425.4 352.6,425.7 352.6,427.5 351.5,427.2" fill="#333333"/>
<polygon points="351.5,428.0 352.6,428.2 352.6,430.0 351.5,429.8" fill="#333333"/>
<polygon points="351.5,430.5 352.6,430.8 352.6,432.6 351.5,432.3" fill="#333333"/>
<polygon points="351.5,433.0 352.6,433.3 352.6,435.1 351.5,434.8" fill="#333333"/>
<polygon points="339.7,406.1 348.4,408.3 348.4,410.3 339.7,408.1" fill="#0c0c0c"/>
<polygon points="340.3,404.2 341.4,404.5 341.4,407.1 340.3,406.8" fill="#1b4fb4"/>
<circle cx="340.9" cy="407.7" r="0.35" fill="#cfcfcf"/>
<polygon points="342.0,404.6 343.1,404.9 343.1,407.5 342.0,407.2" fill="#1b4fb4"/>
<circle cx="342.5" cy="408.1" r="0.35" fill="#cfcfcf"/>
<polygon points="343.6,405.1 344.7,405.3 344.7,407.9 343.6,407.6" fill="#1b4fb4"/>
<circle cx="344.2" cy="408.5" r="0.35" fill="#cfcfcf"/>
<polygon points="345.3,405.5 346.4,405.8 346.4,408.3 345.3,408.0" fill="#1b4fb4"/>
<circle cx="345.8" cy="408.9" r="0.35" fill="#cfcfcf"/>
<polygon points="346.9,405.9 348.0,406.2 348.0,408.7 346.9,408.5" fill="#1b4fb4"/>
<circle cx="347.4" cy="409.3" r="0.35" fill="#cfcfcf"/>
<polygon points="340.1,439.5 353.1,442.3 353.1,444.6 340.1,441.9" fill="#0c0c0c"/>
<polygon points="341.3,441.7 342.4,441.9 342.4,445.2 341.3,444.9" fill="#1b4fb4"/>
<circle cx="341.9" cy="441.0" r="0.35" fill="#cfcfcf"/>
<polygon points="343.0,442.1 344.1,442.3 344.1,445.5 343.0,445.3" fill="#1b4fb4"/>
<circle cx="343.5" cy="441.3" r="0.35" fill="#cfcfcf"/>
<polygon points="344.6,442.4 345.7,442.6 345.7,445.8 344.6,445.6" fill="#1b4fb4"/>
<circle cx="345.2" cy="441.7" r="0.35" fill="#cfcfcf"/>
<polygon points="346.3,442.8 347.4,443.0 347.4,446.2 346.3,446.0" fill="#1b4fb4"/>
<circle cx="346.8" cy="442.0" r="0.35" fill="#cfcfcf"/>
<polygon points="347.9,443.1 349.0,443.3 349.0,446.5 347.9,446.3" fill="#1b4fb4"/>
<circle cx="348.4" cy="442.4" r="0.35" fill="#cfcfcf"/>
<polygon points="349.5,443.5 350.6,443.7 350.6,446.9 349.5,446.6" fill="#1b4fb4"/>
<circle cx="350.1" cy="442.7" r="0.35" fill="#cfcfcf"/>
<polygon points="351.1,443.8 352.2,444.0 352.2,447.2 351.1,447.0" fill="#1b4fb4"/>
<circle cx="351.7" cy="443.1" r="0.35" fill="#cfcfcf"/>
<polyline points="341.8,406.4 341.7,405.6 341.5,404.4 341.3,403.1 341.2,401.7 341.0,400.3 341.0,399.2 341.0,398.4 341.0,397.6 341.1,396.9 341.2,396.2 341.4,395.7 341.5,395.1 341.6,394.6 341.8,394.1 342.0,393.6 342.2,393.2 342.3,392.9 342.4,392.7" fill="none" stroke="#dba21c" stroke-width="0.99" stroke-linecap="round" stroke-linejoin="round"/>
<polyline points="344.5,407.1 344.5,406.5 344.4,405.5 344.4,404.4 344.3,403.3 344.3,402.2 344.3,401.2 344.3,400.3 344.4,399.4 344.5,398.5 344.6,397.7 344.7,397.0 344.8,396.5" fill="none" stroke="#2c3f9e" stroke-width="0.89" stroke-linecap="round" stroke-linejoin="round"/>
<polyline points="346.6,407.6 346.7,407.0 346.7,406.1 346.7,405.0 346.8,403.9 346.8,402.8 346.8,401.8 346.8,401.0 346.7,400.1 346.6,399.3 346.5,398.6 346.4,397.9 346.4,397.5" fill="none" stroke="#2c3f9e" stroke-width="0.89" stroke-linecap="round" stroke-linejoin="round"/>
<polyline points="345.0,445.6 344.7,446.8 344.4,448.1 344.3,449.4 344.3,450.7 344.4,452.0 344.6,453.3 344.9,454.6 345.4,455.8 345.9,456.9 346.5,458.0 347.2,458.9 348.0,459.7 349.0,460.4 350.0,460.9" fill="none" stroke="#c81e2b" stroke-width="1.19" stroke-linecap="round" stroke-linejoin="round"/>
<polyline points="347.3,446.1 346.9,447.0 346.7,448.0 346.6,449.1 346.5,450.1 346.6,451.1 346.8,452.1 347.0,453.0 347.3,453.9 347.7,454.7 348.1,455.4 348.6,456.0 349.2,456.4 349.8,456.7 350.4,456.8" fill="none" stroke="#c81e2b" stroke-width="1.19" stroke-linecap="round" stroke-linejoin="round"/>
<polyline points="349.5,446.5 349.8,447.4 349.9,448.2 349.9,448.9 349.9,449.6 349.8,450.3 349.6,450.8 349.3,451.3 349.0,451.6 348.6,451.8 348.2,451.9 347.8,451.8 347.3,451.6 346.8,451.2 346.4,450.7" fill="none" stroke="#c81e2b" stroke-width="1.09" stroke-linecap="round" stroke-linejoin="round"/>
<polyline points="342.2,445.0 341.9,446.7 341.8,448.4 341.8,450.1 342.0,451.7 342.3,453.4 342.7,455.0 343.3,456.5 344.0,457.9 344.8,459.2 345.7,460.4 346.8,461.3 347.9,462.1 349.1,462.7 350.4,463.1" fill="none" stroke="#0b0d0d" stroke-width="1.09" stroke-linecap="round" stroke-linejoin="round"/>
<polyline points="367.4,392.0 367.9,392.2 368.5,392.4 369.3,392.7 370.1,393.0 370.8,393.3 371.5,393.7 372.1,394.0 372.6,394.4 373.1,394.7 373.6,395.1 374.1,395.6 374.6,396.3 375.1,397.1 375.6,398.0 376.1,399.1 376.6,400.2 377.0,401.3 377.3,402.4 377.6,403.5 377.8,404.8 377.9,406.0 377.9,407.3 378.0,408.5 378.2,409.6 378.4,410.6 378.5,411.6 378.7,412.5 378.9,413.4 379.2,414.3 379.4,415.1 379.7,415.9 380.1,416.7 380.4,417.5 380.8,418.2 381.2,418.9 381.6,419.6 382.1,420.3 382.6,421.0 383.1,421.7 383.6,422.3 384.1,422.9 384.4,423.4 384.8,423.9 385.0,424.4 385.3,424.8 385.5,425.2 385.6,425.5 385.8,425.8" fill="none" stroke="#0b0d0d" stroke-width="1.49" stroke-linecap="round" stroke-linejoin="round"/>
<polyline points="367.6,400.0 367.9,400.3 368.3,400.6 368.8,401.1 369.3,401.6 369.7,402.2 370.0,402.8 370.2,403.4 370.4,404.0 370.5,404.7 370.5,405.4 370.5,406.2 370.5,407.0 370.4,407.9 370.2,408.8 370.0,409.8 369.8,410.8 369.6,411.9 369.4,413.0 369.3,414.1 369.2,415.3 369.1,416.5 369.0,417.7 368.9,418.9 368.8,420.0 368.7,421.2 368.6,422.3 368.5,423.3 368.5,424.4 368.4,425.3 368.5,426.2 368.6,426.9 368.7,427.6 368.9,428.2 369.1,428.7 369.4,429.2 369.8,429.6 370.2,429.9 370.7,430.2 371.2,430.4 371.8,430.5 372.5,430.6 373.2,430.6 374.0,430.6 375.0,430.5 376.0,430.3 377.1,430.1 378.1,429.9 379.1,429.7 380.1,429.5 381.1,429.2 382.1,428.9 383.1,428.6 383.9,428.3 384.4,428.2" fill="none" stroke="#0b0d0d" stroke-width="1.68" stroke-linecap="round" stroke-linejoin="round"/>
<polyline points="388.2,427.2 388.8,427.0 389.5,426.9 390.4,426.6 391.4,426.4 392.3,426.2 393.1,426.1 393.8,425.9 394.5,425.8 395.1,425.7 395.8,425.7 396.5,425.6 397.2,425.6 398.1,425.6 399.2,425.6 400.2,425.6 401.2,425.6 402.1,425.6 402.7,425.7" fill="none" stroke="#0b0d0d" stroke-width="1.78" stroke-linecap="round" stroke-linejoin="round"/>
<polygon points="383.7,426.4 388.0,425.6 388.7,428.8 384.8,429.6" fill="#c9994f"/>
<polygon points="377.0,404.7 381.0,405.7 381.0,412.9 377.0,411.8" fill="#0b0d0d"/>
<circle cx="381.8" cy="407.3" r="0.94" fill="#e8e8e8"/>
<circle cx="381.8" cy="411.7" r="0.94" fill="#e8e8e8"/>
<polygon points="377.7,429.9 381.5,430.8 381.5,438.4 377.7,437.6" fill="#0b0d0d"/>
<circle cx="382.2" cy="432.3" r="0.94" fill="#e8e8e8"/>
<circle cx="382.2" cy="437.3" r="0.94" fill="#e8e8e8"/>
<polygon points="378.1,455.3 381.9,456.0 381.9,464.0 378.1,463.2" fill="#0b0d0d"/>
<circle cx="382.6" cy="457.5" r="0.94" fill="#e8e8e8"/>
<circle cx="382.6" cy="462.8" r="0.94" fill="#e8e8e8"/>
<polygon points="335.0,416.0 337.6,416.6 337.6,425.2 335.0,424.6" fill="#0b0d0d"/>
<circle cx="338.5" cy="418.2" r="0.94" fill="#e8e8e8"/>
<circle cx="338.5" cy="424.0" r="0.94" fill="#e8e8e8"/>
<polygon points="335.2,444.6 337.6,445.1 337.6,456.4 335.2,455.9" fill="#0b0d0d"/>
<circle cx="338.5" cy="446.7" r="0.94" fill="#e8e8e8"/>
<circle cx="338.5" cy="455.2" r="0.94" fill="#e8e8e8"/>
<circle cx="338.3" cy="395.6" r="1.04" fill="#e8e8e8"/>
<circle cx="338.3" cy="402.6" r="1.04" fill="#e8e8e8"/>
<circle cx="375.7" cy="442.8" r="0.79" fill="#222"/>
<circle cx="375.7" cy="420.2" r="0.79" fill="#222"/>
<circle cx="318.4" cy="368.6" r="0.94" fill="#e0e0e0"/>
<circle cx="339.9" cy="374.9" r="0.94" fill="#e0e0e0"/>
<circle cx="359.8" cy="380.7" r="0.94" fill="#e0e0e0"/>
<circle cx="364.2" cy="381.9" r="0.94" fill="#e0e0e0"/>
<circle cx="382.9" cy="387.4" r="0.94" fill="#e0e0e0"/>
<circle cx="401.4" cy="392.9" r="0.94" fill="#e0e0e0"/>
<circle cx="318.4" cy="473.1" r="0.94" fill="#e0e0e0"/>
<circle cx="339.9" cy="476.8" r="0.94" fill="#e0e0e0"/>
<circle cx="359.8" cy="480.2" r="0.94" fill="#e0e0e0"/>
<circle cx="364.2" cy="480.9" r="0.94" fill="#e0e0e0"/>
<circle cx="382.9" cy="484.1" r="0.94" fill="#e0e0e0"/>
<circle cx="401.4" cy="487.3" r="0.94" fill="#e0e0e0"/>
<circle cx="317.9" cy="388.8" r="0.94" fill="#e0e0e0"/>
<circle cx="317.9" cy="395.4" r="0.94" fill="#e0e0e0"/>
<circle cx="317.9" cy="420.1" r="0.94" fill="#e0e0e0"/>
<circle cx="317.9" cy="444.3" r="0.94" fill="#e0e0e0"/>
<circle cx="317.9" cy="450.9" r="0.94" fill="#e0e0e0"/>
<circle cx="400.7" cy="411.5" r="0.94" fill="#e0e0e0"/>
<circle cx="400.7" cy="417.5" r="0.94" fill="#e0e0e0"/>
<circle cx="400.7" cy="439.4" r="0.94" fill="#e0e0e0"/>
<circle cx="400.7" cy="443.3" r="0.94" fill="#e0e0e0"/>
<circle cx="400.7" cy="462.2" r="0.94" fill="#e0e0e0"/>
<circle cx="400.7" cy="468.2" r="0.94" fill="#e0e0e0"/>
<circle cx="322.8" cy="407.8" r="0.84" fill="#e8e8e8"/>
<circle cx="322.8" cy="434.4" r="0.84" fill="#e8e8e8"/>
<circle cx="322.3" cy="469.3" r="0.84" fill="#e8e8e8"/>
<circle cx="398.3" cy="482.7" r="0.84" fill="#e8e8e8"/>
<circle cx="335.2" cy="474.3" r="0.79" fill="#e8e8e8"/>
<circle cx="378.4" cy="481.7" r="0.79" fill="#e8e8e8"/>
<polyline points="360.5,378.8 363.5,383.2" fill="none" stroke="#dedede" stroke-width="0.69" stroke-linecap="round" stroke-linejoin="round"/>
<polyline points="363.5,379.7 360.5,382.3" fill="none" stroke="#dedede" stroke-width="0.69" stroke-linecap="round" stroke-linejoin="round"/>
<polyline points="360.5,478.9 363.5,483.0" fill="none" stroke="#dedede" stroke-width="0.69" stroke-linecap="round" stroke-linejoin="round"/>
<polyline points="363.5,479.4 360.5,482.5" fill="none" stroke="#dedede" stroke-width="0.69" stroke-linecap="round" stroke-linejoin="round"/>
<polyline points="315.2,389.5 318.5,394.1" fill="none" stroke="#dedede" stroke-width="0.69" stroke-linecap="round" stroke-linejoin="round"/>
<polyline points="318.5,390.4 315.2,393.2" fill="none" stroke="#dedede" stroke-width="0.69" stroke-linecap="round" stroke-linejoin="round"/>
<polyline points="315.6,419.2 318.1,422.7" fill="none" stroke="#dedede" stroke-width="0.69" stroke-linecap="round" stroke-linejoin="round"/>
<polyline points="318.1,419.8 315.6,422.1" fill="none" stroke="#dedede" stroke-width="0.69" stroke-linecap="round" stroke-linejoin="round"/>
<polyline points="315.2,445.2 318.5,449.6" fill="none" stroke="#dedede" stroke-width="0.69" stroke-linecap="round" stroke-linejoin="round"/>
<polyline points="318.5,445.9 315.2,449.0" fill="none" stroke="#dedede" stroke-width="0.69" stroke-linecap="round" stroke-linejoin="round"/>
<polyline points="401.2,413.0 403.9,417.0" fill="none" stroke="#dedede" stroke-width="0.69" stroke-linecap="round" stroke-linejoin="round"/>
<polyline points="403.9,413.7 401.2,416.3" fill="none" stroke="#dedede" stroke-width="0.69" stroke-linecap="round" stroke-linejoin="round"/>
<polyline points="401.5,440.2 403.6,443.3" fill="none" stroke="#dedede" stroke-width="0.69" stroke-linecap="round" stroke-linejoin="round"/>
<polyline points="403.6,440.7 401.5,442.8" fill="none" stroke="#dedede" stroke-width="0.69" stroke-linecap="round" stroke-linejoin="round"/>
<polyline points="401.2,463.6 403.9,467.5" fill="none" stroke="#dedede" stroke-width="0.69" stroke-linecap="round" stroke-linejoin="round"/>
<polyline points="403.9,464.1 401.2,467.0" fill="none" stroke="#dedede" stroke-width="0.69" stroke-linecap="round" stroke-linejoin="round"/>
<circle cx="352.2" cy="385.3" r="0.59" fill="#e6f5ec"/>
<circle cx="366.6" cy="389.9" r="0.59" fill="#e6f5ec"/>
<circle cx="352.2" cy="470.1" r="0.59" fill="#e6f5ec"/>
<circle cx="366.6" cy="472.9" r="0.59" fill="#e6f5ec"/>
<polygon points="315.7,475.3 403.5,490.0 403.5,585.5 315.7,585.0" fill="#b9bcbc"/>
<polygon points="316.5,476.2 402.9,490.6 402.9,584.8 316.5,584.2" fill="#0b0d0d"/>
<polygon points="322.0,481.8 399.3,494.1 399.3,581.1 322.0,580.1" fill="#595352"/>
<polygon points="322.9,488.4 334.9,490.2 334.9,515.3 322.9,513.9" fill="#625c5a"/>
<polygon points="322.9,517.7 334.9,519.0 334.9,543.5 322.9,542.7" fill="#625c5a"/>
<polygon points="322.9,548.1 334.9,548.9 334.9,573.4 322.9,573.1" fill="#625c5a"/>
<polygon points="336.5,490.5 351.5,492.7 351.5,515.6 336.5,513.9" fill="#595352"/>
<polygon points="336.5,549.0 351.5,549.9 351.5,573.8 336.5,573.4" fill="#625c5a"/>
<polygon points="368.7,495.3 378.4,496.7 378.4,522.6 368.7,521.6" fill="#78716e"/>
<polygon points="368.7,524.6 378.4,525.6 378.4,548.5 368.7,547.9" fill="#78716e"/>
<polygon points="368.7,551.9 378.4,552.5 378.4,574.4 368.7,574.2" fill="#78716e"/>
<polygon points="379.6,496.9 391.0,498.6 391.0,523.0 379.6,521.8" fill="#78716e"/>
<polygon points="379.6,525.7 391.0,526.9 391.0,549.3 379.6,548.6" fill="#78716e"/>
<polygon points="379.6,552.6 391.0,553.2 391.0,574.7 379.6,574.4" fill="#78716e"/>
<polygon points="322.9,488.4 328.6,489.3 334.9,504.1 334.9,515.3 330.5,514.8" fill="#57504e"/>
<polygon points="322.9,573.1 327.6,559.2 334.9,553.1 334.9,573.4" fill="#5b5452"/>
<polygon points="379.6,521.8 384.6,508.5 391.0,505.5 391.0,523.0" fill="#645c59"/>
<polygon points="368.7,574.2 373.0,561.2 378.4,557.5 378.4,574.4" fill="#6a625f"/>
<polygon points="379.6,574.4 383.8,563.7 391.0,560.1 391.0,574.7" fill="#6a625f"/>
<polygon points="336.5,573.4 340.0,564.0 344.7,573.6" fill="#5b5452"/>
<polyline points="323.7,572.0 333.4,550.9" fill="none" stroke="#4c4644" stroke-width="0.49" stroke-linecap="round" stroke-linejoin="round"/>
<polyline points="337.2,572.4 348.3,553.9" fill="none" stroke="#4c4644" stroke-width="0.49" stroke-linecap="round" stroke-linejoin="round"/>
<polyline points="369.6,546.9 377.2,527.5" fill="none" stroke="#4c4644" stroke-width="0.49" stroke-linecap="round" stroke-linejoin="round"/>
<polyline points="380.5,573.5 389.4,556.1" fill="none" stroke="#4c4644" stroke-width="0.49" stroke-linecap="round" stroke-linejoin="round"/>
<polyline points="380.5,519.9 389.4,501.3" fill="none" stroke="#4c4644" stroke-width="0.49" stroke-linecap="round" stroke-linejoin="round"/>
<polyline points="323.7,512.4 333.4,493.2" fill="none" stroke="#4c4644" stroke-width="0.49" stroke-linecap="round" stroke-linejoin="round"/>
<polygon points="322.0,514.9 399.3,523.4 399.3,524.8 322.0,516.5" fill="#3f3938"/>
<polygon points="322.0,545.7 399.3,550.7 399.3,552.0 322.0,547.2" fill="#3f3938"/>
<polygon points="322.0,531.2 335.3,532.4 335.3,533.4 322.0,532.3" fill="#514a48"/>
<polygon points="368.7,535.7 391.0,537.6 391.0,538.6 368.7,536.8" fill="#5d5553"/>
<polygon points="317.2,479.8 402.4,493.5 402.4,494.7 317.2,481.1" fill="#203234"/>
<polygon points="322.0,481.8 333.7,483.6 331.9,490.7 323.4,489.4" fill="#0b0d0d"/>
<polygon points="336.0,484.0 349.4,486.2 348.0,492.7 337.8,491.5" fill="#0b0d0d"/>
<polygon points="349.4,486.2 351.8,486.5 351.8,489.7 350.0,488.3" fill="#2a2626"/>
<polygon points="368.3,489.2 378.6,490.8 378.6,496.3 370.4,496.1 368.3,493.2" fill="#0b0d0d"/>
<polygon points="379.3,490.9 399.3,494.1 398.1,498.3 382.9,498.4" fill="#0b0d0d"/>
<polygon points="335.2,483.9 336.0,484.0 336.0,580.3 335.2,580.3" fill="#0b0d0d"/>
<polygon points="378.6,490.8 379.3,490.9 379.3,580.9 378.6,580.9" fill="#0b0d0d"/>
<polygon points="316.9,479.9 322.0,480.7 322.0,580.7 316.9,580.6" fill="#0b0d0d"/>
<polygon points="317.8,483.3 319.6,483.6 319.6,513.0 317.8,512.8" fill="#203234"/>
<polygon points="317.8,519.4 319.6,519.6 319.6,543.6 317.8,543.5" fill="#203234"/>
<polygon points="317.8,550.0 319.6,550.1 319.6,578.5 317.8,578.5" fill="#203234"/>
<polygon points="316.9,513.8 322.0,514.4 322.0,518.7 316.9,518.2" fill="#2f3030"/>
<polygon points="316.9,543.9 322.0,544.3 322.0,548.6 316.9,548.3" fill="#3c3a3a"/>
<polygon points="391.5,496.1 398.3,497.1 398.3,508.8 391.5,507.9" fill="#1a1817"/>
<polygon points="391.5,507.9 398.3,508.8 398.3,512.2 391.5,511.4" fill="#2b2423"/>
<polygon points="391.5,515.8 400.0,516.8 400.0,521.6 391.5,520.6" fill="#3b2f2d"/>
<polygon points="391.5,523.1 398.5,523.8 398.5,546.9 391.5,546.5" fill="#201e1e"/>
<polygon points="391.5,547.4 400.2,548.0 400.2,552.3 391.5,551.8" fill="#3b2f2d"/>
<polygon points="391.5,554.7 399.1,555.2 399.1,577.8 391.5,577.6" fill="#2b2929"/>
<polygon points="399.1,494.1 402.7,494.6 402.7,581.7 399.1,581.6" fill="#0d1010"/>
<polygon points="400.0,497.1 401.2,497.3 401.2,579.7 400.0,579.7" fill="#1c2424"/>
<polygon points="316.9,579.9 402.7,581.0 402.7,584.5 316.9,583.9" fill="#0b0d0d"/>
<polygon points="319.3,580.7 322.2,572.3 331.3,571.7 334.3,578.2 338.8,580.5" fill="#0b0d0d"/>
<polygon points="339.3,580.4 340.5,573.1 344.7,572.6 345.9,580.5" fill="#0b0d0d"/>
<polygon points="349.4,580.5 351.3,575.3 367.8,576.2 369.6,580.8" fill="#0b0d0d"/>
<polygon points="370.7,580.8 371.9,573.0 376.1,573.3 377.9,580.9" fill="#0b0d0d"/>
<polygon points="382.0,580.9 383.9,573.2 394.3,573.6 399.3,581.1" fill="#0b0d0d"/>
<polygon points="323.2,574.5 330.7,573.7 332.4,576.5 322.2,577.4" fill="#222a2a"/>
<polygon points="384.6,575.1 393.6,575.4 395.8,578.2 383.8,578.0" fill="#222a2a"/>
<polyline points="316.9,514.6 317.6,514.5 318.6,514.5 319.7,514.4 321.0,514.2 322.2,513.8 323.4,513.2 324.5,512.4 325.6,511.3 326.7,510.1 327.8,508.7 328.9,507.4 329.9,506.1 330.9,504.9 331.9,503.6 332.9,502.3 333.8,501.0 334.8,499.8 335.8,498.8 336.7,497.9 337.6,497.2 338.5,496.5 339.4,496.0 340.5,495.4 341.7,494.9 343.3,494.5 345.2,494.1 347.1,493.8 349.0,493.5 350.7,493.3 351.8,493.1" fill="none" stroke="#0b0d0d" stroke-width="2.27" stroke-linecap="round" stroke-linejoin="round"/>
<polyline points="316.9,517.3 317.9,517.3 319.2,517.2 320.8,517.1 322.4,516.9 324.0,516.6 325.3,516.1 326.5,515.3 327.5,514.3 328.5,513.2 329.4,511.9 330.4,510.7 331.3,509.5 332.2,508.3 333.0,507.1 333.9,505.8 334.7,504.6 335.6,503.5 336.4,502.5 337.3,501.6 338.2,500.9 339.0,500.2 339.9,499.6 340.8,499.1 341.7,498.6 342.7,498.3 343.7,498.0 344.7,497.9 345.7,497.7 346.6,497.6 347.5,497.6 348.4,497.5 349.2,497.5 350.0,497.6 350.7,497.7 351.3,497.7 351.8,497.8" fill="none" stroke="#0b0d0d" stroke-width="2.27" stroke-linecap="round" stroke-linejoin="round"/>
<polyline points="321.7,512.7 322.2,512.6 323.0,512.4 323.9,512.2 324.8,511.9 325.7,511.3 326.6,510.6 327.4,509.5 328.2,508.2 329.0,506.6 329.8,505.0 330.6,503.5 331.5,502.0 332.3,500.7 333.2,499.3 334.2,498.0 335.1,496.8 336.1,495.7 337.2,494.8 338.4,494.2 339.8,493.8 341.3,493.6 342.7,493.5 343.8,493.4 344.7,493.3" fill="none" stroke="#0b0d0d" stroke-width="1.48" stroke-linecap="round" stroke-linejoin="round"/>
<polygon points="351.8,489.2 368.3,491.8 368.3,576.0 351.8,575.7" fill="#2d9c5f"/>
<polygon points="351.8,489.2 368.3,491.8 368.3,503.3 351.8,501.1" fill="#4ba675"/>
<polygon points="351.8,501.1 368.3,503.3 368.3,514.5 351.8,512.5" fill="#47a672"/>
<polygon points="351.8,512.5 368.3,514.5 368.3,522.6 351.8,520.8" fill="#62b48a"/>
<polygon points="351.8,520.8 368.3,522.6 368.3,529.6 351.8,528.1" fill="#6ab990"/>
<polygon points="351.8,528.1 368.3,529.6 368.3,538.7 351.8,537.4" fill="#48a876"/>
<polygon points="351.8,537.4 368.3,538.7 368.3,552.9 351.8,552.0" fill="#2a9c60"/>
<polygon points="351.8,552.0 368.3,552.9 368.3,565.1 351.8,564.4" fill="#239a52"/>
<polygon points="351.8,564.4 368.3,565.1 368.3,576.0 351.8,575.7" fill="#1a964c"/>
<polygon points="354.5,501.8 367.2,503.5 367.2,513.5 354.5,512.0" fill="#0a0a0a"/>
<circle cx="357.4" cy="504.1" r="0.99" fill="#f4f4f4"/>
<circle cx="365.3" cy="505.2" r="0.99" fill="#f4f4f4"/>
<circle cx="357.4" cy="510.4" r="0.99" fill="#f4f4f4"/>
<circle cx="365.3" cy="511.4" r="0.99" fill="#f4f4f4"/>
<polyline points="358.8,505.0 363.9,510.4" fill="none" stroke="#c4c4c4" stroke-width="0.89" stroke-linecap="round" stroke-linejoin="round"/>
<polyline points="363.9,505.7 358.8,509.8" fill="none" stroke="#c4c4c4" stroke-width="0.89" stroke-linecap="round" stroke-linejoin="round"/>
<polyline points="361.4,504.8 361.4,510.7" fill="none" stroke="#b0b0b0" stroke-width="0.79" stroke-linecap="round" stroke-linejoin="round"/>
<polyline points="358.8,507.4 363.9,508.1" fill="none" stroke="#9a9a9a" stroke-width="0.59" stroke-linecap="round" stroke-linejoin="round"/>
<polygon points="356.3,528.5 364.8,529.3 364.8,537.7 356.3,537.0" fill="#0a0a0a"/>
<circle cx="358.6" cy="530.3" r="0.84" fill="#f4f4f4"/>
<circle cx="363.4" cy="530.7" r="0.84" fill="#f4f4f4"/>
<circle cx="358.6" cy="535.6" r="0.84" fill="#f4f4f4"/>
<circle cx="363.4" cy="536.0" r="0.84" fill="#f4f4f4"/>
<polyline points="359.1,531.2 362.9,535.1" fill="none" stroke="#c4c4c4" stroke-width="0.89" stroke-linecap="round" stroke-linejoin="round"/>
<polyline points="362.9,531.5 359.1,534.8" fill="none" stroke="#c4c4c4" stroke-width="0.89" stroke-linecap="round" stroke-linejoin="round"/>
<polyline points="361.0,530.9 361.0,535.4" fill="none" stroke="#b0b0b0" stroke-width="0.79" stroke-linecap="round" stroke-linejoin="round"/>
<polyline points="359.1,533.0 362.9,533.3" fill="none" stroke="#9a9a9a" stroke-width="0.59" stroke-linecap="round" stroke-linejoin="round"/>
<polygon points="354.5,552.7 367.5,553.5 367.5,564.6 354.5,564.1" fill="#0a0a0a"/>
<circle cx="357.4" cy="554.9" r="0.99" fill="#f4f4f4"/>
<circle cx="365.6" cy="555.3" r="0.99" fill="#f4f4f4"/>
<circle cx="357.4" cy="562.3" r="0.99" fill="#f4f4f4"/>
<circle cx="365.6" cy="562.6" r="0.99" fill="#f4f4f4"/>
<polyline points="358.9,556.3 364.0,561.3" fill="none" stroke="#c4c4c4" stroke-width="0.89" stroke-linecap="round" stroke-linejoin="round"/>
<polyline points="364.0,556.5 358.9,561.0" fill="none" stroke="#c4c4c4" stroke-width="0.89" stroke-linecap="round" stroke-linejoin="round"/>
<polyline points="361.5,555.8 361.5,561.7" fill="none" stroke="#b0b0b0" stroke-width="0.79" stroke-linecap="round" stroke-linejoin="round"/>
<polyline points="358.9,558.6 364.0,558.9" fill="none" stroke="#9a9a9a" stroke-width="0.59" stroke-linecap="round" stroke-linejoin="round"/>
<polygon points="352.5,502.0 354.0,502.2 354.0,511.4 352.5,511.2" fill="#174c30"/>
<polygon points="352.5,553.0 354.0,553.1 354.0,563.5 352.5,563.4" fill="#174c30"/>
<polygon points="355.1,502.6 356.0,502.7 356.0,511.5 355.1,511.3" fill="#8a8f8c"/>
<polygon points="355.1,553.5 356.0,553.6 356.0,563.6 355.1,563.5" fill="#8a8f8c"/>
<polygon points="356.9,538.4 364.4,538.9 364.4,541.3 356.9,540.7" fill="#a8dcc0"/>
<circle cx="358.2" cy="539.6" r="0.69" fill="#eef"/>
<circle cx="360.9" cy="539.8" r="0.69" fill="#eef"/>
<circle cx="363.5" cy="540.0" r="0.69" fill="#eef"/>
<polygon points="337.0,512.9 339.1,513.1 339.1,548.1 337.0,547.9" fill="#0d0d0d"/>
<polygon points="338.9,514.5 354.5,516.2 354.5,547.0 338.9,545.9" fill="#e6e6e3"/>
<polygon points="338.9,514.5 354.5,516.2 354.5,521.9 338.9,520.3" fill="#cfcfcc"/>
<polygon points="340.5,516.7 352.9,518.0 352.9,519.1 340.5,517.7" fill="#9a9a98"/>
<polygon points="338.9,540.1 354.5,541.3 354.5,547.0 338.9,545.9" fill="#c2c2c0"/>
<polygon points="338.9,514.5 339.9,514.6 339.9,546.0 338.9,545.9" fill="#a9a9a7"/>
<polygon points="341.5,521.8 342.6,521.9 342.6,523.7 341.5,523.6" fill="#333333"/>
<polygon points="341.5,524.3 342.6,524.4 342.6,526.2 341.5,526.1" fill="#333333"/>
<polygon points="341.5,526.8 342.6,526.9 342.6,528.7 341.5,528.6" fill="#333333"/>
<polygon points="341.5,529.4 342.6,529.5 342.6,531.3 341.5,531.2" fill="#333333"/>
<polygon points="341.5,531.9 342.6,532.0 342.6,533.8 341.5,533.7" fill="#333333"/>
<polygon points="341.5,534.4 342.6,534.5 342.6,536.3 341.5,536.2" fill="#333333"/>
<polygon points="341.5,537.0 342.6,537.1 342.6,538.9 341.5,538.8" fill="#333333"/>
<polygon points="344.2,522.1 345.3,522.2 345.3,524.0 344.2,523.8" fill="#333333"/>
<polygon points="344.2,524.6 345.3,524.7 345.3,526.5 344.2,526.4" fill="#333333"/>
<polygon points="344.2,527.1 345.3,527.2 345.3,529.0 344.2,528.9" fill="#333333"/>
<polygon points="344.2,529.6 345.3,529.7 345.3,531.5 344.2,531.4" fill="#333333"/>
<polygon points="344.2,532.1 345.3,532.2 345.3,534.0 344.2,533.9" fill="#333333"/>
<polygon points="344.2,534.7 345.3,534.8 345.3,536.5 344.2,536.5" fill="#333333"/>
<polygon points="344.2,537.2 345.3,537.3 345.3,539.1 344.2,539.0" fill="#333333"/>
<polygon points="346.9,522.3 348.0,522.4 348.0,524.2 346.9,524.1" fill="#333333"/>
<polygon points="346.9,524.8 348.0,525.0 348.0,526.7 346.9,526.6" fill="#333333"/>
<polygon points="346.9,527.4 348.0,527.5 348.0,529.2 346.9,529.1" fill="#8a8f60"/>
<polygon points="346.9,529.9 348.0,530.0 348.0,531.7 346.9,531.6" fill="#8a8f60"/>
<polygon points="346.9,532.4 348.0,532.5 348.0,534.2 346.9,534.2" fill="#8a8f60"/>
<polygon points="346.9,534.9 348.0,535.0 348.0,536.8 346.9,536.7" fill="#333333"/>
<polygon points="346.9,537.4 348.0,537.5 348.0,539.3 346.9,539.2" fill="#333333"/>
<polygon points="349.5,522.6 350.6,522.7 350.6,524.5 349.5,524.4" fill="#cdb85e"/>
<polygon points="349.5,525.1 350.6,525.2 350.6,527.0 349.5,526.9" fill="#cdb85e"/>
<polygon points="349.5,527.6 350.6,527.7 350.6,529.5 349.5,529.4" fill="#cdb85e"/>
<polygon points="349.5,530.1 350.6,530.2 350.6,532.0 349.5,531.9" fill="#cdb85e"/>
<polygon points="349.5,532.6 350.6,532.7 350.6,534.5 349.5,534.4" fill="#cdb85e"/>
<polygon points="349.5,535.1 350.6,535.2 350.6,537.0 349.5,536.9" fill="#333333"/>
<polygon points="349.5,537.6 350.6,537.7 350.6,539.5 349.5,539.4" fill="#333333"/>
<polygon points="352.2,522.9 353.2,523.0 353.2,524.7 352.2,524.6" fill="#333333"/>
<polygon points="352.2,525.4 353.2,525.5 353.2,527.2 352.2,527.1" fill="#333333"/>
<polygon points="352.2,527.9 353.2,528.0 353.2,529.7 352.2,529.6" fill="#333333"/>
<polygon points="352.2,530.3 353.2,530.4 353.2,532.2 352.2,532.1" fill="#333333"/>
<polygon points="352.2,532.8 353.2,532.9 353.2,534.7 352.2,534.6" fill="#333333"/>
<polygon points="352.2,535.3 353.2,535.4 353.2,537.2 352.2,537.1" fill="#333333"/>
<polygon points="352.2,537.8 353.2,537.9 353.2,539.7 352.2,539.6" fill="#333333"/>
<polygon points="340.2,512.9 349.1,514.0 349.1,515.9 340.2,514.9" fill="#0c0c0c"/>
<polygon points="340.9,511.0 342.0,511.1 342.0,513.7 340.9,513.5" fill="#1b4fb4"/>
<circle cx="341.4" cy="514.3" r="0.35" fill="#cfcfcf"/>
<polygon points="342.5,511.2 343.6,511.3 343.6,513.8 342.5,513.7" fill="#1b4fb4"/>
<circle cx="343.1" cy="514.5" r="0.35" fill="#cfcfcf"/>
<polygon points="344.2,511.4 345.3,511.5 345.3,514.0 344.2,513.9" fill="#1b4fb4"/>
<circle cx="344.8" cy="514.7" r="0.35" fill="#cfcfcf"/>
<polygon points="345.9,511.6 347.0,511.7 347.0,514.2 345.9,514.1" fill="#1b4fb4"/>
<circle cx="346.4" cy="514.9" r="0.35" fill="#cfcfcf"/>
<polygon points="347.5,511.8 348.6,511.9 348.6,514.4 347.5,514.3" fill="#1b4fb4"/>
<circle cx="348.1" cy="515.1" r="0.35" fill="#cfcfcf"/>
<polygon points="340.7,545.8 353.8,546.7 353.8,549.0 340.7,548.2" fill="#0c0c0c"/>
<polygon points="341.9,547.8 343.0,547.9 343.0,551.0 341.9,551.0" fill="#1b4fb4"/>
<circle cx="342.4" cy="547.0" r="0.35" fill="#cfcfcf"/>
<polygon points="343.6,547.9 344.7,548.0 344.7,551.1 343.6,551.1" fill="#1b4fb4"/>
<circle cx="344.1" cy="547.1" r="0.35" fill="#cfcfcf"/>
<polygon points="345.2,548.0 346.3,548.1 346.3,551.2 345.2,551.2" fill="#1b4fb4"/>
<circle cx="345.8" cy="547.2" r="0.35" fill="#cfcfcf"/>
<polygon points="346.9,548.1 348.0,548.2 348.0,551.3 346.9,551.3" fill="#1b4fb4"/>
<circle cx="347.4" cy="547.3" r="0.35" fill="#cfcfcf"/>
<polygon points="348.5,548.2 349.6,548.3 349.6,551.4 348.5,551.4" fill="#1b4fb4"/>
<circle cx="349.1" cy="547.4" r="0.35" fill="#cfcfcf"/>
<polygon points="350.2,548.3 351.3,548.4 351.3,551.5 350.2,551.5" fill="#1b4fb4"/>
<circle cx="350.7" cy="547.5" r="0.35" fill="#cfcfcf"/>
<polygon points="351.8,548.4 352.9,548.5 352.9,551.6 351.8,551.6" fill="#1b4fb4"/>
<circle cx="352.3" cy="547.6" r="0.35" fill="#cfcfcf"/>
<polyline points="342.3,513.0 342.2,512.2 342.1,511.1 341.9,509.7 341.7,508.4 341.6,507.1 341.5,506.0 341.5,505.1 341.6,504.4 341.7,503.7 341.8,503.0 341.9,502.4 342.1,501.9 342.2,501.3 342.4,500.8 342.6,500.3 342.7,499.9 342.9,499.6 343.0,499.3" fill="none" stroke="#dba21c" stroke-width="0.99" stroke-linecap="round" stroke-linejoin="round"/>
<polyline points="345.1,513.3 345.1,512.6 345.0,511.7 345.0,510.7 344.9,509.5 344.9,508.4 344.8,507.5 344.9,506.6 345.0,505.7 345.1,504.8 345.2,504.0 345.3,503.3 345.4,502.8" fill="none" stroke="#2c3f9e" stroke-width="0.89" stroke-linecap="round" stroke-linejoin="round"/>
<polyline points="347.2,513.5 347.3,512.9 347.3,512.0 347.4,510.9 347.4,509.8 347.4,508.7 347.4,507.8 347.4,507.0 347.3,506.1 347.2,505.3 347.1,504.6 347.0,504.0 347.0,503.6" fill="none" stroke="#2c3f9e" stroke-width="0.89" stroke-linecap="round" stroke-linejoin="round"/>
<polyline points="345.6,551.1 345.2,552.3 345.0,553.6 344.9,554.9 344.9,556.2 345.0,557.5 345.2,558.7 345.5,559.9 346.0,561.1 346.5,562.1 347.1,563.1 347.8,563.9 348.7,564.5 349.6,565.1 350.6,565.4" fill="none" stroke="#c81e2b" stroke-width="1.19" stroke-linecap="round" stroke-linejoin="round"/>
<polyline points="347.9,551.2 347.5,552.2 347.3,553.2 347.2,554.3 347.2,555.3 347.2,556.3 347.4,557.2 347.6,558.1 347.9,558.9 348.3,559.7 348.7,560.3 349.2,560.8 349.8,561.1 350.4,561.3 351.1,561.3" fill="none" stroke="#c81e2b" stroke-width="1.19" stroke-linecap="round" stroke-linejoin="round"/>
<polyline points="350.2,551.4 350.4,552.1 350.5,552.9 350.6,553.7 350.5,554.4 350.4,555.0 350.2,555.6 349.9,556.0 349.6,556.4 349.2,556.7 348.8,556.8 348.4,556.8 347.9,556.7 347.5,556.4 347.0,555.9" fill="none" stroke="#c81e2b" stroke-width="1.09" stroke-linecap="round" stroke-linejoin="round"/>
<polyline points="342.8,550.9 342.5,552.6 342.3,554.3 342.4,556.0 342.5,557.6 342.8,559.2 343.3,560.7 343.9,562.1 344.6,563.4 345.4,564.5 346.3,565.5 347.4,566.3 348.5,567.0 349.8,567.4 351.1,567.5" fill="none" stroke="#0b0d0d" stroke-width="1.09" stroke-linecap="round" stroke-linejoin="round"/>
<polyline points="368.1,495.5 368.5,495.6 369.2,495.8 369.9,495.9 370.7,496.1 371.4,496.4 372.1,496.6 372.7,496.9 373.2,497.1 373.7,497.4 374.2,497.8 374.7,498.2 375.1,498.8 375.6,499.5 376.2,500.3 376.7,501.3 377.1,502.3 377.6,503.3 377.9,504.3 378.1,505.4 378.3,506.6 378.4,507.8 378.5,509.0 378.6,510.2 378.7,511.2 378.9,512.2 379.1,513.1 379.3,514.0 379.5,514.9 379.7,515.7 380.0,516.4 380.3,517.2 380.6,517.9 380.9,518.6 381.3,519.3 381.7,519.9 382.1,520.6 382.6,521.2 383.0,521.8 383.6,522.3 384.1,522.9 384.5,523.4 384.9,523.8 385.2,524.3 385.5,524.7 385.7,525.1 385.9,525.4 386.1,525.7 386.2,525.9" fill="none" stroke="#0b0d0d" stroke-width="1.48" stroke-linecap="round" stroke-linejoin="round"/>
<polyline points="368.3,503.2 368.6,503.5 369.0,503.8 369.4,504.2 369.9,504.6 370.3,505.1 370.7,505.7 370.9,506.2 371.0,506.8 371.1,507.5 371.1,508.2 371.1,509.0 371.1,509.8 371.0,510.6 370.8,511.6 370.6,512.5 370.4,513.6 370.2,514.6 370.1,515.7 369.9,516.8 369.8,518.0 369.7,519.2 369.6,520.4 369.5,521.6 369.5,522.7 369.4,523.8 369.3,524.9 369.2,525.9 369.1,527.0 369.1,527.9 369.1,528.7 369.2,529.4 369.4,530.1 369.5,530.6 369.8,531.1 370.0,531.5 370.4,531.9 370.8,532.1 371.3,532.3 371.8,532.4 372.4,532.5 373.1,532.4 373.8,532.4 374.6,532.2 375.6,532.0 376.6,531.7 377.7,531.4 378.7,531.1 379.6,530.7 380.6,530.3 381.6,529.9 382.6,529.5 383.6,529.1 384.3,528.7 384.9,528.5" fill="none" stroke="#0b0d0d" stroke-width="1.68" stroke-linecap="round" stroke-linejoin="round"/>
<polyline points="388.6,527.0 389.1,526.8 389.9,526.5 390.8,526.2 391.7,525.8 392.6,525.5 393.4,525.2 394.1,525.0 394.7,524.8 395.4,524.6 396.0,524.5 396.7,524.3 397.4,524.2 398.3,524.1 399.3,523.9 400.3,523.8 401.3,523.7 402.1,523.6 402.7,523.5" fill="none" stroke="#0b0d0d" stroke-width="1.78" stroke-linecap="round" stroke-linejoin="round"/>
<polygon points="384.2,526.8 388.4,525.5 389.1,528.5 385.2,529.8" fill="#c9994f"/>
<polygon points="377.6,506.6 381.5,507.1 381.5,514.1 377.6,513.6" fill="#0b0d0d"/>
<circle cx="382.3" cy="508.5" r="0.94" fill="#e8e8e8"/>
<circle cx="382.3" cy="512.9" r="0.94" fill="#e8e8e8"/>
<polygon points="378.2,531.1 382.0,531.4 382.0,538.9 378.2,538.6" fill="#0b0d0d"/>
<circle cx="382.7" cy="532.8" r="0.94" fill="#e8e8e8"/>
<circle cx="382.7" cy="537.6" r="0.94" fill="#e8e8e8"/>
<polygon points="378.6,555.7 382.4,555.9 382.4,563.6 378.6,563.5" fill="#0b0d0d"/>
<circle cx="383.1" cy="557.2" r="0.94" fill="#e8e8e8"/>
<circle cx="383.1" cy="562.4" r="0.94" fill="#e8e8e8"/>
<polygon points="335.5,523.3 338.1,523.6 338.1,532.1 335.5,531.9" fill="#0b0d0d"/>
<circle cx="339.0" cy="525.1" r="0.94" fill="#e8e8e8"/>
<circle cx="339.0" cy="530.8" r="0.94" fill="#e8e8e8"/>
<polygon points="335.7,551.6 338.1,551.7 338.1,562.9 335.7,562.8" fill="#0b0d0d"/>
<circle cx="339.0" cy="553.1" r="0.94" fill="#e8e8e8"/>
<circle cx="339.0" cy="561.5" r="0.94" fill="#e8e8e8"/>
<circle cx="338.8" cy="502.8" r="1.04" fill="#e8e8e8"/>
<circle cx="338.8" cy="509.7" r="1.04" fill="#e8e8e8"/>
<circle cx="376.3" cy="543.9" r="0.79" fill="#222"/>
<circle cx="376.3" cy="521.9" r="0.79" fill="#222"/>
<circle cx="318.5" cy="478.5" r="0.94" fill="#e0e0e0"/>
<circle cx="340.5" cy="482.1" r="0.94" fill="#e0e0e0"/>
<circle cx="360.4" cy="485.4" r="0.94" fill="#e0e0e0"/>
<circle cx="364.8" cy="486.1" r="0.94" fill="#e0e0e0"/>
<circle cx="383.3" cy="489.1" r="0.94" fill="#e0e0e0"/>
<circle cx="401.4" cy="492.0" r="0.94" fill="#e0e0e0"/>
<circle cx="318.5" cy="582.4" r="0.94" fill="#e0e0e0"/>
<circle cx="340.5" cy="582.6" r="0.94" fill="#e0e0e0"/>
<circle cx="360.4" cy="582.8" r="0.94" fill="#e0e0e0"/>
<circle cx="364.8" cy="582.8" r="0.94" fill="#e0e0e0"/>
<circle cx="383.3" cy="583.0" r="0.94" fill="#e0e0e0"/>
<circle cx="401.4" cy="583.2" r="0.94" fill="#e0e0e0"/>
<circle cx="318.0" cy="498.6" r="0.94" fill="#e0e0e0"/>
<circle cx="318.0" cy="505.2" r="0.94" fill="#e0e0e0"/>
<circle cx="318.0" cy="529.8" r="0.94" fill="#e0e0e0"/>
<circle cx="318.0" cy="553.9" r="0.94" fill="#e0e0e0"/>
<circle cx="318.0" cy="560.4" r="0.94" fill="#e0e0e0"/>
<circle cx="400.8" cy="510.2" r="0.94" fill="#e0e0e0"/>
<circle cx="400.8" cy="515.9" r="0.94" fill="#e0e0e0"/>
<circle cx="400.8" cy="537.0" r="0.94" fill="#e0e0e0"/>
<circle cx="400.8" cy="540.9" r="0.94" fill="#e0e0e0"/>
<circle cx="400.8" cy="559.1" r="0.94" fill="#e0e0e0"/>
<circle cx="400.8" cy="564.9" r="0.94" fill="#e0e0e0"/>
<circle cx="323.0" cy="516.9" r="0.84" fill="#e8e8e8"/>
<circle cx="323.0" cy="543.3" r="0.84" fill="#e8e8e8"/>
<circle cx="322.5" cy="578.0" r="0.84" fill="#e8e8e8"/>
<circle cx="398.5" cy="579.2" r="0.84" fill="#e8e8e8"/>
<circle cx="335.7" cy="580.9" r="0.79" fill="#e8e8e8"/>
<circle cx="379.0" cy="581.4" r="0.79" fill="#e8e8e8"/>
<polyline points="361.1,483.4 364.1,487.4" fill="none" stroke="#dedede" stroke-width="0.69" stroke-linecap="round" stroke-linejoin="round"/>
<polyline points="364.1,483.9 361.1,486.9" fill="none" stroke="#dedede" stroke-width="0.69" stroke-linecap="round" stroke-linejoin="round"/>
<polyline points="361.1,581.5 364.1,585.0" fill="none" stroke="#dedede" stroke-width="0.69" stroke-linecap="round" stroke-linejoin="round"/>
<polyline points="364.1,581.5 361.1,585.0" fill="none" stroke="#dedede" stroke-width="0.69" stroke-linecap="round" stroke-linejoin="round"/>
<polyline points="315.2,499.7 318.6,503.9" fill="none" stroke="#dedede" stroke-width="0.69" stroke-linecap="round" stroke-linejoin="round"/>
<polyline points="318.6,500.1 315.2,503.4" fill="none" stroke="#dedede" stroke-width="0.69" stroke-linecap="round" stroke-linejoin="round"/>
<polyline points="315.6,529.3 318.2,532.3" fill="none" stroke="#dedede" stroke-width="0.69" stroke-linecap="round" stroke-linejoin="round"/>
<polyline points="318.2,529.5 315.6,532.1" fill="none" stroke="#dedede" stroke-width="0.69" stroke-linecap="round" stroke-linejoin="round"/>
<polyline points="315.2,555.1 318.6,559.0" fill="none" stroke="#dedede" stroke-width="0.69" stroke-linecap="round" stroke-linejoin="round"/>
<polyline points="318.6,555.3 315.2,558.9" fill="none" stroke="#dedede" stroke-width="0.69" stroke-linecap="round" stroke-linejoin="round"/>
<polyline points="401.3,511.5 403.9,515.1" fill="none" stroke="#dedede" stroke-width="0.69" stroke-linecap="round" stroke-linejoin="round"/>
<polyline points="403.9,511.8 401.3,514.7" fill="none" stroke="#dedede" stroke-width="0.69" stroke-linecap="round" stroke-linejoin="round"/>
<polyline points="401.6,537.8 403.6,540.4" fill="none" stroke="#dedede" stroke-width="0.69" stroke-linecap="round" stroke-linejoin="round"/>
<polyline points="403.6,537.9 401.6,540.3" fill="none" stroke="#dedede" stroke-width="0.69" stroke-linecap="round" stroke-linejoin="round"/>
<polyline points="401.3,560.4 403.9,563.7" fill="none" stroke="#dedede" stroke-width="0.69" stroke-linecap="round" stroke-linejoin="round"/>
<polyline points="403.9,560.5 401.3,563.6" fill="none" stroke="#dedede" stroke-width="0.69" stroke-linecap="round" stroke-linejoin="round"/>
<circle cx="352.9" cy="490.9" r="0.59" fill="#e6f5ec"/>
<circle cx="367.2" cy="493.6" r="0.59" fill="#e6f5ec"/>
<circle cx="352.9" cy="574.1" r="0.59" fill="#e6f5ec"/>
<circle cx="367.2" cy="574.7" r="0.59" fill="#e6f5ec"/>
<polygon points="403.5,391.0 482.0,413.0 482.0,499.0 403.5,490.0" fill="#b9bcbc"/>
<polygon points="404.2,391.9 481.5,413.4 481.5,498.3 404.2,489.4" fill="#0b0d0d"/>
<polygon points="409.1,397.5 478.2,416.3 478.2,494.7 409.1,486.2" fill="#595352"/>
<polygon points="409.9,403.6 420.7,406.4 420.7,429.0 409.9,426.6" fill="#625c5a"/>
<polygon points="409.9,430.0 420.7,432.4 420.7,454.5 409.9,452.5" fill="#625c5a"/>
<polygon points="409.9,457.4 420.7,459.3 420.7,481.4 409.9,480.0" fill="#625c5a"/>
<polygon points="422.1,406.8 435.6,410.3 435.6,430.9 422.1,427.9" fill="#595352"/>
<polygon points="422.1,459.5 435.6,461.8 435.6,483.4 422.1,481.6" fill="#625c5a"/>
<polygon points="450.9,414.3 459.6,416.6 459.6,439.9 450.9,438.0" fill="#78716e"/>
<polygon points="450.9,440.7 459.6,442.6 459.6,463.2 450.9,461.7" fill="#78716e"/>
<polygon points="450.9,465.4 459.6,466.8 459.6,486.6 450.9,485.4" fill="#78716e"/>
<polygon points="460.7,416.9 470.9,419.5 470.9,441.5 460.7,439.3" fill="#78716e"/>
<polygon points="460.7,442.8 470.9,445.0 470.9,465.2 460.7,463.4" fill="#78716e"/>
<polygon points="460.7,467.0 470.9,468.7 470.9,488.1 460.7,486.7" fill="#78716e"/>
<polygon points="409.9,403.6 415.0,404.9 420.7,418.9 420.7,429.0 416.8,428.1" fill="#57504e"/>
<polygon points="409.9,480.0 414.2,467.9 420.7,463.1 420.7,481.4" fill="#5b5452"/>
<polygon points="460.7,439.3 465.1,427.8 470.9,425.7 470.9,441.5" fill="#645c59"/>
<polygon points="450.9,485.4 454.7,474.1 459.6,471.3 459.6,486.6" fill="#6a625f"/>
<polygon points="460.7,486.7 464.4,477.4 470.9,474.9 470.9,488.1" fill="#6a625f"/>
<polygon points="422.1,481.6 425.3,473.4 429.4,482.6" fill="#5b5452"/>
<polyline points="410.6,479.1 419.3,461.0" fill="none" stroke="#4c4644" stroke-width="0.44" stroke-linecap="round" stroke-linejoin="round"/>
<polyline points="422.7,480.7 432.7,465.1" fill="none" stroke="#4c4644" stroke-width="0.44" stroke-linecap="round" stroke-linejoin="round"/>
<polyline points="451.7,460.9 458.5,444.2" fill="none" stroke="#4c4644" stroke-width="0.44" stroke-linecap="round" stroke-linejoin="round"/>
<polyline points="461.4,485.9 469.4,471.1" fill="none" stroke="#4c4644" stroke-width="0.44" stroke-linecap="round" stroke-linejoin="round"/>
<polyline points="461.4,437.6 469.4,421.8" fill="none" stroke="#4c4644" stroke-width="0.44" stroke-linecap="round" stroke-linejoin="round"/>
<polyline points="410.6,425.3 419.3,408.9" fill="none" stroke="#4c4644" stroke-width="0.44" stroke-linecap="round" stroke-linejoin="round"/>
<polygon points="409.1,427.4 478.2,442.7 478.2,443.9 409.1,428.8" fill="#3f3938"/>
<polygon points="409.1,455.1 478.2,467.2 478.2,468.4 409.1,456.5" fill="#3f3938"/>
<polygon points="409.1,442.1 421.0,444.4 421.0,445.4 409.1,443.1" fill="#514a48"/>
<polygon points="450.9,450.8 470.9,454.7 470.9,455.6 450.9,451.7" fill="#5d5553"/>
<polygon points="404.9,395.2 481.0,416.1 481.0,417.1 404.9,396.4" fill="#203234"/>
<polygon points="409.1,397.5 419.6,400.3 418.0,406.5 410.4,404.5" fill="#0b0d0d"/>
<polygon points="421.7,400.9 433.7,404.2 432.4,409.9 423.2,407.8" fill="#0b0d0d"/>
<polygon points="433.7,404.2 435.8,404.7 435.8,407.5 434.2,406.2" fill="#2a2626"/>
<polygon points="450.5,408.7 459.8,411.3 459.8,416.2 452.5,415.2 450.5,412.4" fill="#0b0d0d"/>
<polygon points="460.4,411.4 478.2,416.3 477.2,419.9 463.6,418.5" fill="#0b0d0d"/>
<polygon points="421.0,400.7 421.7,400.9 421.7,487.8 421.0,487.7" fill="#0b0d0d"/>
<polygon points="459.8,411.3 460.4,411.4 460.4,492.5 459.8,492.4" fill="#0b0d0d"/>
<polygon points="404.6,395.3 409.1,396.5 409.1,486.7 404.6,486.2" fill="#0b0d0d"/>
<polygon points="405.4,398.4 407.0,398.9 407.0,425.4 405.4,425.1" fill="#203234"/>
<polygon points="405.4,431.0 407.0,431.3 407.0,453.0 405.4,452.7" fill="#203234"/>
<polygon points="405.4,458.6 407.0,458.9 407.0,484.5 405.4,484.3" fill="#203234"/>
<polygon points="404.6,425.9 409.1,426.9 409.1,430.8 404.6,429.8" fill="#2f3030"/>
<polygon points="404.6,453.1 409.1,453.9 409.1,457.8 404.6,457.0" fill="#3c3a3a"/>
<polygon points="471.3,417.3 477.3,418.9 477.3,429.4 471.3,427.9" fill="#1a1817"/>
<polygon points="471.3,427.9 477.3,429.4 477.3,432.5 471.3,431.1" fill="#2b2423"/>
<polygon points="471.3,435.0 478.9,436.8 478.9,441.1 471.3,439.4" fill="#3b2f2d"/>
<polygon points="471.3,441.6 477.5,443.0 477.5,463.8 471.3,462.7" fill="#201e1e"/>
<polygon points="471.3,463.5 479.1,464.9 479.1,468.8 471.3,467.5" fill="#3b2f2d"/>
<polygon points="471.3,470.1 478.1,471.3 478.1,491.6 471.3,490.7" fill="#2b2929"/>
<polygon points="478.1,416.2 481.2,417.1 481.2,495.5 478.1,495.1" fill="#0d1010"/>
<polygon points="478.9,419.1 479.9,419.3 479.9,493.6 478.9,493.5" fill="#1c2424"/>
<polygon points="404.6,485.5 481.2,494.9 481.2,498.1 404.6,489.1" fill="#0b0d0d"/>
<polygon points="406.7,486.4 409.3,479.2 417.4,479.5 420.2,485.7 424.2,488.2" fill="#0b0d0d"/>
<polygon points="424.6,488.1 425.7,481.7 429.4,481.6 430.5,488.8" fill="#0b0d0d"/>
<polygon points="433.7,489.2 435.4,484.8 450.1,487.1 451.8,491.4" fill="#0b0d0d"/>
<polygon points="452.7,491.5 453.8,484.7 457.5,485.3 459.1,492.3" fill="#0b0d0d"/>
<polygon points="462.8,492.8 464.5,486.0 473.8,487.4 478.2,494.7" fill="#0b0d0d"/>
<polygon points="410.2,481.3 416.9,481.3 418.5,484.0 409.3,483.8" fill="#222a2a"/>
<polygon points="465.1,487.8 473.1,489.0 475.1,491.7 464.4,490.3" fill="#222a2a"/>
<polyline points="404.6,426.6 405.2,426.6 406.1,426.6 407.1,426.7 408.2,426.6 409.3,426.4 410.4,426.0 411.4,425.3 412.4,424.5 413.3,423.5 414.3,422.4 415.3,421.3 416.2,420.2 417.1,419.2 418.0,418.1 418.9,417.0 419.7,416.0 420.6,415.0 421.5,414.2 422.3,413.5 423.1,412.9 423.9,412.4 424.7,412.0 425.7,411.6 426.8,411.3 428.2,411.1 429.9,410.9 431.7,410.8 433.4,410.7 434.8,410.7 435.8,410.6" fill="none" stroke="#0b0d0d" stroke-width="2.04" stroke-linecap="round" stroke-linejoin="round"/>
<polyline points="404.6,429.1 405.4,429.1 406.6,429.2 408.0,429.2 409.5,429.2 410.9,429.1 412.1,428.7 413.2,428.1 414.1,427.4 415.0,426.4 415.8,425.4 416.6,424.4 417.4,423.4 418.3,422.5 419.0,421.4 419.8,420.4 420.5,419.3 421.3,418.4 422.1,417.6 422.8,416.9 423.6,416.3 424.4,415.8 425.2,415.3 426.0,415.0 426.8,414.6 427.6,414.4 428.5,414.3 429.4,414.2 430.3,414.2 431.2,414.2 432.0,414.3 432.7,414.3 433.5,414.4 434.2,414.5 434.9,414.7 435.4,414.8 435.8,414.9" fill="none" stroke="#0b0d0d" stroke-width="2.04" stroke-linecap="round" stroke-linejoin="round"/>
<polyline points="408.9,425.4 409.4,425.3 410.0,425.2 410.8,425.1 411.7,424.9 412.5,424.5 413.3,423.9 414.0,423.0 414.7,421.9 415.4,420.6 416.1,419.2 416.8,417.9 417.6,416.7 418.4,415.6 419.2,414.4 420.0,413.3 420.9,412.3 421.8,411.4 422.7,410.8 423.8,410.3 425.1,410.1 426.4,410.1 427.7,410.1 428.7,410.1 429.4,410.1" fill="none" stroke="#0b0d0d" stroke-width="1.33" stroke-linecap="round" stroke-linejoin="round"/>
<polygon points="435.8,407.2 450.5,411.1 450.5,487.0 435.8,485.1" fill="#2d9c5f"/>
<polygon points="435.8,407.2 450.5,411.1 450.5,421.5 435.8,417.8" fill="#4ba675"/>
<polygon points="435.8,417.8 450.5,421.5 450.5,431.5 435.8,428.2" fill="#47a672"/>
<polygon points="435.8,428.2 450.5,431.5 450.5,438.8 435.8,435.6" fill="#62b48a"/>
<polygon points="435.8,435.6 450.5,438.8 450.5,445.2 435.8,442.2" fill="#6ab990"/>
<polygon points="435.8,442.2 450.5,445.2 450.5,453.4 435.8,450.6" fill="#48a876"/>
<polygon points="435.8,450.6 450.5,453.4 450.5,466.2 435.8,463.7" fill="#2a9c60"/>
<polygon points="435.8,463.7 450.5,466.2 450.5,477.2 435.8,475.0" fill="#239a52"/>
<polygon points="435.8,475.0 450.5,477.2 450.5,487.0 435.8,485.1" fill="#1a964c"/>
<polygon points="438.2,418.7 449.6,421.6 449.6,430.6 438.2,428.0" fill="#0a0a0a"/>
<circle cx="440.8" cy="421.1" r="0.89" fill="#f4f4f4"/>
<circle cx="447.9" cy="422.9" r="0.89" fill="#f4f4f4"/>
<circle cx="440.8" cy="426.8" r="0.89" fill="#f4f4f4"/>
<circle cx="447.9" cy="428.5" r="0.89" fill="#f4f4f4"/>
<polyline points="442.1,422.1 446.6,427.5" fill="none" stroke="#c4c4c4" stroke-width="0.80" stroke-linecap="round" stroke-linejoin="round"/>
<polyline points="446.6,423.2 442.1,426.4" fill="none" stroke="#c4c4c4" stroke-width="0.80" stroke-linecap="round" stroke-linejoin="round"/>
<polyline points="444.4,422.1 444.4,427.5" fill="none" stroke="#b0b0b0" stroke-width="0.71" stroke-linecap="round" stroke-linejoin="round"/>
<polyline points="442.1,424.3 446.6,425.4" fill="none" stroke="#9a9a9a" stroke-width="0.53" stroke-linecap="round" stroke-linejoin="round"/>
<polygon points="439.8,443.0 447.5,444.6 447.5,452.1 439.8,450.6" fill="#0a0a0a"/>
<circle cx="441.9" cy="444.8" r="0.75" fill="#f4f4f4"/>
<circle cx="446.2" cy="445.7" r="0.75" fill="#f4f4f4"/>
<circle cx="441.9" cy="449.7" r="0.75" fill="#f4f4f4"/>
<circle cx="446.2" cy="450.5" r="0.75" fill="#f4f4f4"/>
<polyline points="442.3,445.7 445.8,449.6" fill="none" stroke="#c4c4c4" stroke-width="0.80" stroke-linecap="round" stroke-linejoin="round"/>
<polyline points="445.8,446.4 442.3,449.0" fill="none" stroke="#c4c4c4" stroke-width="0.80" stroke-linecap="round" stroke-linejoin="round"/>
<polyline points="444.1,445.6 444.1,449.7" fill="none" stroke="#b0b0b0" stroke-width="0.71" stroke-linecap="round" stroke-linejoin="round"/>
<polyline points="442.3,447.3 445.8,448.0" fill="none" stroke="#9a9a9a" stroke-width="0.53" stroke-linecap="round" stroke-linejoin="round"/>
<polygon points="438.2,464.7 449.8,466.6 449.8,476.7 438.2,475.0" fill="#0a0a0a"/>
<circle cx="440.8" cy="466.9" r="0.89" fill="#f4f4f4"/>
<circle cx="448.2" cy="468.1" r="0.89" fill="#f4f4f4"/>
<circle cx="440.8" cy="473.6" r="0.89" fill="#f4f4f4"/>
<circle cx="448.2" cy="474.7" r="0.89" fill="#f4f4f4"/>
<polyline points="442.2,468.3 446.8,473.3" fill="none" stroke="#c4c4c4" stroke-width="0.80" stroke-linecap="round" stroke-linejoin="round"/>
<polyline points="446.8,469.0 442.2,472.6" fill="none" stroke="#c4c4c4" stroke-width="0.80" stroke-linecap="round" stroke-linejoin="round"/>
<polyline points="444.5,468.1 444.5,473.5" fill="none" stroke="#b0b0b0" stroke-width="0.71" stroke-linecap="round" stroke-linejoin="round"/>
<polyline points="442.2,470.5 446.8,471.2" fill="none" stroke="#9a9a9a" stroke-width="0.53" stroke-linecap="round" stroke-linejoin="round"/>
<polygon points="436.5,418.8 437.7,419.1 437.7,427.4 436.5,427.1" fill="#174c30"/>
<polygon points="436.5,464.8 437.7,465.0 437.7,474.3 436.5,474.1" fill="#174c30"/>
<polygon points="438.8,419.5 439.6,419.7 439.6,427.6 438.8,427.4" fill="#8a8f8c"/>
<polygon points="438.8,465.4 439.6,465.6 439.6,474.6 438.8,474.5" fill="#8a8f8c"/>
<polygon points="440.4,452.0 447.1,453.2 447.1,455.3 440.4,454.1" fill="#a8dcc0"/>
<circle cx="441.6" cy="453.2" r="0.62" fill="#eef"/>
<circle cx="443.9" cy="453.7" r="0.62" fill="#eef"/>
<circle cx="446.3" cy="454.1" r="0.62" fill="#eef"/>
<polygon points="422.6,427.0 424.4,427.4 424.4,459.0 422.6,458.6" fill="#0d0d0d"/>
<polygon points="424.3,428.6 438.2,431.8 438.2,459.5 424.3,457.0" fill="#e6e6e3"/>
<polygon points="424.3,428.6 438.2,431.8 438.2,436.9 424.3,433.9" fill="#cfcfcc"/>
<polygon points="425.7,430.8 436.8,433.2 436.8,434.2 425.7,431.7" fill="#9a9a98"/>
<polygon points="424.3,451.8 438.2,454.4 438.2,459.5 424.3,457.0" fill="#c2c2c0"/>
<polygon points="424.3,428.6 425.2,428.8 425.2,457.2 424.3,457.0" fill="#a9a9a7"/>
<polygon points="426.6,435.5 427.6,435.7 427.6,437.3 426.6,437.1" fill="#333333"/>
<polygon points="426.6,437.8 427.6,438.0 427.6,439.6 426.6,439.4" fill="#333333"/>
<polygon points="426.6,440.1 427.6,440.3 427.6,441.9 426.6,441.7" fill="#333333"/>
<polygon points="426.6,442.4 427.6,442.6 427.6,444.2 426.6,444.0" fill="#333333"/>
<polygon points="426.6,444.6 427.6,444.8 427.6,446.4 426.6,446.3" fill="#333333"/>
<polygon points="426.6,446.9 427.6,447.1 427.6,448.7 426.6,448.5" fill="#333333"/>
<polygon points="426.6,449.2 427.6,449.4 427.6,451.0 426.6,450.8" fill="#333333"/>
<polygon points="429.0,436.0 430.0,436.2 430.0,437.8 429.0,437.6" fill="#333333"/>
<polygon points="429.0,438.3 430.0,438.5 430.0,440.1 429.0,439.9" fill="#333333"/>
<polygon points="429.0,440.6 430.0,440.8 430.0,442.4 429.0,442.2" fill="#333333"/>
<polygon points="429.0,442.8 430.0,443.0 430.0,444.6 429.0,444.4" fill="#333333"/>
<polygon points="429.0,445.1 430.0,445.3 430.0,446.9 429.0,446.7" fill="#333333"/>
<polygon points="429.0,447.4 430.0,447.6 430.0,449.2 429.0,449.0" fill="#333333"/>
<polygon points="429.0,449.7 430.0,449.9 430.0,451.5 429.0,451.3" fill="#333333"/>
<polygon points="431.4,436.5 432.4,436.7 432.4,438.3 431.4,438.1" fill="#333333"/>
<polygon points="431.4,438.8 432.4,439.0 432.4,440.6 431.4,440.4" fill="#333333"/>
<polygon points="431.4,441.1 432.4,441.3 432.4,442.9 431.4,442.7" fill="#8a8f60"/>
<polygon points="431.4,443.3 432.4,443.5 432.4,445.1 431.4,444.9" fill="#8a8f60"/>
<polygon points="431.4,445.6 432.4,445.8 432.4,447.4 431.4,447.2" fill="#8a8f60"/>
<polygon points="431.4,447.9 432.4,448.0 432.4,449.6 431.4,449.5" fill="#333333"/>
<polygon points="431.4,450.1 432.4,450.3 432.4,451.9 431.4,451.7" fill="#333333"/>
<polygon points="433.8,437.0 434.8,437.2 434.8,438.8 433.8,438.6" fill="#cdb85e"/>
<polygon points="433.8,439.3 434.8,439.5 434.8,441.1 433.8,440.9" fill="#cdb85e"/>
<polygon points="433.8,441.5 434.8,441.7 434.8,443.3 433.8,443.1" fill="#cdb85e"/>
<polygon points="433.8,443.8 434.8,444.0 434.8,445.6 433.8,445.4" fill="#cdb85e"/>
<polygon points="433.8,446.1 434.8,446.2 434.8,447.8 433.8,447.7" fill="#cdb85e"/>
<polygon points="433.8,448.3 434.8,448.5 434.8,450.1 433.8,449.9" fill="#333333"/>
<polygon points="433.8,450.6 434.8,450.8 434.8,452.3 433.8,452.2" fill="#333333"/>
<polygon points="436.1,437.5 437.1,437.7 437.1,439.3 436.1,439.1" fill="#333333"/>
<polygon points="436.1,439.8 437.1,440.0 437.1,441.6 436.1,441.4" fill="#333333"/>
<polygon points="436.1,442.0 437.1,442.2 437.1,443.8 436.1,443.6" fill="#333333"/>
<polygon points="436.1,444.3 437.1,444.5 437.1,446.1 436.1,445.9" fill="#333333"/>
<polygon points="436.1,446.5 437.1,446.7 437.1,448.3 436.1,448.1" fill="#333333"/>
<polygon points="436.1,448.8 437.1,449.0 437.1,450.5 436.1,450.4" fill="#333333"/>
<polygon points="436.1,451.0 437.1,451.2 437.1,452.8 436.1,452.6" fill="#333333"/>
<polygon points="425.4,427.4 433.4,429.2 433.4,431.0 425.4,429.2" fill="#0c0c0c"/>
<polygon points="426.0,425.7 427.0,425.9 427.0,428.2 426.0,428.0" fill="#1b4fb4"/>
<circle cx="426.5" cy="428.8" r="0.31" fill="#cfcfcf"/>
<polygon points="427.5,426.0 428.5,426.3 428.5,428.6 427.5,428.3" fill="#1b4fb4"/>
<circle cx="428.0" cy="429.1" r="0.31" fill="#cfcfcf"/>
<polygon points="429.0,426.4 430.0,426.6 430.0,428.9 429.0,428.7" fill="#1b4fb4"/>
<circle cx="429.5" cy="429.4" r="0.31" fill="#cfcfcf"/>
<polygon points="430.5,426.7 431.5,427.0 431.5,429.2 430.5,429.0" fill="#1b4fb4"/>
<circle cx="431.0" cy="429.8" r="0.31" fill="#cfcfcf"/>
<polygon points="432.0,427.1 433.0,427.3 433.0,429.6 432.0,429.3" fill="#1b4fb4"/>
<circle cx="432.5" cy="430.1" r="0.31" fill="#cfcfcf"/>
<polygon points="425.9,457.1 437.6,459.2 437.6,461.2 425.9,459.2" fill="#0c0c0c"/>
<polygon points="426.9,459.0 427.9,459.2 427.9,462.0 426.9,461.9" fill="#1b4fb4"/>
<circle cx="427.4" cy="458.3" r="0.31" fill="#cfcfcf"/>
<polygon points="428.4,459.3 429.4,459.4 429.4,462.3 428.4,462.1" fill="#1b4fb4"/>
<circle cx="428.9" cy="458.6" r="0.31" fill="#cfcfcf"/>
<polygon points="429.9,459.5 430.9,459.7 430.9,462.5 429.9,462.4" fill="#1b4fb4"/>
<circle cx="430.4" cy="458.9" r="0.31" fill="#cfcfcf"/>
<polygon points="431.4,459.8 432.4,460.0 432.4,462.8 431.4,462.6" fill="#1b4fb4"/>
<circle cx="431.9" cy="459.1" r="0.31" fill="#cfcfcf"/>
<polygon points="432.9,460.0 433.9,460.2 433.9,463.0 432.9,462.9" fill="#1b4fb4"/>
<circle cx="433.4" cy="459.4" r="0.31" fill="#cfcfcf"/>
<polygon points="434.4,460.3 435.3,460.5 435.3,463.3 434.4,463.1" fill="#1b4fb4"/>
<circle cx="434.8" cy="459.6" r="0.31" fill="#cfcfcf"/>
<polygon points="435.8,460.6 436.8,460.7 436.8,463.5 435.8,463.4" fill="#1b4fb4"/>
<circle cx="436.3" cy="459.9" r="0.31" fill="#cfcfcf"/>
<polyline points="427.4,427.6 427.3,426.9 427.1,425.9 427.0,424.7 426.8,423.4 426.7,422.2 426.6,421.3 426.6,420.5 426.7,419.8 426.8,419.2 426.9,418.6 427.0,418.1 427.1,417.6 427.2,417.1 427.4,416.7 427.6,416.3 427.7,415.9 427.8,415.6 427.9,415.4" fill="none" stroke="#dba21c" stroke-width="0.89" stroke-linecap="round" stroke-linejoin="round"/>
<polyline points="429.8,428.2 429.8,427.6 429.8,426.8 429.7,425.8 429.6,424.8 429.6,423.8 429.6,422.9 429.6,422.1 429.7,421.3 429.8,420.5 429.9,419.8 430.0,419.2 430.1,418.8" fill="none" stroke="#2c3f9e" stroke-width="0.80" stroke-linecap="round" stroke-linejoin="round"/>
<polyline points="431.7,428.6 431.8,428.1 431.8,427.2 431.8,426.3 431.9,425.3 431.9,424.3 431.9,423.5 431.9,422.7 431.8,421.9 431.7,421.2 431.6,420.6 431.5,420.0 431.5,419.6" fill="none" stroke="#2c3f9e" stroke-width="0.80" stroke-linecap="round" stroke-linejoin="round"/>
<polyline points="430.3,462.3 430.0,463.4 429.8,464.5 429.6,465.7 429.6,466.9 429.7,468.0 429.9,469.2 430.2,470.3 430.6,471.4 431.1,472.4 431.6,473.3 432.3,474.1 433.0,474.8 433.8,475.3 434.8,475.8" fill="none" stroke="#c81e2b" stroke-width="1.06" stroke-linecap="round" stroke-linejoin="round"/>
<polyline points="432.3,462.7 432.0,463.5 431.8,464.5 431.7,465.4 431.7,466.3 431.7,467.2 431.9,468.1 432.1,468.9 432.3,469.6 432.7,470.3 433.1,470.9 433.5,471.4 434.0,471.8 434.6,472.0 435.2,472.1" fill="none" stroke="#c81e2b" stroke-width="1.06" stroke-linecap="round" stroke-linejoin="round"/>
<polyline points="434.4,463.0 434.6,463.8 434.7,464.5 434.7,465.1 434.7,465.8 434.6,466.3 434.4,466.8 434.1,467.2 433.9,467.5 433.5,467.7 433.2,467.8 432.8,467.8 432.4,467.6 431.9,467.3 431.5,466.8" fill="none" stroke="#c81e2b" stroke-width="0.98" stroke-linecap="round" stroke-linejoin="round"/>
<polyline points="427.8,461.9 427.5,463.4 427.4,464.9 427.4,466.4 427.5,467.9 427.8,469.4 428.2,470.8 428.7,472.1 429.3,473.3 430.1,474.4 430.9,475.4 431.9,476.3 432.9,476.9 434.0,477.4 435.2,477.7" fill="none" stroke="#0b0d0d" stroke-width="0.98" stroke-linecap="round" stroke-linejoin="round"/>
<polyline points="450.4,414.4 450.8,414.6 451.4,414.8 452.0,415.0 452.7,415.3 453.4,415.5 454.0,415.8 454.5,416.1 454.9,416.4 455.4,416.7 455.8,417.1 456.3,417.5 456.7,418.1 457.1,418.8 457.6,419.6 458.0,420.5 458.5,421.4 458.8,422.4 459.1,423.4 459.4,424.4 459.5,425.5 459.6,426.6 459.7,427.6 459.8,428.7 459.9,429.7 460.0,430.6 460.2,431.4 460.4,432.2 460.6,433.0 460.8,433.8 461.0,434.5 461.3,435.2 461.6,435.9 461.9,436.6 462.2,437.2 462.6,437.8 462.9,438.4 463.3,439.0 463.7,439.6 464.2,440.1 464.6,440.7 465.0,441.2 465.4,441.6 465.7,442.1 465.9,442.5 466.1,442.8 466.3,443.2 466.4,443.4 466.6,443.7" fill="none" stroke="#0b0d0d" stroke-width="1.33" stroke-linecap="round" stroke-linejoin="round"/>
<polyline points="450.5,421.4 450.8,421.7 451.2,422.0 451.6,422.4 452.0,422.9 452.4,423.4 452.7,423.9 452.9,424.4 453.0,425.0 453.1,425.6 453.1,426.2 453.1,426.9 453.1,427.6 453.0,428.4 452.8,429.2 452.7,430.0 452.5,430.9 452.3,431.9 452.1,432.8 452.0,433.8 451.9,434.9 451.8,435.9 451.8,437.0 451.7,438.1 451.6,439.1 451.5,440.1 451.4,441.0 451.4,442.0 451.3,442.9 451.3,443.7 451.3,444.5 451.4,445.1 451.5,445.7 451.7,446.2 451.9,446.7 452.1,447.1 452.5,447.4 452.8,447.7 453.2,447.9 453.7,448.1 454.2,448.2 454.8,448.2 455.5,448.2 456.2,448.2 457.1,448.1 458.0,447.9 458.9,447.7 459.8,447.5 460.7,447.3 461.6,447.1 462.5,446.8 463.4,446.5 464.2,446.2 464.9,446.0 465.4,445.8" fill="none" stroke="#0b0d0d" stroke-width="1.51" stroke-linecap="round" stroke-linejoin="round"/>
<polyline points="468.7,444.8 469.2,444.7 469.8,444.5 470.6,444.3 471.5,444.1 472.3,443.9 473.0,443.7 473.6,443.6 474.2,443.5 474.7,443.4 475.3,443.3 475.9,443.2 476.6,443.2 477.3,443.2 478.2,443.1 479.2,443.1 480.0,443.1 480.8,443.1 481.3,443.1" fill="none" stroke="#0b0d0d" stroke-width="1.60" stroke-linecap="round" stroke-linejoin="round"/>
<polygon points="464.7,444.2 468.5,443.5 469.1,446.2 465.7,447.0" fill="#c9994f"/>
<polygon points="458.8,425.4 462.4,426.2 462.4,432.5 458.8,431.7" fill="#0b0d0d"/>
<circle cx="463.1" cy="427.6" r="0.84" fill="#e8e8e8"/>
<circle cx="463.1" cy="431.5" r="0.84" fill="#e8e8e8"/>
<polygon points="459.4,447.5 462.8,448.2 462.8,454.9 459.4,454.2" fill="#0b0d0d"/>
<circle cx="463.4" cy="449.5" r="0.84" fill="#e8e8e8"/>
<circle cx="463.4" cy="453.8" r="0.84" fill="#e8e8e8"/>
<polygon points="459.8,469.7 463.1,470.3 463.1,477.2 459.8,476.7" fill="#0b0d0d"/>
<circle cx="463.8" cy="471.5" r="0.84" fill="#e8e8e8"/>
<circle cx="463.8" cy="476.2" r="0.84" fill="#e8e8e8"/>
<polygon points="421.2,436.3 423.6,436.8 423.6,444.5 421.2,444.0" fill="#0b0d0d"/>
<circle cx="424.3" cy="438.2" r="0.84" fill="#e8e8e8"/>
<circle cx="424.3" cy="443.4" r="0.84" fill="#e8e8e8"/>
<polygon points="421.4,461.8 423.6,462.2 423.6,472.2 421.4,471.9" fill="#0b0d0d"/>
<circle cx="424.3" cy="463.5" r="0.84" fill="#e8e8e8"/>
<circle cx="424.3" cy="471.1" r="0.84" fill="#e8e8e8"/>
<circle cx="424.2" cy="418.1" r="0.93" fill="#e8e8e8"/>
<circle cx="424.2" cy="424.3" r="0.93" fill="#e8e8e8"/>
<circle cx="457.7" cy="458.9" r="0.71" fill="#222"/>
<circle cx="457.7" cy="439.1" r="0.71" fill="#222"/>
<circle cx="406.0" cy="394.2" r="0.84" fill="#e0e0e0"/>
<circle cx="425.7" cy="399.6" r="0.84" fill="#e0e0e0"/>
<circle cx="443.5" cy="404.5" r="0.84" fill="#e0e0e0"/>
<circle cx="447.5" cy="405.6" r="0.84" fill="#e0e0e0"/>
<circle cx="464.0" cy="410.2" r="0.84" fill="#e0e0e0"/>
<circle cx="480.2" cy="414.6" r="0.84" fill="#e0e0e0"/>
<circle cx="406.0" cy="487.9" r="0.84" fill="#e0e0e0"/>
<circle cx="425.7" cy="490.3" r="0.84" fill="#e0e0e0"/>
<circle cx="443.5" cy="492.4" r="0.84" fill="#e0e0e0"/>
<circle cx="447.5" cy="492.8" r="0.84" fill="#e0e0e0"/>
<circle cx="464.0" cy="494.8" r="0.84" fill="#e0e0e0"/>
<circle cx="480.2" cy="496.7" r="0.84" fill="#e0e0e0"/>
<circle cx="405.6" cy="412.3" r="0.84" fill="#e0e0e0"/>
<circle cx="405.6" cy="418.2" r="0.84" fill="#e0e0e0"/>
<circle cx="405.6" cy="440.4" r="0.84" fill="#e0e0e0"/>
<circle cx="405.6" cy="462.1" r="0.84" fill="#e0e0e0"/>
<circle cx="405.6" cy="468.0" r="0.84" fill="#e0e0e0"/>
<circle cx="479.6" cy="430.9" r="0.84" fill="#e0e0e0"/>
<circle cx="479.6" cy="436.1" r="0.84" fill="#e0e0e0"/>
<circle cx="479.6" cy="455.1" r="0.84" fill="#e0e0e0"/>
<circle cx="479.6" cy="458.6" r="0.84" fill="#e0e0e0"/>
<circle cx="479.6" cy="475.0" r="0.84" fill="#e0e0e0"/>
<circle cx="479.6" cy="480.1" r="0.84" fill="#e0e0e0"/>
<circle cx="410.0" cy="429.3" r="0.75" fill="#e8e8e8"/>
<circle cx="410.0" cy="453.0" r="0.75" fill="#e8e8e8"/>
<circle cx="409.6" cy="484.3" r="0.75" fill="#e8e8e8"/>
<circle cx="477.5" cy="492.8" r="0.75" fill="#e8e8e8"/>
<circle cx="421.4" cy="488.2" r="0.71" fill="#e8e8e8"/>
<circle cx="460.1" cy="492.9" r="0.71" fill="#e8e8e8"/>
<polyline points="444.2,402.9 446.8,406.7" fill="none" stroke="#dedede" stroke-width="0.62" stroke-linecap="round" stroke-linejoin="round"/>
<polyline points="446.8,403.6 444.2,406.0" fill="none" stroke="#dedede" stroke-width="0.62" stroke-linecap="round" stroke-linejoin="round"/>
<polyline points="444.2,491.2 446.8,494.7" fill="none" stroke="#dedede" stroke-width="0.62" stroke-linecap="round" stroke-linejoin="round"/>
<polyline points="446.8,491.6 444.2,494.4" fill="none" stroke="#dedede" stroke-width="0.62" stroke-linecap="round" stroke-linejoin="round"/>
<polyline points="403.0,413.0 406.1,417.1" fill="none" stroke="#dedede" stroke-width="0.62" stroke-linecap="round" stroke-linejoin="round"/>
<polyline points="406.1,413.7 403.0,416.3" fill="none" stroke="#dedede" stroke-width="0.62" stroke-linecap="round" stroke-linejoin="round"/>
<polyline points="403.4,439.7 405.8,442.7" fill="none" stroke="#dedede" stroke-width="0.62" stroke-linecap="round" stroke-linejoin="round"/>
<polyline points="405.8,440.2 403.4,442.3" fill="none" stroke="#dedede" stroke-width="0.62" stroke-linecap="round" stroke-linejoin="round"/>
<polyline points="403.0,463.0 406.1,466.8" fill="none" stroke="#dedede" stroke-width="0.62" stroke-linecap="round" stroke-linejoin="round"/>
<polyline points="406.1,463.5 403.0,466.4" fill="none" stroke="#dedede" stroke-width="0.62" stroke-linecap="round" stroke-linejoin="round"/>
<polyline points="480.0,432.1 482.3,435.6" fill="none" stroke="#dedede" stroke-width="0.62" stroke-linecap="round" stroke-linejoin="round"/>
<polyline points="482.3,432.7 480.0,435.1" fill="none" stroke="#dedede" stroke-width="0.62" stroke-linecap="round" stroke-linejoin="round"/>
<polyline points="480.3,455.8 482.1,458.4" fill="none" stroke="#dedede" stroke-width="0.62" stroke-linecap="round" stroke-linejoin="round"/>
<polyline points="482.1,456.2 480.3,458.1" fill="none" stroke="#dedede" stroke-width="0.62" stroke-linecap="round" stroke-linejoin="round"/>
<polyline points="480.0,476.2 482.3,479.4" fill="none" stroke="#dedede" stroke-width="0.62" stroke-linecap="round" stroke-linejoin="round"/>
<polyline points="482.3,476.5 480.0,479.1" fill="none" stroke="#dedede" stroke-width="0.62" stroke-linecap="round" stroke-linejoin="round"/>
<circle cx="436.8" cy="408.7" r="0.53" fill="#e6f5ec"/>
<circle cx="449.6" cy="412.6" r="0.53" fill="#e6f5ec"/>
<circle cx="436.8" cy="483.8" r="0.53" fill="#e6f5ec"/>
<circle cx="449.6" cy="485.7" r="0.53" fill="#e6f5ec"/>
</g>
<defs><pattern id="led" width="3" height="3" patternUnits="userSpaceOnUse"><rect width="3" height="3" fill="#343635"/><rect x="0" y="0" width="1" height="3" fill="#313332"/></pattern><radialGradient id="rg"><stop offset="0" stop-color="#c8283c" stop-opacity=".9"/><stop offset="1" stop-color="#c8283c" stop-opacity="0"/></radialGradient><radialGradient id="pg"><stop offset="0" stop-color="#ff9ab0" stop-opacity=".9"/><stop offset="1" stop-color="#ffb0c0" stop-opacity="0"/></radialGradient></defs>
<polygon points="218.700,833.600 218.700,708.400 269,703 269,643 315.700,641 315.700,585.500 362,585 362,537 403.500,537.500 403.500,490 482,499 482,413 618.800,454 618.800,724" fill="url(#led)"/>
<polygon points="568.500,270.300 652,288.600 652,380.500 568.500,369.500" fill="#080808"/>
<polygon points="570,271 652,288.600 652,376.500 570,365.500" fill="#303232"/>
<circle cx="569" cy="270.5" r="4.500" fill="url(#pg)"/>
<circle cx="652" cy="289" r="4.500" fill="url(#pg)"/>
<circle cx="569" cy="369" r="4.500" fill="url(#pg)"/>
<circle cx="651.5" cy="380.5" r="4.500" fill="url(#pg)"/>
<circle cx="445.3" cy="447.1" r="5.500" fill="url(#rg)"/>
<circle cx="482.1" cy="457.8" r="5.500" fill="url(#rg)"/>
<circle cx="445.3" cy="493.7" r="5.500" fill="url(#rg)"/>
<circle cx="482.1" cy="498.6" r="5.500" fill="url(#rg)"/>
<path d="M568.6 272.3C567.6 273.2 563.9 274.7 562.5 277.8C561.1 280.9 562.0 286.5 560.3 290.7C558.7 294.9 555.7 299.9 552.7 302.9C549.6 306.0 544.5 306.0 541.9 309.1C539.4 312.1 538.9 317.2 537.3 321.3C535.8 325.4 535.3 329.5 532.7 333.6C530.2 337.7 525.8 342.0 522.0 345.9C518.2 349.7 512.8 353.0 509.7 356.6C506.7 360.2 504.9 364.0 503.6 367.3C502.3 370.7 503.3 373.7 502.1 376.5C500.8 379.3 497.2 381.6 495.9 384.2C494.7 386.8 496.2 388.8 494.4 391.9C492.6 394.9 489.3 399.3 485.2 402.6C481.1 405.9 474.0 408.0 469.9 411.8C465.8 415.6 463.2 421.3 460.7 425.6C458.1 429.9 457.1 434.3 454.5 437.9C452.0 441.4 446.9 445.5 445.3 447.1" fill="none" stroke="#529fe4" stroke-width="1.800" stroke-linecap="round"/>
<path d="M568.6 349.9C567.0 351.2 562.0 354.2 558.8 358.1C555.6 362.1 553.7 367.3 549.6 373.5C545.5 379.6 539.4 388.3 534.3 394.9C529.2 401.6 524.6 406.7 518.9 413.3C513.3 420.0 505.6 428.7 500.5 434.8C495.4 440.9 491.3 446.3 488.3 450.1C485.2 454.0 483.2 456.5 482.1 457.8" fill="none" stroke="#529fe4" stroke-width="1.800" stroke-linecap="round"/>
<path d="M568.6 371.0C567.5 371.9 564.5 373.1 561.9 376.5C559.2 380.0 555.7 387.5 552.7 391.9C549.6 396.2 547.6 399.5 543.5 402.6C539.4 405.7 532.2 406.9 528.1 410.3C524.0 413.6 523.0 417.4 518.9 422.5C514.8 427.6 508.2 435.3 503.6 440.9C499.0 446.6 495.9 451.2 491.3 456.3C486.7 461.4 481.1 467.0 476.0 471.6C470.9 476.2 465.8 480.2 460.7 483.9C455.6 487.5 447.9 492.0 445.3 493.7" fill="none" stroke="#529fe4" stroke-width="1.800" stroke-linecap="round"/>
<path d="M650.2 382.7C648.8 383.2 645.1 383.7 641.6 385.7C638.1 387.8 633.4 390.8 629.3 394.9C625.2 399.0 621.7 406.2 617.1 410.3C612.5 414.4 607.4 416.7 601.7 419.5C596.1 422.3 588.4 423.6 583.3 427.1C578.2 430.7 575.2 436.6 571.1 440.9C567.0 445.3 562.9 449.6 558.8 453.2C554.7 456.8 551.6 459.3 546.5 462.4C541.4 465.5 534.3 468.0 528.1 471.6C522.0 475.2 515.4 480.0 509.7 483.9C504.1 487.7 499.0 492.1 494.4 494.6C489.8 497.1 484.2 497.9 482.1 498.6" fill="none" stroke="#529fe4" stroke-width="1.800" stroke-linecap="round"/>
<circle cx="445.3" cy="447.1" r="1.800" fill="#4a8fe0"/>
<circle cx="482.1" cy="457.8" r="1.800" fill="#4a8fe0"/>
<circle cx="445.3" cy="493.7" r="1.800" fill="#4a8fe0"/>
<circle cx="482.1" cy="498.6" r="1.800" fill="#4a8fe0"/>
<circle cx="568.6" cy="272.3" r="1.800" fill="#4a8fe0"/>
<circle cx="568.6" cy="371.0" r="1.800" fill="#4a8fe0"/>
<circle cx="650.2" cy="382.7" r="1.800" fill="#4a8fe0"/>
</svg>
</body></html>
